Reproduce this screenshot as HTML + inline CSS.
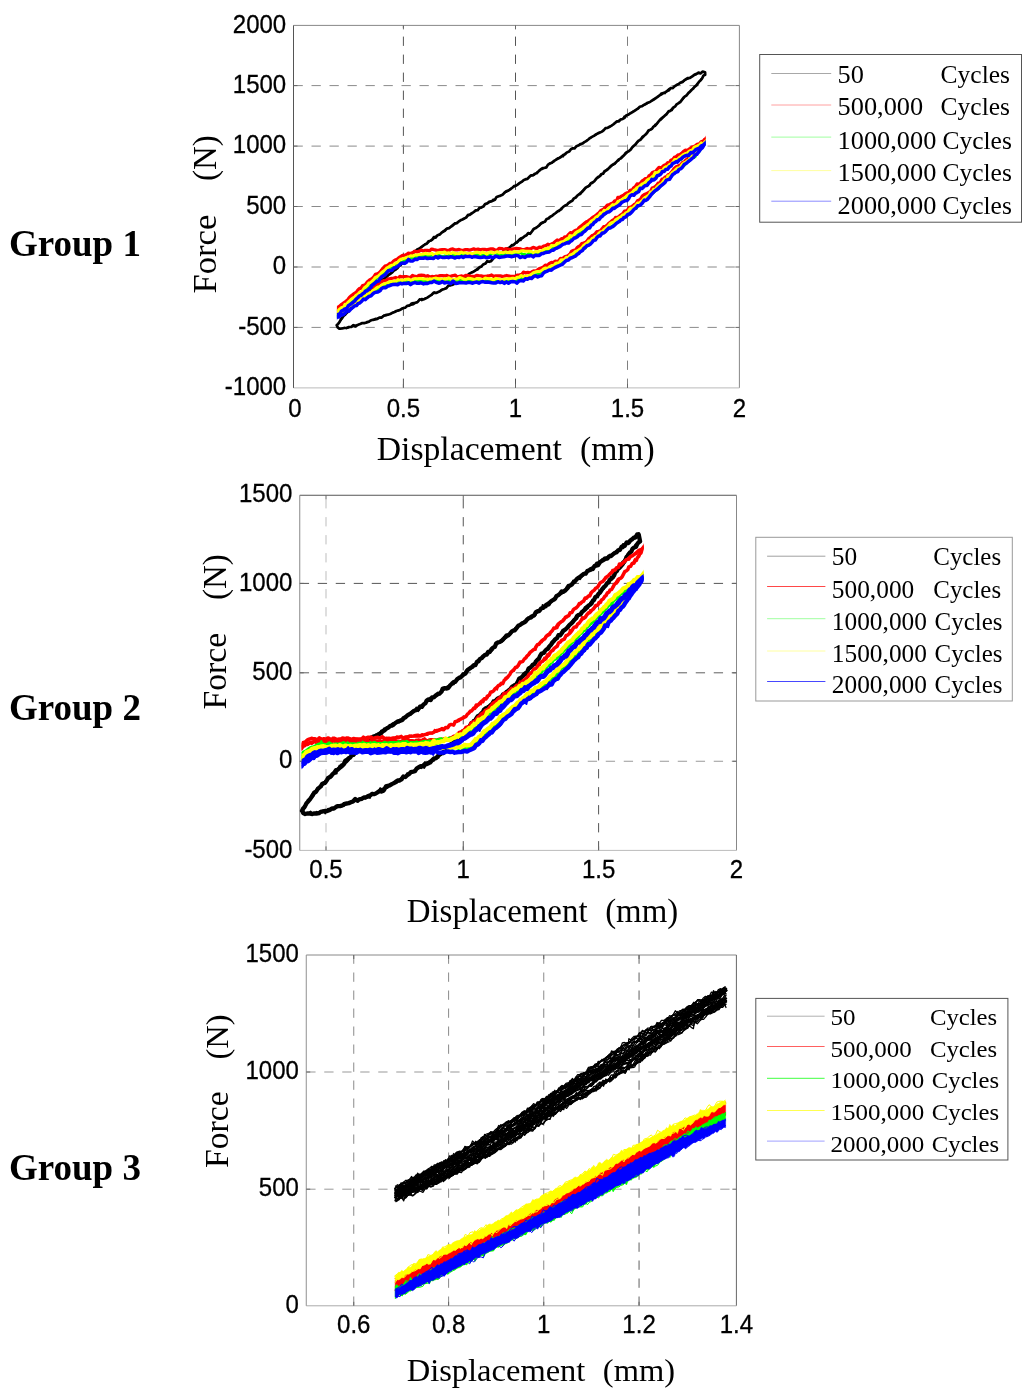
<!DOCTYPE html>
<html lang="en"><head><meta charset="utf-8"><title>Force-displacement hysteresis curves</title>
<style>
html,body{margin:0;padding:0;background:#fff}
svg{display:block}
text{fill:#000;stroke:none}
.t{stroke:#000;stroke-width:.3px}
.g{stroke-dasharray:9.3 8.7}
.c{fill:none;stroke-linejoin:round;stroke-linecap:round}
.t{font-family:"Liberation Sans",Arial,Helvetica,sans-serif;font-size:24px}
.l{font-family:"Liberation Serif","Times New Roman",Times,serif;font-size:33px}
.x{word-spacing:0.6px;white-space:pre}
.s{font-family:"Liberation Serif","Times New Roman",Times,serif}
.grp{font-family:"Liberation Serif","Times New Roman",Times,serif;font-size:37px;font-weight:bold}
</style></head>
<body>
<svg width="1024" height="1400" viewBox="0 0 1024 1400">
<rect width="1024" height="1400" fill="#fff"/>
<g fill="none">
<text class="grp" x="9" y="255.8">Group 1</text>
<path class="g" d="M403.4 387.9V25.4" stroke="#555"/>
<path class="g" d="M515.5 387.9V25.4" stroke="#555"/>
<path class="g" d="M627.5 387.9V25.4" stroke="#808080"/>
<path class="g" d="M293.5 85.6H739.4" stroke="#8a8a8a"/>
<path class="g" d="M293.5 146.1H739.4" stroke="#8a8a8a"/>
<path class="g" d="M293.5 206.5H739.4" stroke="#8a8a8a"/>
<path class="g" d="M293.5 267H739.4" stroke="#8a8a8a"/>
<path class="g" d="M293.5 327.4H739.4" stroke="#8a8a8a"/>
<path d="M293.5 25.4H739.4" stroke="#888"/>
<path d="M739.4 25.4V387.9" stroke="#888"/>
<path d="M293.5 387.9H739.4" stroke="#bbb"/>
<path d="M293.5 25.4V387.9" stroke="#555"/>
<path d="M403.4 25.4v4M403.4 387.9v-4M515.5 25.4v4M515.5 387.9v-4M627.5 25.4v4M627.5 387.9v-4M293.5 85.6h4M739.4 85.6h-4M293.5 146.1h4M739.4 146.1h-4M293.5 206.5h4M739.4 206.5h-4M293.5 267h4M739.4 267h-4M293.5 327.4h4M739.4 327.4h-4" stroke="#666"/>
<text class="t" transform="translate(295 416.5) scale(1 1.06)" text-anchor="middle">0</text>
<text class="t" transform="translate(403.4 416.5) scale(1 1.06)" text-anchor="middle">0.5</text>
<text class="t" transform="translate(515.5 416.5) scale(1 1.06)" text-anchor="middle">1</text>
<text class="t" transform="translate(627.5 416.5) scale(1 1.06)" text-anchor="middle">1.5</text>
<text class="t" transform="translate(739.4 416.5) scale(1 1.06)" text-anchor="middle">2</text>
<text class="t" transform="translate(286.2 32.5) scale(1 1.06)" text-anchor="end">2000</text>
<text class="t" transform="translate(286.2 92.7) scale(1 1.06)" text-anchor="end">1500</text>
<text class="t" transform="translate(286.2 153.2) scale(1 1.06)" text-anchor="end">1000</text>
<text class="t" transform="translate(286.2 213.6) scale(1 1.06)" text-anchor="end">500</text>
<text class="t" transform="translate(286.2 274.1) scale(1 1.06)" text-anchor="end">0</text>
<text class="t" transform="translate(286.2 334.5) scale(1 1.06)" text-anchor="end">-500</text>
<text class="t" transform="translate(286.2 395.0) scale(1 1.06)" text-anchor="end">-1000</text>
<text class="l x" style="font-size:33.7px" x="376.7" y="460" xml:space="preserve">Displacement  (mm)</text>
<text class="l" style="font-size:34.6px" transform="translate(216 293.5) rotate(-90)">Force</text>
<text class="l" style="font-size:33px" transform="translate(216 181) rotate(-90)">(N)</text>
<path class="c" d="M337 325l1.1-1.2 1.5-1.9 1.3-2.6 1.3-1.7 1.5-1.8 1.5-1.2 1.7-1.9 1.4-1.3 1.6-2.8 1.8 0 1.6-2.3 1.6-1.3 1.6-1.9 1.5-1.7 1.6-1.2 1.7-1.3 1.8-2.1 1.5-1.5 1.5-1.1 1.8-2.2 1.5-1.8 1.9-0.7 1.6-1.9 1.7-2.1 1.9-0.9 1.6-1.4 1.6-1.7 2-1.6 2-0.7 1.3-1 2.2-1.9 1.5-1.6 1.8-0.9 1.7-1.3 1.6-1.9 2-1.1 1.6-1.3 1.5-2.1 1.7-1.9 1.5-1 1.7-1.6 1.9-1.2 1.2-2.6 1.9-1.3 1.7-1.6 1.8-1.8 1.8-0.7 1.5-1.2 1.7-1.9 2-0.4 1.7-1.6 1.9-1.4 2-1.4 2-1 1.6-2.3 1.8-0.4 2-1.3 1.5-2.4 2.1-0.3 1.7-1.6 2.4-0.8 1.6-1.8 1.8-1.1 1.8-1 1.6-1.9 2.3-0.5 2-1.6 1.6-1 2.1-1.7 1.9-0.5 1.5-1.4 2.3-1.6 1.9-0.8 1.8-1 1.9-0.9 2-2.7 1.6-0.1 2.1-1.4 2.1-1.4 1.6-1.6 2.2-0.2 1.7-2.3 1.7-0.4 2.2-0.9 1.8-2.5 2.1-0.6 1.7-1.6 2.2-0.5 1.7-0.7 2.1-0.9 1.7-2.9 2-0.7 2.1-0.6 1.8-0.8 1.8-1.7 1.8-1.8 2.2-0.7 1.9-1.3 1.8-1.3 1.9-1.5 1.8-0.7 1.9-1.2 1.9-1.4 2.1-1.3 1.9-1.7 1.7-0.8 2.1-0.5 1.9-1.8 1.9-1.8 2 0 1.7-1.6 1.9-0.5 2-2.1 1.8-1.5 2.1-1.6 1.6 0 2.2-0.6 1.6-2.8 2-1.1 1.7-0.7 2.2-1.9 2-1 1.8-1.2 1.9-1 1.6-0.9 2-1.7 1.9-0.8 1.8-1.9 2.2-0.8 1.8-2.4 1.8-0.9 2-0.2 1.7-1.8 1.9-0.7 2-1.2 2.1-0.8 1.9-1.4 1.9-1.1 2.1-1.6 1.6-1.4 2-1.2 2.1-1 1.7-1.4 2.1-0.9 2.1-1 2-1 1.9-1.5 1.7-1.9 1.9-0.3 2.1-1.1 1.7-0.9 2-1.4 2-1.8 1.7-1.3 1.8 0 2-1.8 2-0.7 1.9-1.1 1.8-2.5 2-0.6 1.6-1.2 2.1-1.1 2-1.2 1.8-1.3 1.9-1.2 2-1.9 2-0.5 2-1.4 1.8-0.8 2.1-1.4 2.2-0.7 1.6-1.1 2.2-1.4 1.8-1.2 1.7-1.2 2-1.5 1.9-1 2.1-1.4 1.7-0.7 2.2-1.4 1.9-0.9 1.5-2 2.3-0.2 2.1-1.9 1.6-1.1 2.2-1 1.5-1.3 2.3-0.8 1.6-1.5 2.3-1.4 1.6-1 1.9-0.1 2.4-1.6 2.3-1.7 1.6-0.5 2.3-1.5 2 0.9 2.2-1.9 2.4 0.6 0.1 2.5-1.8 0.9-1.2 2.6-1.5 2.1-1.7 1.5-1.1 1.6-1.5 2-1.9 1.4-1.2 1.7-1.8 1.5-1.7 1.9-1.3 1-1.8 2.4-1.6 1-1.5 1.3-1.7 2.3-1.7 2.2-1.9 1.2-1.7 1-1.3 2.1-1.9 1.1-1.5 1.7-1.8 1.7-1.6 0.5-1.8 2.7-1.3 1-2 1.8-1.5 1.2-1.7 1.5-1.5 1.8-2 2.4-1.5 2-1.7 0.8-1.5 2.1-1.7 0.9-1.8 0.9-1.5 2.5-1.7 1.8-1.5 1.2-1.7 1.9-1.7 1.8-1.6 0.9-1.5 1.4-1.4 2.1-2 1.6-1.6 1.6-1.5 2.1-2.1 1.9-1.7 0.6-1.6 2-1.6 1.6-1.4 1.4-2 1.7-1.6 0.8-1.9 2-2.1 2.1-1.7 0.9-1.3 0.9-1.9 2-1.9 1.8-1.4 1.1-2.1 1.1-1.4 2.4-1.6 0.3-2 2.3-1.8 1.3-1.4 1-2 2.6-1.4 1.1-2 0.9-1.4 2.3-1.8 1.1-1.8 0.8-1.8 2.1-1.6 1.9-2 1.7-1.5 1.3-1.8 1.4-1.5 1.7-2.1 1.2-1.3 2.1-2.1 1-1.9 1.4-1.4 1.6-1.8 0.7-2.1 1.5-1.9 2.4-1.7 0.9-1.9 1.1-1.8 1.6-1.5 1-2 1.8-1.9 0.9-1.8 1.8-1.9 0.5-1.7 2.7-1.8 0.6-2 0.9-1.8 2-1.5 1.3-2.1 1.6-1.9 0.8-1.5 2.1-2.1 2.8-2-0.8-1.6 2.1-2 1.1-1.8 1.6-1.7 0.5-1.9 1.6-2 2.1-1.8 1.1-1.9 2.1-1.6 0.3-2.1 1.7-1.9 2.5-1.5-0.3-2.2 1.2-1.6 1.7-1.9 1.3-2.1 1.7-2.1 1-1.6 0.8-1.9 1.7-1.9 2.4-2 0.6-1.8-0.6-1.9 2.4-2.3 0.9-1.6 1.9-2.1 0.9-2 2.2-1.9 0.8-1.6 1.2-2.1 0.9-2.3 1.2-1.6 1.4-1.9 1.8-1.9 1-1.9 0.8-2.1 2-1.6 0.8-2.2 1-1.9 0.8-2.1 1.2-2 1-1.8 0.1-2.1 2.7-2.2 0.8-2.1 0.7-2 1.5-1.9 0.7-2.2 1-2.1-0.3-2.1 2-2.1 1.4-2 1.4-2.3 1.2-1.6 0.8-2.4-0.2-2 0.6-1.8 2.2-2.2 0.7-2.1 1.4-2.2 0.5-2.2 1.1-1.8 0.2-2 1.8-2.4 0.5-1.8 1.2-2.4 1-2.1 0.6-1.9 1-2.2 0.8-2.1 1.2-2.3 0.7-2.2 0.4-2.2 0.8-2.1 1.8-2.1 0-2.2 1.3-1.9 0.5-2.3 0.3-2.4 0.7-1.5 1.1-2.6 0.8-2.3 0.8-1.8-0.1-2.2 1-2.5 0.9-2.3 1.4-2.1-1.2-2 1.8-2.4 0-2.3 1-2.2 0-2.1 0.5-2.9 0.2-1.6-1.2-1-2.3" stroke="#000" stroke-width="2.7"/>
<path class="c" d="M336.9 325l1.5-1.1 1.3-2.1 1.7-1.8 1-1.1 1.4-3.7 1.2-1.3 1.7-2.1 1.5-0.8 1.7-0.8 1.4-2.3 2.1-1.3 1.2-3.2 1.8-0.1 1.4-2.4 1.9 0.4 1.9-2.2 1.2-1.5 1.9-2.2 1.6-1.1 1.7-1.5 1.7-2.2 1.5-1.6 1.8-1.2 1.6-1.8 1.7-1.5 1.6-1.2 2.2-1.8 1.4-0.4 2-3 1.8 0.3 1.5-2.4 2.2-1.4 1.3-1.9 2.1-0.6 1.9-1.5 1.2-1.2 1.6-2.1 1.7-1.1 2.3-0.3 1.1-2.6 1.4-2.2 2.1-0.5 1.4-2.3 1.7-1.1 1.5-1.5 1.4-2.1 2.1-2.6 1.6-0.3 1.7-0.7 1.9-2 1.9-0.8 2.2-0.9 1.8-2.4 1.8 0 1.7-1 1.7-1.7 2.2-1.2 1.9-1.3 1.9-0.5 1.7-2.7 1.8-1.4 2-0.9 1.6-2.3 1.9-1.7 2.2-0.8 1.5-0.3 2.1-1.2 2-2.7 1.8-1.5 2-0.1 1.5-1.1 2.1-1.1 1.9-0.8 2.1-0.8 1.9-1.9 1.8-0.9 2.3-2.4 1.6-1.2 1.8-0.2 1.8-0.9 2.1-1.2 1.8-1.3 2.4-1 1.6-1.2 1.8-3 1.8-0.5 1.8-0.3 2.1-1.1 2.3-2.7 1.8 0.7 1.7-2.3 2-1.1 1.5-0.8 2.4-0.9 1.7-2.7 2.3 0.5 1.6-1.9 1.8-1.8 2.1-0.8 1.7-2.6 2.3-0.1 1.7-0.6 1.9-1.9 1.9-0.9 1.8-1.1 2-1.1 1.9-0.5 2.2-2 1.6-1.3 1.9-0.7 1.8-0.1 1.9-2.9 1.9-0.7 2.2-2.6 1.7 0.8 2.1-1.7 1.6-0.8 1.9-2.2 1.5-1.9 2.5 0.1 2.2-1.3 1.4-2.4 2.2-1.6 1.8 0.1 1.5-1.7 2.2 0.7 1.6-3.5 2-1.1 2.2-1 1.7-2.3 1.6-0.7 2.5 0.6 1.3-2.4 2.1-1.6 1.9-1.6 2 0.1 1.8-1.1 1.7-1.4 2.7-1.6 1.4-0.7 1.9-1.1 1.7-1.9 2.4-0.2 2.2-3.1 2-0.5 2.2-0.5 1.7-1.1 1.7-1.9 1.8-0.2 2.2-0.7 1.6-1.6 1.9-1.4 1.7-0.8 2.1-1.6 2.3-2.3 1.4-0.5 2-0.2 1.3-2.9 2.7-0.4 1.7-1.5 2.2-1.5 1.7-1.3 1.7-0.4 1.8-1 2.3-1.1 1.9-2.4 1.7-0.4 2.1-0.7 1.8-0.7 2.3-1.3 1.7-1.1 1.7-1 2.2-1.3 1.8-2.4 2.4-0.5 1.5-1.8 1.7-2.3 2.2-0.7 1.9 1.5 2-3.5 1.9-1.9 1.7 0 2.1 0.3 2-2.3 1.7-0.8 2-1.7 2.1-1 1.6-0.2 2-1.5 2.1-1.8 2.1-0.4 2.1-0.9 1.6-2 2.3-0.8 2.1-1 2.3-1.5 1.7 0.7 2.1-1.4 2.2-0.5 0.4 1.7-1.3 2.1-1.9 3.7-1.2-0.1-1.4 2.9-1.5 1.1-1.8 2.4-1.3 1.7-1.7 0.7-1.7 2-1.4 1.9-1.6 1.7-1.9 1.5-1.3 1.4-1.3 2.3-2.4 2-1.2 1.1-1.6 0.7-1.8 2.4-1.6 1.3-1.7 1.9-1.3 2.6-2.2 0.1-1.5 1.7-2 1-1.2 2-1.7 1.4-2.1 3.1-1.5 0.6-1.3 1-1.9 3.3-1.8-0.7-2 3.1-1 1.7-1.3 1.3-2.2 1-1.4 1.7-1.7 1.4-1.7 2.4-1.6-0.5-1.6 2.8-1.8 2.1-1 1.1-1.6 0.8-2.1 2.7-1.3 1.2-2.3 2.6-1.5 2-1.4 0.6-2.2 0.2-1.7 2.7-1.4 1-2.2 2.6-1 2.2-2 0.5-1.8 2.7-1.7 1.1-2 0.9-1.8 0.4-1.4 2.3-1.7 0.4-1.9 3.2-1.7 0.9-1.8 2.4-1.3 0.8-2.3-0.1-1.6 3.4-1.7 1.7-1.9 2.1-1.6-0.4-1.7 1.6-1.2 2.2-1.6 0.8-2 1.3-2.1 1.7-1.6 4-1.6-0.7-1.8 1.2-1.7 1.9-1.6 1.8-2.3 2.3-1.5 1.2-1.6 1.3-1.7 0.9-1.9 1.5-1.8 0.9-1.9 0.8-1.9 3.8-1.7-0.3-1.9 2.4-1.9 0.4-1.4 1.5-1.9 1.4-2.1 0.5-1.6 2.3-1.7 1.7-2.1 1.7-1.8 1.1-1.8 1.8-2.2 0.8-1.8 1.2-1.4 0-1.9 2.4-1.6 2.9-2.2 0.3-1.5 1.9-1.9 0.7-1.6 1-2.4 3.3-1.8 0.1-1.7 2.2-1.8 0.6-2.2 0.8-1.7 0-2.1 2.9-1.1 0.2-2.4 0.8-1.8 3.8-2 0.9-1.8 1.2-1.7 0.9-2.2 1.2-1.8 1.6-1.4 1.1-2.2 1.2-2.1 1.7-2.1-1-1.8 3.6-2.1 0.1-1.7 2.3-2.1 1.4-2-0.1-1.9 2.3-2 1.3-1.7 0.2-1.4 1.3-2.5 1.8-2.1-0.3-1.4 2.5-2.1 1.8-1.5 0.8-2.2 0.4-1.9 2-2.3 2.4-2.2 1-1.7 0-1.9 0.6-2.4 1.6-2.2 1-1.8 0.5-2.1 1.2-2 1.7-2 1.2-1.6-1.4-2.6 3.4-2.1 0.4-2.2 1.7-1.7 0.2-2.5 1.3-1.5 1.9-2.3-2.2-2.4 4.2-1.7 0-2.2-0.5-1.8 0.4-2.6 3-1.7 0-2.2 2.4-1.9 0.3-2.5 0.7-2.1 1.7-1.5 0.3-2.4 1.2-2.6 1-1.7 0.5-2.4 1.1-2.1 0.9-2.2-0.7-1.7 1.6-2.5 0.9-2 0.6-2.2-0.1-2.5 1.5-2 1.3-1.8 0.7-2.7 1.6-1.8-0.8-2.2 0.9-2.1 0.5-2.2 0.9-2.1 0.4-2.4-0.3-2.2 2.1-2.4 0.9-2.2 0.7-2-1.2-2.6 0.8-2.2 1.1-1.7-2.1-1.3-2" stroke="#000" stroke-width="1.3"/>
<clipPath id="k1"><rect x="336.9" y="100" width="368.8" height="250"/></clipPath><g clip-path="url(#k1)">
<path class="c" d="M333.7 310.5l3.2-2.3 1.7-1.4 1.3-0.8 1.8-1.7 1.7-1.1 1.5-1 1.6-1.3 1.6-1.6 1.5-2 1.7-1.5 1.7-1.4 1.6-1.1 1.8-1.2 1.4-2 1.5-1.5 1.8-0.5 1.5-2.6 1.8-0.4 1.4-1 1.7-2.3 1.6-1.4 1.6-1.2 1.3-0.5 1.8-1.9 1.6-2.5 1.8-0.5 1.3-0.6 1.7-1.4 1.4-1.6 1.3-1.9 2.3-2.3 1.5-0.1 1.8-1.4 1.3-1.1 2-0.3 1.8-2 1.5-1.1 2.1-0.8 1.7-1.6 2.1-1.3 1.5-0.9 2.1 0.1 2-1 1.8-1.3 2.3 0.4 2.3-1.1 1.8-1.3 2.2 0.7 2.3-0.8 1.9-1 2 0.9 1.8-0.6 2.5-0.1 2 0.6 2.1-1.8 2.3 0.6 2.1 0.4 1.7 0.4 2.5-0.6 2-0.2 2.3-0.1 2 0.6 2.3 0.4 1.8-1.3 2.2-0.4 2.1 1 2.1-0.1 2.1-0.3 2.4 0.8 1.7 0.1 2.3-0.8 1.9 0 2.1 0.6 2.3-0.7 1.9-0.6 2.4 0.8 2-0.6 2.1 0.7 2.3-0.5 2.3 0.1 1.8 0.4 1.9-0.4 2.3-0.4 2.2-0.2 2.4 1.6 1.9-0.5 1.9-1.6 2.5 0.3 2.1 0.9 1.9-0.8 2.2 0.4 2.1 0.4 2.5-0.5 1.6-0.2 2.1-0.3 2.2 0.2 2.3 0.3 1.9 0.7 2.3-0.4 2.2-0.8 2.3 0.6 1.7-0.6 2.1-1.1 2.1 0.7 1.8 0.5 2.2-1.4 2.3 0.3 2-1.4 2.4-0.5 1.8-1.4 1.9 1.2 2.1-1.7 1.6-0.5 1.9-1.7 1.9-1.5 2 0.7 2.3-2.1 1.5 0.4 1.7-2.1 2 0 2-2.5 1.7-1.7 1.9 0.4 1.4-1.6 1.8-1.1 1.9-0.5 1.8-2.3 2-1.5 1.3-1.1 2-1.6 1.6-1.3 1.8-0.9 1.4-1.2 1.5-1 2.1-1.8 1.5-0.7 1.2-0.9 2.1-1.9 1.3-1 1.8-2.2 1.6-0.6 1.5-1.2 2.1-1.9 1.4-1.8 2.1-0.4 1.6-1.1 1.7-0.3 1.8-2.3 2 0.1 1.3-3.6 1.8 0.1 1.8-1.3 2.1-1.1 1.7-1.3 1.6-0.9 1.7-0.3 1.4-2.3 2.3-0.4 1.3-2 1.8-1.2 1.6-2.7 1.9 0.1 1.5-0.9 1.7-2.3 1.7-0.9 1.6-1.4 1.7 0.5 1.8-3.1 1.7-1.1 1.8-2.4 1.8-0.6 1.2-0.1 1.6-2.2 2-2.1 2 0.3 1.4-1 1.4-1.2 2.3-1.1 1.5-1.8 1.4 0.8 1.8-3.2 1.9-0.7 1.6-2.2 1.8-0.7 1.9-1.7 1.6-0.1 2-1.5 1.5-1.5 2.1-1.7 1.4 0.4 1.7-0.9 1.6-1 2.1-1.6 2-0.6 1.9-0.9 1.1-1.3 2.4-0.5 1.7-1.9 2.2-0.8 1.6-2 3.2 0.6" stroke="#ff0000" stroke-width="3.3"/>
<path class="c" d="M707.7 135.9l-2.6 4-1.1 2.4-1.5 1.1-1.7 2.3-1.3 1.7-1.2 0.2-1.8 3-1.2 0.6-1.6 3.1-1.5 0.6-1.3 0.7-2.1 1.8-1.2 1.3-1.8 1.4-1.7 2-2 0.8-1.3 2-1.7 0.7-2.1 0.9-1.3 0.6-1.5 1.4-1.6 2.4-1.5 1.7-1.6 1.9-1.2 0.1-1.7 1.9-1.7 0.8-1.4 1.7-1.4 0.2-1.9 3.2-1.9 0.6-1.3 1.7-1.4 1.7-2.1 1.3-1.4 0.4-1.4 3.1-1.6 0.9-1.7 1.2-1.7 0.7-1.7 0.8-1.7 1.3-1.3 2.3-1.6 1.5-1.9 0.9-1.7 2.9-1.3 0.5-1.7 1.7-1.9 1.3-1.8 0.2-1.4 2.5-1.5 1-1.7 0.3-1.7 2.5-2.2 1.4-1.4 1.2-1.8 1.3-1.8-0.2-1.1 1.9-2.2 1.1-1.7 1.6-1.8 1.3-1.6 1.9-1.6 1.1-1.9 0.3-1.7 2.4-1.7 1.8-1.8 0.5-1.5 0.3-1.5 1.8-1.7 1.6-1.7 0.5-2 2.2-1.3 0.7-1.7 2.5-1.4 1.3-2.1 0.8-1.8 0.6-1.8 2.3-1.4 0.7-1.6 1.3-1.7 2.4-2 0.1-1.6 0.8-1.5 2.5-1.9 1.7-1.9 1-1.9 0.5-2.1 1.9-1.8-0.5-1.8 2.5-1.5 0.9-2-0.5-2.1 1.4-1.8-0.1-2 1-1.8 1.9-2.3-0.2-1.8 1.7-1.8 1-2.3 0.6-1.8 1.4-1.9 1.3-2-0.3-2 1.1-2 0.9-2-0.5-2 0.4-2.3-0.6-1.7 2.2-2.6 0.8-2 0-2.1 1.3-2.3 0-2.2-0.2-2.1-0.3-1.7-0.5-2.4 0.6-2.3 0.2-1.5-0.4-2.4-0.1-2.2 0-2.3 0.6-2-1.4-2.2 0.8-2 0.2-2.2 0.4-2.2 0-2-0.6-2.4-0.2-2-0.3-2.2 1.4-1.9-0.4-2.1-0.2-2.1-0.5-2.7-0.3-1.4 1.4-2.5-0.7-2.1 0.3-2.2 0.8-2.1-2-1.9 0.4-2.3 0.7-2.1 0.2-2.1-1-2 0.6-2.6-0.3-2.1 0-2.3 0.6-2.1-0.1-1.8 0.6-2.1-0.3-2.2 0.5-2.1-1.3-2.1 0.7-2-1.1-2-0.1-2.6 0.2-1.7 1.3-2.2-0.2-2.5-1.1-1.9 1.9-2.3-0.1-2.3-0.6-1.8 0-2.5 0.3-1.8-0.5-2.3 2.4-2-1.3-1.9 0.5-2.2 0.4-2.2 0.4-1.9 0.6-1.8 1.4-1.9-0.1-2.3 1.1-1.5 1.1-2.1 2-1.9 0.1-1.5 1.1-2 1.9-1.8 0.2-1.9 1.7-2.1 1.9-1.3 0.9-1.8 1-1.8 2.2-1.4 0-2 1.2-1.5 0.5-1.9 2.3-2.1 1.5-1.8 0.4-1.6 2.7-1.8 0.7-1.6 1.1-2-0.1-1.9 2.1-1.2 1.2-2.2-0.3-1.7 2.3-2.8 1.9" stroke="#ff0000" stroke-width="3.3"/>
<path class="c" d="M334.1 316.1l2.5-1.6 1.9-1.2 1.8-2.1 1.6-1.3 1.6-1.9 1.4-1.6 1.9-1.4 1.3-1.4 1.7-0.2 1.3-2 1.9-1.3 1.5-1.8 1.7-1.7 1.2-1.4 1.8-1.2 1.8-0.5 1.4-1.7 1.9-1.7 1.9-1.2 1.2-2.1 1.7 0.2 1.4-2.9 1.6-0.6 1.4-0.2 2-4.2 1.2-0.7 1.7-1 1.6-0.9 1.5-2.5 1.7-0.5 1.7-1.2 1.9-1.2 1.5-2.8 1.9 0.6 1.6-0.6 1.8-1.8 1.8-1.9 1.7-1 2.1-2.3 1.7 0.9 1.9-0.3 2.2-1.3 1.5-3 2 0.9 2.2-0.5 2.1-0.7 2 0.5 2.3-2.1 2 0.3 2.1 0.5 1.8 0 2.6-0.6 1.8 0.5 2-0.4 2.5-1 1.9 1.4 2-1.1 2-0.7 2.3 1.2 2 0.8 2.1-0.6 2.3 0 2.1-0.5 2-1.6 2.4 1.8 2.2-0.3 2.1-1.7 1.8 1.1 2.1-0.2 1.9 1.2 2.4-0.6 2 0 2.3 0 2-1 2.3-0.4 2 1.1 2.2-0.2 2.2 0.1 1.5-0.1 2.4-0.3 2.3 0.6 2.1-0.2 2.2-0.6 1.9-0.8 2.4-0.4 1.9 0.6 2.1 0.7 2.1 0.6 2.3-0.8 2.2 0.6 1.9 0.2 2.2 0.7 1.7-1.3 2.7 0.7 1.5-0.8 2.4-1 1.8-0.6 2.5 1.5 2.1 0.3 2.6 0.9 1.5-2 1.9 0.6 2.6-0.4 2-1.5 2.3 1.4 2-0.9 1.6-1.1 2.3 1.1 2-2.1 2.1 0 1.9-1.1 2-1.1 2-0.5 1.6-0.2 2.1-1.8 2.3-1.5 1.8 1.2 1.7-1.8 2-1.8 1.9-0.5 1.9-2 1.5-0.1 1.7-0.6 2.1-2.7 1.6 0.5 1.6-1.2 2-1.8 1.6-0.9 1.8-1.5 1.7-1.3 1.8-2.1 1.6 0.9 1.7-2.7 1.3-0.9 1.7-1.5 1.6-1 1.7-1.3 2-2.3 1.3-0.5 1.6-1.8 2.1-1.7 1.4 0 1.5-1.3 1.9-2.5 1.7-0.8 2-1.6 1.6-1.3 1.5-1.1 2.1-0.2 1.4-2.3 2.3-1.2 1.5-0.1 1.3-1.8 2.6 0 1.2-2.6 1.4-0.9 2.5-1.4 1.2-2.2 1.8 0.3 1.7-1 1.7-1.1 1.8-2 1.3-0.8 2.4-1.8 1.4-1.2 1.5-1.8 1.8-0.9 1.6-1.8 1.8-0.3 1.7-2.1 1.7-1.5 1.7-0.7 1.5-1.2 1.8-2.3 1.6-0.9 1.8-1 1.4-0.7 1.7-1.2 2.1-1.1 1.3-1.9 2-1.6 1.8-1.7 1.2-0.3 2.1-1.5 2.1-0.7 1.3-0.9 2.2-0.5 1.2-2.9 1.6-0.3 2-2.5 1.8 0.5 2.2-2.5 1.6-0.5 1.7-1.6 1.8 0.5 2.2-1.7 1.3-0.9 1.9-1.7 2-0.7 2-1.9 3.1-1.4" stroke="#00ff00" stroke-width="2.8"/>
<path class="c" d="M708 140.1l-2.9 3.5-1.3 1.4-1.9 0.6-1.1 3-1.1 2.2-1.3 1.7-1.7 0.6-1.2 3.2-1.6 1.3-1.7 0.2-1.7 1.5-1.6 2.1-1.5 0.7-1.6 1.6-1.7 2-1.6 1.3-1.6 0.4-1.7 1.5-1.5 1.3-1.7 1.8-2 1.4-1.4 1.2-1.3 2.1-1.5 1.1-1.7 1.4-1.7 0.2-1.5 1.8-1.5 1.9-1.7 2.1-1.9 0.7-1.2 2.8-1.5 0.6-1.8 1.5-1.2 1.3-2.3 1.7-1.6 1.7-0.7 0.5-2.4 2.7-1.9 0-1.2 2.2-1.4 1-1.9 1.4-1.6 1.9-1.4 1.1-1.4 2.2-1.9 0.1-1.7 2-1.8 1.4-1.4 2.2-1.3 1-2.4 0.8-1.7 1.9-1.5 0.8-1.6 0.3-1.7 1.9-1.9 1.8-1.8 0.2-1.4 2.4-1.9 0.6-1.5 0.7-2 1.9-1.5 0-2 1.8-1.2 1.1-2.1 2.3-1.7 0.4-1.5 1-1.8 2.5-1.7 0.8-1.5 1.2-1.8 1.4-1.2 2.4-2.2 0.8-1.4 0.7-1.9 3.4-1.9-0.1-1.8 2.2-1.2 0.8-2 1.5-1.4-0.1-1.9 1.5-1.5 1.9-1.8 0.8-1.4 1.2-2.2 1.7-2-0.9-2 2.2-1.3 2.1-2.1-0.2-1.6 1.3-2.4 1.2-1.7 0.9-2 0.9-1.7 0.1-2.1 1.6-1.6 0.3-2.3 2.2-1.9-0.5-2.1 1.4-1.7 0.6-1.9 1.6-2.1 0.2-2.2 1.1-2.1-0.2-2 0.8-1.9 0.2-2.1 1.1-2.1 0.4-1.8-0.1-2.2 0.3-2.2 1.3-2.2 0.1-2.1 0.1-2.1 0.1-2.1 0-2.1 0.7-2.1-0.4-2.3 0-1.7 0-2.3 0.1-2.2 0.1-2 0.2-2.5-1.1-2.1 0.9-2.2-0.6-2 0.5-1.9 1-2.2-1.9-1.9 0.4-2.7 0.4-1.8-1-2.4 2.8-2.2-1.8-2.1 1.3-1.7-1-2.3 0.8-2-0.3-2.3-0.6-2 0.4-2.2-0.7-2.1 0.2-2.2 1.1-2-1.4-2.3 0-2.1 2.1-2.2-1.7-2.2 0.4-2.3 0.8-2-1.3-1.7 0-2.4 1.5-2.4-1.1-2 0.2-1.9-0.4-1.9 0.6-2.8-1.3-2.1 1.1-2.3 0.6-1.8 0-2.2-0.8-1.8 0.7-2.2 1-2.3-1.1-1.6 0.5-2.7-0.5-1.9-0.6-2.1 1.8-2.4-0.7-1.9 0.5-2.1 0.9-2.1 0.6-1.9 0.6-2.1 1.5-2 0.2-1.7 0.9-2.1 0.3-1.7 2.3-2-0.2-1.7 0.5-1.9 2-2 2-1.5 1-1.9 1.7-1.4 0.7-2.2 1.2-1.4 1.2-2.3 0.7-1.5 1.3-1.9 1.3-1.5 1.5-1.9 0.6-1.4 1.5-1.9 1.6-1.6 0.9-2.2 1.1-2 1.2-1.4 0.5-1.6 1.1-2 1.5-1.5 2.2-3.3 1.9" stroke="#00ff00" stroke-width="2.8"/>
<path class="c" d="M333.9 315.2l2.8-3.1 2.2-2.4 1.2-0.9 1.6-1.4 1.6 0.2 1.7-3.3 1.8 0 1.3-2.2 1.1-0.8 2-2 1.6-1.1 1.9-1.3 1.4-1.6 1.8-1.1 1.5-1.6 1.5-0.8 1.8-1 1.4-2.6 1.5-1.4 1.5-1 1.7-2.7 1.3-0.2 2.1-1.8 1.6-1.6 1.3-1.9 1.4-0.6 1.8-1 2-2 1.4-1.6 1.6-1.2 1.7-1.1 1.6-1.9 1.7-0.9 1.8-1.5 1.8-0.6 1.5-0.1 1.8-2 2 0 1.9-2.7 1.9-1.3 1.8-0.4 1.9-0.6 1.8-0.6 2.4-0.7 1.8-1 2.2 0.3 1.9-1.1 1.9 0.1 2.2-0.5 2.1-0.4 2.3-0.2 2-0.7 2.3 0.7 2.1 0 2.4-0.7 1.4 1.7 2.7-1.4 1.7-0.9 2.2-0.2 2.2 0.4 2.3-0.9 1.9 1.6 2-0.9 2.5 0.8 1.7-1.1 2.5 0.9 1.9 0.5 2.3-0.3 1.9-1.5 2 1.1 2-0.3 2.2 0.9 2.4-0.5 2.3 0.8 1.8-1 2.2-0.8 1.8 0 2.3 1.3 2.4-1.4 2.1 0.7 1.7 1.1 2.2-1.3 2.1-0.6 2.3 1 1.9-0.3 2.3-1 2.3 1.1 1.9-0.4 2.1 0.3 2.2-0.9 1.8 1.1 2.4-1.1 2.1 1 2.4-1.5 1.6 0.8 2.5 0 2.1-1 2.3-0.4 2.1 0.6 1.9-0.1 2 0 2.5 0.3 2.1 1.3 1.7-1.4 2.4 0.7 1.8-1.2 2.2-0.2 1.7-1 2.3-1 1.9-0.4 2 0.3 1.8-3.1 2 0.3 2.2-0.6 1.7-2 1.6 0.1 2.1-1.2 2.3-0.3 1.6-1.4 1.8-1.5 2.1-0.9 1.2-2.5 2 1.4 2.1-2.2 1.8-2.2 1.6-0.9 1.5-0.8 2.1-1.4 1.6-0.8 1.5-1.7 1.5-0.6 2.1-1.8 1.5-1.1 1.6-2.1 1.7-1 1.7-1 1.5-1.9 1.8-1 1.8-1.4 1-2.1 1.9 0.3 1.8-2.8 1.7 0.6 1.8-1.7 1.6-1.4 1.8-1.6 1.8-1.7 1.9 0.4 1.7-1 1.6-2.7 2 0.3 1.7-1.6 1.5-1.3 2.1-1.4 1.7-1.7 1.4-1.1 2.1-1 1.4-0.6 2.2-2.8 1.1-0.4 1.9-2.1 1.6-0.5 1.6-1.5 1.7-1.6 1.8-0.5 1.6-1.2 1.8-2.4 1.6-1 1.8-0.5 1.7-1.9 1.4-0.8 1.4-3.1 2.3 0.2 1.4-1.2 1.1-0.9 2.7-0.1 1.5-2.7 1.8-1.2 1.8-0.3 2.1-2.2 1.2-0.2 1.8-1.7 1.8-2.8 1.8 0 1.5-0.3 1.8-2 1.8-1.1 1.4-1.2 2.1-1.2 2-0.4 1.5-1.6 2-1.2 1.5 0.1 2.1-3.3 1.4-0.6 2-0.8 2.2-1.1 1.5-1.9 2 1.6 1.6-2.6 3.2-1.3" stroke="#ffff00" stroke-width="3.0"/>
<path class="c" d="M708.1 137.6l-3 4.9-1.5 1.9-1 1.4-1.8 2-1.1 0.8-1.4 0.7-1.5 2.4-1.5 1.8-1.5 1.5-1.8 0.9-1.7 0.5-1.2 3.9-1.4 0.1-1.9 1.6-1.6 0.7-1.7 1.3-1.6 2.2-1.6 1.6-1.6 0.2-2.1 1.7-1.2 1.3-1.9 1.2-1.1 1.5-2 1.9-1.5 0.4-1.3 3.8-1.8-0.7-1.4 2-1.9 2.7-0.9 0.1-2.1 1.7-1.8 1.8-1.2 2-1.9-0.1-1.5 2.8-1.6-0.2-1.5 3.2-1.7 1-1.3 1-1.7 0.9-2 2.5-1.3 1-1.8 1.6-1.6-0.2-1.7 2.2-1.8 1.5-1.3 1.6-1.9 0-1.5 1.3-1.5 2.6-2.1 0.8-1.5 1.7-1.7 0.4-1.8 2-1.7 0.7-1.8 1.1-1.9 1.2-1.4 2.2-1.4 0-2.2 1.2-1.5 1.8-1.8 2-1.8 1.5-1.6 1.3-1.5 1.5-1.8 0.4-1.7 1.4-1.5 2.6-1.9 0.3-1.7 1.6-1.5 0.6-1.7 2.2-1.6 0.3-1.3 1.8-2.2 1.4-1.7 1.3-1.4 1.9-1.6 1.4-2 1.4-1.6 0.8-1.9 0.8-1.4 1.6-1.9 1-1.7 0.9-2 2.7-1.6-0.6-1.9 2.2-1.8 0.3-1.9 0.3-2.3 3.3-1.8-0.5-1.3 0.5-2.3 3-1.7-0.7-2.1 1.2-2 1.7-1.8-0.7-2.1 0.9-1.9 1.9-1.9 0.7-2.2 0-1.7 0.4-2.3 0.8-2.2 1.8-1.9 1.1-1.9 0.6-1.7 0.1-2.5 0.4-2-1.1-2.2 1.7-1.9 0.1-2.1 1.5-2.1-0.6-2.2 0.4-2.4 0.2-1.9 0.2-2.3 0-1.9 1-2.3-0.4-2.1-0.6-2-0.7-2.2 1.5-2-0.6-2.1-0.4-2.5-0.4-1.8-0.3-1.8 1.2-2.4 0.1-2.4-0.7-1.8 0-2.1 1.1-2.4-0.8-2.3-0.4-2.1-0.3-2 1-2.2-0.1-2.2-1.1-2-0.7-2 1.7-2.3 0-2.3 0.3-1.9-0.2-2.4-1.5-2.2 1.7-1.9-0.9-2.1 1.2-2.1-0.7-2.4-0.4-1.8-0.5-2.5 0.4-1.9 0.6-2.4-0.3-1.8 0.8-2.1-0.7-2.3 0.2-1.9-0.6-2.1 0.1-2.1 0.1-2.2-0.2-2.1 1.3-2.5 0.3-1.6-1.1-2.4 0.2-2.3 1.1-2-0.3-2.3 0.4-1.8-0.9-2.2 2.2-2.1-0.6-2.3 0.5-1.9 0.2-1.7 0.8-2.1 0.7-2.2 0.8-2.1 1.2-1.7 1.4-1.6 0.2-2 1.3-1.7 1.7-1.9 1-2.1 2.7-1.5-1.3-2.1 2.1-1.5 0.7-1.7 1.3-1.7 1.3-1.7 1.2-1.7 1.8-1.8 0.9-1.8 1.6-2.1 2.4-1.5 0-1.8 0.5-1.8 2.1-1.5-1.4-1.9 3.7-2 1.5-1.6 0.1-2.2 1.3-1.4 0.8-3.4 1.5" stroke="#ffff00" stroke-width="3.0"/>
<path class="c" d="M334 317.9l3.3-2.5 1.4-1.2 1.5-0.5 1.1-2.4 2.3-1.4 1.2-1 1.9-0.3 1.6-2.8 1.7-1.2 1.3-0.9 1.8-1.4 1.5-1.2 1.5-2 1.9-1.6 1.4-1.6 1.6-0.4 1.7-1.7 1.7-1 0.9-1.6 2.1-0.5 1.6-1.9 2.1-1.6 0.4-1.5 2.3-1.7 1.6-1.4 1.5-1.4 1.9-0.3 1.3-2.4 1.6-1.7 1.2-0.8 2.1-1.1 1.7-2.4 1.9-1.9 1.5 0 2-0.4 1.8-2.2 1.3-0.3 2.2-1.3 1.4-0.9 1.8-1.8 2.3-0.7 1.9 0.4 1.9-1.4 1.8-2.6 2 1.7 2.3-0.1 2-1.8 2.3 0.2 2.1-1.3 1.7 0.2 2.3-0.1 2-0.5 2.2 0.8 2.1-0.3 2 0 2.1 0.2 2.1-1.9 2.3 1.5 1.7-1.2 2.5 0.6 2.4 0.2 2-0.6 1.9 0.7 1.9-0.9 2.8 0.5 1.9 0.7 2.2-1.1 1.9 0.6 2.1-1 1.9 1 2.1-1.3 2.3 0.4 2.2-0.4 2.1 1.1 1.9-0.8 2.1 0.3 2.4 0.4 2.1 0.4 2-0.3 2-0.5 2.4 1 2.1-0.4 1.7-0.7 2.3 1.2 2.5-1.8 1.8 0.5 1.9 0.8 2.4-0.4 2.2-0.2 2.1-0.5 2-0.4 2.1 0.3 2.1 0.5 2.3-0.7 2-0.6 2.4 0.6 1.4 1.5 2.4-0.8 2.3 0.7 2.2-1.3 2.3-0.2 1.9-0.3 2 1.3 1.8-1.7 2.4 0.2 2 0 2.3-1.8 1.8-0.2 2-0.9 1.9-0.3 2-0.3 2.2-1.6 1.8-0.1 1.8-1.6 2-0.6 2-1 1.9-1.3 2-1.5 1.5-0.3 2.2-1.1 1.9 0.3 1.5-1.6 1.8-1.1 2.1-2.3 1.1 0 2.2-1.4 1.7-1.7 2.2-0.5 1.6-1.9 1.7-1.2 1.6-1.6 1.7-1.8 1.8-0.1 1.5-2.8 1.6-0.5 1.4-2.3 1.5-0.6 1.6-2 1.9-0.3 1.6-2.2 1.8-1.2 1.2-1.6 2.2-1.2 1.4-1.2 1.6 0 2.2-1.9 1.5-1.8 1.6 0.2 2.1-1.8 1.7-0.9 1.6-1 2-2.4 1.9-0.9 1.4-0.8 2-0.2 1.5-1.6 1.5-2.9 2-1.2 1.8 0.5 1.6-2 1.6-0.7 1.9-1.2 1.3-3.2 1.8 0.4 1.8-1.9 1.7-1.3 1.7 0 1.7-2.6 2.1-1.6 0.9-1.8 2 0.6 2.1-1.9 1.3-2.4 1.7-0.5 1.9-1.2 1.5-2.6 1.8 0.1 1.5-2 1.8-0.2 1.9-2.4 1.7-0.9 1.6-2.6 1.6-0.5 1.9-1.3 1.2 0.6 2.1-2.5 1.8-0.9 1.8-1.8 2.1-1.1 1.5-0.6 1.8 0.3 2.3-3.1 1.5 0.3 1.6-1.2 1.8-1.9 1.8-0.8 1.9-0.8 1.9-2.3 2.1-0.7 1.4-1.3 3.2-1.4" stroke="#0000ff" stroke-width="3.5"/>
<path class="c" d="M708.1 140l-3.2 3.6-1.4 2.2-1.2 2.1-1.5 1.1-1.4 1.9-1.3 1.7-1.2 1.7-1.8 0.6-1.6 2.4-1.5 1.2-1.1 1.1-2 1.4-1.7 1.6-1.3 0.9-1.8 1.1-1.5 2.3-1.8 1.8-1.8 0.8-1.2 2-2.1 0.8-1.2 1.1-1.8 1.1-1.3 1.9-1.8 2.8-1.5 0.4-1.7 0.5-1.5 2.6-1.5 1.2-1.8 1.4-1.5 1.3-1.3 1.3-1.9 1.7-1.2 0.6-2 1.8-1.9 1.9-1.6 2.1-1.1 1.3-1.9 2.2-1.7 1.1-1.1-0.5-2 2.9-1.7 1.7-1.4 0.9-1.7 0.2-1.6 2.2-1.7 1.1-1.8 2.1-1.7 1.8-1.3 1-1.7 0.4-1.8 2.4-2.2 0.8-1.3 1.9-1.6 0.4-1.5 1.6-1.9 1.1-1.5 1.1-2.4 2.3-1.5 0.9-1.5 1-2 0.2-1.5 1.6-1.6 1.8-1.7 1.6-1.6-0.1-2.1 2.9-1.6 0.2-1.5 1.2-1.6 2.7-1.8 0.4-1.6 1.9-1.6 1.8-1.5 1.1-1.7 0.3-1.6 1.6-1.8 1.4-1.3 1.9-2.2 1.3-1.6 1.8-1.7 1-1.5 1.6-1.5 0.6-2.1 1.1-1.8 0.5-1.6 1.7-2.2 0.5-1.8 1.6-2.3 2.5-1.3 0.3-2.1 0.9-1.6 0.9-2.1 0.8-2.1 1.2-1.7 1.6-2-0.4-1.9 1.2-2 0.7-1.9 1.2-1.9 2.7-2 0.4-1.9 0.9-2.1-1.2-1.9 0.6-2.1 2.1-2.1-0.5-2.1 1.3-2-0.5-2.1 2.1-1.8-0.3-2.2 0.2-2.5 2.3-1.7-1.2-2.3-0.4-2 0.3-2.3 1.4-2-1.3-2.1 1.5-2.4-1.7-1.8 0.9-2.3-0.9-2.2 1.3-2 0.1-2.1-0.4-2.4-0.5-1.6-0.2-2.3 0.3-2.4-0.7-2 0.3-1.8 1.3-2.5-1.1-2.1 0.3-1.8 0.8-2.3-0.6-2.5-0.2-1.8 0.7-2.1-0.4-2.3 0-2-0.2-2.4 0.8-1.6 0.2-2.6-2.5-2.2 2.6-2-0.7-2.4-0.6-2 0.7-2.2-1.4-1.8 1.1-1.9 0.5-2.4-0.8-2-1.3-2.5 1.5-1.9-0.1-2.2 1-1.7-0.3-2.3 0.7-2.5-1.1-2.1 0.4-2.4 0-1.6-0.7-2 0.6-2.4 1.5-2.1-1.8-2.3 0.8-2-0.3-2.2 0.6-1.9-0.7-2.5 1.6-2-0.6-2.2 0.3-1.8 0.3-2.6 1.2-1.2-0.1-2 1.8-2.4-0.1-2.1 1.2-1.2 1.9-2.2 1.2-2 0.3-1.8 0.7-1.8 1.5-1.5 1.5-2.1 0.8-1.7 1.4-1.7 1.6-1.8-0.6-2 2.4-1.5 1.3-2 0.8-1.4 1.9-2 0.4-1.7 1.4-1.6 1.2-2.3 2.6-1.6-0.7-1.6 1.8-1.8 1.9-1.7 0.9-1.7 0-1.7 2-1.9 0-3 3.5" stroke="#0000ff" stroke-width="3.5"/>
</g>
<rect x="759.7" y="54.5" width="261.8" height="167.7" fill="#fff" stroke="#555"/>
<path d="M771.3 73.5H831.2" stroke="#a8a8a8"/>
<text class="s" font-size="24.5" transform="translate(837.6 83.3) scale(1.075 1)">50</text>
<text class="s" font-size="24.5" transform="translate(940.6 83.3) scale(1.04 1)">Cycles</text>
<path d="M771.3 105H831.2" stroke="#ffa0a0"/>
<text class="s" font-size="24.5" transform="translate(837.6 115.2) scale(1.075 1)">500,000</text>
<text class="s" font-size="24.5" transform="translate(940.6 115.2) scale(1.04 1)">Cycles</text>
<path d="M771.3 137.1H831.2" stroke="#a0ffa0"/>
<text class="s" font-size="24.5" transform="translate(837.6 148.9) scale(1.075 1)">1000,000</text>
<text class="s" font-size="24.5" transform="translate(942.5 148.9) scale(1.04 1)">Cycles</text>
<path d="M771.3 170.6H831.2" stroke="#ffffa0"/>
<text class="s" font-size="24.5" transform="translate(837.6 181.1) scale(1.075 1)">1500,000</text>
<text class="s" font-size="24.5" transform="translate(942.5 181.1) scale(1.04 1)">Cycles</text>
<path d="M771.3 201.2H831.2" stroke="#8c8cff"/>
<text class="s" font-size="24.5" transform="translate(837.6 213.8) scale(1.075 1)">2000,000</text>
<text class="s" font-size="24.5" transform="translate(942.5 213.8) scale(1.04 1)">Cycles</text>
<text class="grp" x="9" y="719.5">Group 2</text>
<path class="g" d="M326 850.4V495.25" stroke="#bdbdbd"/>
<path class="g" d="M463.25 850.4V495.25" stroke="#555"/>
<path class="g" d="M598.6 850.4V495.25" stroke="#555"/>
<path class="g" d="M299.75 583.4H736.5" stroke="#555"/>
<path class="g" d="M299.75 672.8H736.5" stroke="#606060"/>
<path class="g" d="M299.75 761.25H736.5" stroke="#999"/>
<path d="M299.75 495.25H736.5" stroke="#555"/>
<path d="M736.5 495.25V850.4" stroke="#888"/>
<path d="M299.75 850.4H736.5" stroke="#bbb"/>
<path d="M299.75 495.25V850.4" stroke="#888"/>
<path d="M326 495.25v4M326 850.4v-4M463.25 495.25v4M463.25 850.4v-4M598.6 495.25v4M598.6 850.4v-4M299.75 583.4h4M736.5 583.4h-4M299.75 672.8h4M736.5 672.8h-4M299.75 761.25h4M736.5 761.25h-4" stroke="#666"/>
<text class="t" transform="translate(326 877.7) scale(1 1.06)" text-anchor="middle">0.5</text>
<text class="t" transform="translate(463.25 877.7) scale(1 1.06)" text-anchor="middle">1</text>
<text class="t" transform="translate(598.6 877.7) scale(1 1.06)" text-anchor="middle">1.5</text>
<text class="t" transform="translate(736.5 877.7) scale(1 1.06)" text-anchor="middle">2</text>
<text class="t" transform="translate(292.4 502.4) scale(1 1.06)" text-anchor="end">1500</text>
<text class="t" transform="translate(292.4 590.5) scale(1 1.06)" text-anchor="end">1000</text>
<text class="t" transform="translate(292.4 679.9) scale(1 1.06)" text-anchor="end">500</text>
<text class="t" transform="translate(292.4 768.4) scale(1 1.06)" text-anchor="end">0</text>
<text class="t" transform="translate(292.4 857.5) scale(1 1.06)" text-anchor="end">-500</text>
<text class="l x" style="font-size:32.9px" x="406.7" y="921.5" xml:space="preserve">Displacement  (mm)</text>
<text class="l" style="font-size:33.7px" transform="translate(225.6 709.5) rotate(-90)">Force</text>
<text class="l" style="font-size:33px" transform="translate(225.6 600) rotate(-90)">(N)</text>
<path class="c" d="M302 810.8l1.4-2.7 0.7-0.4 1.1-1.9 1.3-2.5 1.3-1.4 0.8-1 1.7-2.1 1.4-2 1.1-1.6 1.4-2.6 1.7-0.6 1.9-3.2 1.1-0.8 1.8-1.6 1.5-2.4 1.1-0.6 1.8-0.5 1.8-2.8 1.2-2.1 1.9-0.9 1.1-1 1.5-1.9 1.8-1.7 1.7-2.4 1.4-0.3 1.9-1.6 1.1-1 1.8-1.4 1.9-2 1-2.9 2.1-1.4 1.3-1.3 1.6-0.7 1.7-2.2 1.4-0.3 2-2.2 1.5-1.4 1.8-1.3 1.4-1.8 1.4-2.5 1.9 0.8 1.3-2 1.8-1.4 2.2-2.7 1.5-2.1 1.7-1.1 1.9-1 1.5 0 2-1.2 1.6-0.9 2-0.7 1.9-2.1 2.2-1.3 1.5-1.5 2.2-1.2 1.7-1.6 1.6-0.2 1.8-1.2 2.1-1.7 2.1-1.4 1.8-0.4 2.1-0.7 1.6-1.9 2.1-1 1.6-1.7 1.6-1 2.2-1.3 1.5-1.2 1.8-1.4 1.9-0.6 1.9-0.7 1.9-2.7 1.9 0.2 1.7-2.4 2-1.3 1-2.4 2.1-1.5 2.3 0.6 1.2-2.4 1.6-0.2 1.9-1.7 1.8-1.2 1.8-0.6 2.3-2.1 1.2-3.2 1.9-0.3 2.2 0.3 1.6-0.6 1.8-2.6 1.7-1.6 2-1.8 1.4-0.1 2-2.8 1.6-1.1 1.6-0.5 1.6-1.5 1.9-1.7 1.5-0.7 1.5-2.8 1.7-1.5 1.4-1 2.1-1.2 1.6-1.8 1.6-0.1 1.4-3 1.7-0.8 1.3-2.2 1.8-0.9 1.7-1.9 1.7-1.5 1.7-0.2 1.5-2.7 1.6-0.2 2-2.9 1.4-1.3 1.6-0.5 1.4-3.6 1.8-1 1.8-0.4 1.8-1.1 1.3-1.4 2-2 1.7-2.1 1.6 0 1.8-1.7 1.9-2.3 1.3-0.7 1.5-0.3 2-2.5 1.6-2.1 1.9-0.9 1.8-1.4 1.8-0.9 1.6-1 2-2.4 1.6-1.2 1.8-0.3 1.7-1.5 1.7-0.9 1.6-3.1 1.9-1 1.6-0.2 1.8-2.5 1.8-0.5 2-1.6 1.5-1.7 1.9 0 1.4-2.2 1.9-1.7 2.1-1.1 1.5-1.2 1.3-2.5 2-0.9 1.7-1.7 1.4-2 1.6 0.4 1.8-1.1 1.6-1.7 2-3.2 1.6-0.2 1.7-1.2 1.7-2.2 1.1-0.6 2.1-2.5 1.8-1.3 1.6-1.2 1.8-1.3 1.7-1.5 1.9-0.1 1.7-2.6 2.1-0.9 1.6-1.4 1.7 0.4 1.8-3.1 1.6-0.5 2-0.4 1.9-3.1 1.8-1.1 1.5-0.9 1.8-1.8 2.2 0.3 1.8-2.2 1.8-0.3 1.7-1.5 2.1-1.6 1.8-0.7 1.6-2 1.9-0.5 1.5-2.8 1.8-1 1.4-0.2 2-3.4 2.2 0.2 1.4-2 1.9-1.4 1.5-1.5 1.7-0.2 1.7-3 1.6 0 1.4 7-1.8 1.1-1.3 1.9-0.9 2.2-2 0.9-1.6 1.1-1.1 2.8-1.5 1.1-1.5 2.1-1.4 2.1-1.2 2.2-1.3 2.5-1.2 1-1.2 1.7-1.3 2.3-1.5 1.5-1.1 0.6-1.3 2.4-1.7 1.4-1.1 3-1.4 2.1-1.3 1.2-1.6 1-1.3 2.8-1.3 0.7-1.6 2.5-1.1 0.9-1.6 1.6-1.3 1.8-1.6 2.6-1.5 1.3-1.4 2.3-1.7 0.7-1.2 2.8-1.3 0.9-1.3 2.8-1.7 1.5-1.5 0.8-1.6 1.8-1.4 1.6-2 1.8-1.4 1.1-1.6 2.5-2.2 0.6-1 0.8-1.6 2.9-1.5 1.4-1.7 2.2-1.6 1.5-1.5 1.3-1.3 1.7-1.6 1.6-1.3 1.2-2 1.2-1.1 1.9-1.4 2.1-2.1 0.3-1.4 2.7-1.8 1.3-1.8 2.2-1.3 1.2-1.2 2.1-1.5 1.5-1.7 2.6-1.3 0.6-1.6 1.7-1.2 1.9-2.1 0.5-1.4 2.1-1.4 3.2-1.5 1.2-1.4 1.4-1 2.3-2 0.9-1.2 1.7-1.9 1.6-1.3 0.8-1.3 3.3-1.4 1-2 1.7-0.9 1.5-1.8 1.5-1.8 0.7-1.3 3-1.7 2.9-1.8 0.9-1.2 0.8-1.5 1.1-1.6 2.1-2.2 1.7-1.6 1.1-1.6 2-1.6 0.3-1.7 2.6-2.1 0.8-1.9 0.9-1.5 1.6-1.9 1.8-1.5 1.7-1.6 1-1.8 1.8-1.9 2.7-1.7-0.9-1.6 1.3-1.2 2.8-1.5 1-2 2.2-1.5 0.6-1.7 2.6-1.4 2.3-1.7 1.5-1.5 0.3-1.1 2.1-1.6 2.4-1.8 2.2-1.3-0.1-1.9 1.6-1.4 2.8-1.8 0.8-1.6 1.2-1.2 2.8-2 0-1.4 2.2-1.8 2.6-1.6 0.6-1.3 2.4-1.7 0.4-1.9 2.7-1 1.3-1.8 2.1-2.2 0.3-1.4 1.3-1.9 1.6-1.9 2-2 0.2-1.6 1.6-2 2.5-1.6 0.5-2.1 1.1-2.2 0.4-1.9 1.9-1.8-0.2-1.8 1-2.3 1.4-1.7 2.6-1.7 0.4-2.4 0.5-1.3 1.6-2.3 1.6-1.8 1.7-2-0.5-1.8 2.9-1.9 0.9-1.9 0.2-1.5 1.3-2.9 1.6-1.6 0.7-2.1 1.3-1.8 0.4-2 0.6-1.9 3.7-2-0.3-2.1 1.1-1.7 1.1-2.4 1.5-1.9 0.7-1.9-0.2-1.8 1.4-2.6 0.9-2.1 1.2-1.7 0-2.2 1.3-2.4 0.6-1.7 1.4-2.3-1.7-2.2 2.3-2.2 0.9-2 0.9-2.2 0.3-2 0.3-2.1 1.6-2.4 0.7-2.2 0-1.5 0.5-2.5 1.9-1.7-0.1-2.4 1.6-2.7 1.1-1.6-0.2-2.4 0.5-2.5 0.5-1.7 1.3-2.5 0.5-2-0.4-2 0.7-2.3-0.3-2.4-0.3-2.5 0.6-2-1-1.1-2.3" stroke="#000" stroke-width="4.3"/>
<path class="c" d="M302.3 811.9l1.2-0.2 0.4-3.3 2-4.2 0.5-1.3 0.9-0.3 1.3-2.8 1.4-0.4 1.7-5.1 0.5 2.8 1.9-1.9 2.2-5.3 1.5-0.4 0.8-1.9 2-1.4 1.5-0.1 1.4-3.2 1.5-2 2 0.2 1.1-0.8 1.7-3.6 1.8-0.7 1-3.5 1.6 1.2 2.6-0.1 0.5-3.4 2.3-2.2 1.6-3.8 1.3 0.4 1.4-3.4 1.7 1.6 1.4-0.3 1.8-2 1.5-2.9 1.5-1.2 1.7-2.9 1.9-0.5 1.4-1.5 1.5-1.8 2.3-4.5 1 1.8 1.8-1.3 1.2-2.8 1.6-0.1 2.2-0.9 1.9-4.8 0.4 2.2 3-2.9 1.8-2 1.6 0.3 2.1-2.3 1.3-0.8 2.4-1.8 1.4-0.7 2.1-1.8 1.9-0.4 2.1-1.7 1.3-1.5 2.4 1.6 1.9-2.3 2.1-0.8 1.3 0.4 2.2-2.4 1.5-1.9 2.3-2.5 1.4 1 1.8-1.6 2-0.5 2.5-2.6 1.8-1.5 1.3-3.2 1.9 1.8 1.8-3.7 1.2-0.1 2.9-0.2 0.8-1.8 1.7-1.5 2.1-0.7 1.5-3.8 2.2 0.7 1.9 0.1 1.4-1.4 2-4.3 1.5 1.5 1.5-1.9 1.9-2.8 2.9-1.7 1.1 0.1 1.3 0.5 2-2.3 1.9-3 2.2-0.1 1.6-0.2 2.1-2.7 1.9-1.8 1.2-0.4 1.7-4.3 1.8 1.4 1.1-3.5 1.7 0 1.2-1 2.4-2.1 1.1-2.2 1.9-1.1 2.4-0.1 0.3-4 1.9-1 1.5-0.1 1.6-0.9 2.3-2.4 0.8-2 2.3-0.1 1.6-2.7 2 1.4 0.7-2.3 1.8-0.8 2.4-4.7 0.7-0.9 2.3-1.2 2-2.6 0.8-0.6 1.8 0.3 2.4-3.7 0.9-0.6 2.4 0.6 1.8-2.7 1.3-1.2 1.7-2 1.7-2.1 1.5-1.1 2.2-0.7 1.7-2.3 1.5-0.6 1.8-1.9 1.2-1 1.9 0.6 1.4-2.4 2.2-3.5 2.3-0.1 1.5 1 1.5-1.4 1.8-4.7 1.8 0.5 2.2-1.8 1-4.2 2.6 1.9 1.5 0.6 1.1-4.5 2.4-0.8 1.8 0.1 1.4-3 2.4-1.4 0.9-0.5 1.8-3.4 1.9 0.8 1.7-3.5 1.4 0.1 2-0.6 1.2-0.5 2-4.3 1.4-0.3 1.7-1.4 1.4-3.8 2 0.6 1.2-1 1.8-1 2.1 0.3 2.1-3.5 1.2-1.5 2.2-1.3 2.4-1.3 1.2-0.7 1.8-0.1 1.5-4.2 1.2-0.1 2.3-4 2-0.5 1.4 0.8 2.2-3.8 1.5 1.5 2.4-0.1 1.6-3.6 1.9-1.1 1.9-0.4 1.6-1.8 2.4-0.7 0.9-2 1.9 0.5 2-2 1.8-1.7 1.3-3.9 2.5 0.4 1.3-0.5 1.9-0.7 1.4-2.9 1.7 0 2-1.1 1.5-3 1.6 0.1 2-2.4 1.4 6.2-1.8 2.9-1.3 3.2-1.9 0.6-1.1 1.3-1.8 2.6-1.1 1.6-1.8 1.2-0.9-0.5-1.1 1.1-1.5 2.8-1.9 5.5-0.2 0.8-2-0.7-1.8 4.5 0-0.7-2.1 3.6-0.9 2.6-1.5 0.6-0.8 2.8-1.5 1.9-2.5-1.1-0.6 3.6-1.9 2.3-1.1 0.7-1.4 0.8-1.4 4.9-1.7 0.4-0.9 0.8-1.3 1.4-1.5 2.6-1 3.1-2.2-0.2-1.7 2.8-1.2 1.5-2.4 1-0.8 1.9-1.9 1.6-1.6 0.5-1.6 1.1-1.6 3.9-1.1 2.4-2.2 0.7-1.3 0-1.2 2.6-1.6 1-1.1 0.7-1.9 2.1-0.9 2.1-2 2.8-2.1-0.2-1.3 4.1-0.9 0.5-2.5 2.9-1.4 1.4-1.9 0.7-0.9 1.6-1.2 1.8-1.5 1.7-2 2-1.9 2.9-1 0.3-1.7 2.7-1.2 1-1.7 0.2-1.2 2.6-2.1 1.8-1.3 1.9-1.5 0.3-1.6 3.3-1.2-0.2-2.2 2.2-1.4 2.6-1.7 1.2-0.7 0.5-1.2 1.2-1.6 2.6-1.1 1.4-2 4.8-1.9-1.9-1.1 1.3-1.6 5.6-1.5-2.6-1.2 2.8-2.2 2.8-1.6 1.1-1.3 1.9-1.2 2.9-2.3 2.4-1-0.9-1.7 1.6-2.3 0.6-1.9 1.2-1.6 1.4-2.2 2.1-0.8 0.6-2.2 2.3-1.5 0.5-2.2 0.8-1.5 2.3-1.7 1.6-1.1 1.2-2.5 1.6-0.9 2.6-2-0.4-1.6 4-2.1-0.1-1.1 2.1-1.6 3.1-1.3 1.3-1.9-1.4-1.5 4-1.1 2.7-1.8-0.9-1.7 2.2-1.4 3.6-1.5-1.3-1.8 4.9-1.5-1.8-1 2.3-2.1 1.8-2.3 1.8-0.6 2.9-1.4 1.2-1.7 1.3-1.6 1.6-2.6-0.4-1.3 2.5-1.4 3.4-1.6-1-1.8 4.2-2.2-0.3-1.5 0.4-1.8 3.3-1.4 1.3-1.5-0.3-3.1 1.3-1.3 0.9-2.2 1.4-1.4-0.8-2.2 2.9-1.9 3.3-2-0.9-2.2 2.1-1.9 1.7-1.8 0.4-1.5 0.5-1.6 1.1-2.2 1.2-2.3 2.2-1.3 0.4-2.3 2.4-2 2.3-2-0.3-2.2-1-2.2 3.1-1.7 0.5-1.8 0.9-1.8 0.7-2.4 1.6-1.7 4.9-2.5 1-0.9-0.5-2.6-1.9-2.2 2.2-1.5 1.9-2.2-0.6-2.4 1.9-1.2 1.4-2.9 1.3-1.7-0.5-2.4 0.6-1.7 0.1-2.2 0.6-2.6 1.2-2.1 0.4-1.5 1.7-2.5 0.2-1.9 0.2-2.3 2.6-1.8-1.2-2.3 1.8-2.5 0.7-1.4-0.5-2.6 1.4-2.1 1.1-2.1-0.3-1.8-0.2-2.8 4.9-1.9-3.1-2.3 0.9-2.2 0.6-2.5 0.8-2.8 1.3-1.5 0.3-1.7-1.4-2.6 1.1-2.6 0.1-2-1.4-0.6-0.4" stroke="#000" stroke-width="1.7"/>
<path class="c" d="M303 812.5l-0.2-4.6 2 0.1 0.7-3.9 1.2 0.6 0.8-4.7 1.1-0.9 2.1-1.6 1.5-3.4 0.5 1.6 2.1-4.3 1.1-1.4 1.8-0.8 1.2-0.2 1.4-3.3 1.3 1.5 1.4-3.8 2.1-1.8 1.5-0.8 1.2-2.2 1.4-2.6 1.8-1 2-0.8 1.7 0 1.6-2.9 1.3-1.3 1.8-4.5 1 0.6 2.5-1.2 1.1 0.4 1.3-1.7 1.6-3.1 1.5-1.1 1.8-2.2 2-2.2 1.1-0.8 2.1-1.9 1.4-0.8 1-1.1 1.8-2.5 1.6 0 1.8-4 2.4-0.2 1.9-1.2 1-3.6 1.7 1.3 1.4-1.2 2.4-0.1 1.1-3.2 2-0.5 2-1.1 2.2-3.7 1.7 1 1-3.1 2.8 0.8 1.7-0.7 2.1-1.6 2.2-3.7 0.9 2.7 2.4-2.5 2.1-0.4 1.1-3 2.8-0.9 1.6 1.6 1.8-3.7 1.5-1.5 2.2-1.1 2 0.3 1.3-4 1.9 0.1 1.7-1.8 2.2 2.4 1.8-2.8 2-2.4 1.6-1.1 1.5-1.8 1.9-1.6 1.5-1 2.3 0.8 1.2-3.6 1.8-1.3 2-0.6 1.2 0 2.6-2.4 2.1-3 1.6 0 1.8-1.3 1.7-2.7 1.7-0.7 1.7 0 1.5-2.2 2.2 1 1.9-2.8 2.1-2.2 0.9-1 2-2.3 1.7-1.2 1.3 0.1 1.6-2.4 1.7-3.5 1.6-0.8 2.3 0.6 0.5-3.4 1.8-0.6 1.5 0 2.2-2.9 1.7-1.6 1.1-1.6 2.3 0.2 1-3.4 2.5-2.1 1.2 0 1.9 0.3 0.9-2.9 2.4-0.1 1.4-1.8 1.4-4.1 1.3-0.1 2.5-1.6 1.6-1.3 1.3-0.1 2.1-1.2 1.7-2.2 1.7-0.9 1-3.4 2.3 0.1 1.5-3.4 1.4-0.7 2-2.3 1.5 1.3 2.2-3.2 1.3 0 1.9-3.7 1.9 0.4 2.1-0.7 1.4-2.1 1.1-1.3 2.7-1.3 1.3-1.6 2.1-1.7 1.4-1.8 1.6 0.7 1.4-2.4 2.2-1.3 2-1 1.3-3.1 1.8-1.5 1.7-1.3 1.9 2.2 1.8-3.7 2-0.2 1.3-4.2 1.9 0.2 1.3-0.9 2.3-2.2 1.4 0.4 1.2-3 1.7-1.2 1.9-0.1 2.1-1 1.3-2.8 2.2-2.3 1.3-1.3 1.3 0.3 1.7-3.9 2.6-1.3 0.9-1.3 1.7 0.9 1.7-2 1.7-2.8 2.4-1.2 1.8-0.5 1.2-1.8 2.7-1.9 1.5-1.1 1.4-0.5 1.4-1.8 2.2-0.6 1.8-1.6 2.2-1.7 1.4 0.1 2.3-1.2 2.4-3.9 0.7 1.3 1.9-2.1 2.4-1.8 2 0.7 0.6-1.8 2.2-1 1.4-2.6 2.4 1.2 1.6-2.8 1.4-2.6 2 1.4 2.1-4.4 0.2 1.2 2.3-3.4 2-1.7 1.9-1.5 1.9-1.7 1.2 7.3-1 3.1-2.1 1.1-1.8 0-1.5 3.7-1.8-0.1-0.8 3.9-1.1 0.7-1.9 2.1-0.7 3.4-2-1.8-0.6 6.6-1.5 2.8-0.7-0.3-1.7 1.2-1.4 0.4-1.5 3.8-1.6 0.4-1.2 1.7-1.4 1.2-1.6 4.2-0.4 1.2-1.5-0.8-1.5 3.2-1.4 0.5-2.1 4.2-1.8-0.3-0.3 2.7-1.4 2.4-1.4 0.9-1.4 0.6-1.5 2.6-1.9 0.7-1 4.8-1.6 1-1.2-1.3-1.8 2.2-1.8 5.4-1.6-0.2-1.9 0.5-1.4 3-1.2 1-2.5 2.1-1.2 0.3-1 3.9-2 0-1.9 0.1-0.8 2.9-1.5 1.3-1.6 2.4-1.6 1.5-2.1 1.4-0.2 0.6-2.7 2.8-1.5 0.8-1 4-1.6-1.4-1.7 2.6-1.5 1.3-1.4 1.1-1.6 3.2-2 1.5-1.2 1.6-1.4 3.1-1.5-0.7-1.7 2.8-1.8 1.2-1 1.9-1.4 0-1.6 1.7-2.2 4-0.8-0.6-1.1 4.3-1.8 2.1-1.8-0.6-1.2 2.7-1.6 1.5-1.6 3.2-1.2 2.3-1.6 0.2-1.9 1.7-0.6 2.1-1.8-0.8-2.5 2.6-1 2.7-1.6 0-2.4 4-1.2-1.4-0.8 2.4-2.1 1.8-1.6 2-1.8-0.4-1.8 2-2 2.2-2 1.1-1.9 1.9-1.5-0.2-1.2 1.1-1.7-0.5-1.5 3.1-2.2 2.4-1.8 0.4-0.9 2.8-1.8 2.9-1.7 0.1-1.7 3.1-1.8 1.4-1.1 0.8-2.5 2.4-1.1 1.8-1.2-0.9-1.8 4.9-1-2.1-1.9 3.9-2 0.7-1.6 1.6-2 2.5-0.4 0.9-2 1.9-1.3 1.7-2.2 0.7-1.5 2.9-1.1 0.2-1.9 3.4-1.5-0.4-1.1 3.2-2 0.7-1.6 3.8-1.7-1.2-1.9 3.8-1.3-0.3-2 0-1 4.7-2.4 0.9-2.6 2.1-1.4-1.1-2.1 2.7-1.1 1.9-2.5-0.3-2.3 4.1-1.6-2.3-1.5 2.5-2.1-0.9-2.1 1.3-1.9 1.5-2.4 1.5-1.7 1.6-1.8 1.5-2.1-1.8-1.6 3.7-2.3 0.4-1.2-0.2-2.5 2.4-2 2.6-2 0.9-1.7-1.1-1.8 2.1-2 1.2-2.3 3.1-1.6-0.7-2.4 0.5-1.7 1.8-1.8-1.7-2.1 3.9-2.2 1.9-2.1 0.3-1.7-1.5-2.2 5.5-2.6-1.2-1.9 0-1.8 0.8-2 1.8-2.2-0.4-1.7 0.7-2.9 1.6-1.3-1.2-2.8 2.7-1.8-1.2-2.4 2.3-1.9 1.4-2.7 0.2-1.1 1.1-2.8-0.5-1.9 0.4-2.9 2.7-1.4-0.5-2.3-0.1-1.6 0.9-2.3 0.3-2.5 2.2-2.5 0.3-1.3 1.5-2.7-2.3-1.8 1.7-2.2 0.1-2.1-2-3.2 2.3-2.4 0.5-1.8-2-1-2.3" stroke="#000" stroke-width="1.7"/>
<clipPath id="k2"><rect x="301.6" y="500" width="342" height="340"/></clipPath><g clip-path="url(#k2)">
<path class="c" d="M298.7 750l2.6-4.3 1.4-1.9 1.3-1.2 1.5-0.9 1.7-1.6 1.9-1 2.4-0.8 1.5 0.4 2.2 0.1 2.3 1 1.9-2 2.2 1.6 2.3-0.6 2.1 0.5 1.9-1.4 2.1 1 2.2 0.4 2.6-0.4 1.5 0.6 2.2-0.4 2.3-0.1 1.7-1 2.2 0.5 2.1-0.2 2.2 0.3 1.9 1.9 2.6-2.1 1.8 0.6 2.1-0.1 2 0.1 2.4-0.1 1.6-1.8 2 1.3 2.3-1.1 2 0 2.2 1.6 2.1-0.8 2.1-0.7 1.9-0.1 2.2 0.8 2.2-1.3 1.9 2 2.3-0.5 2.1 0.1 2.4 0 1.9-0.3 1.9 0.2 2.1-1.1 2.2 0.2 2.1-0.8 2.3 1.6 1.5-1.2 2.6 0.1 1.9-1 2 0.1 1.9-0.2 2.2-0.5 2.1-0.3 2.3 0.9 2-1.3 1.8 0.1 2.4-0.7 1.7-0.8 2.3-0.5 1.5 0.2 2.3-1 1.9-1.3 2.1-0.5 2-0.6 2-1.1 1.8 0.6 1.7-1.7 2.1 0.2 1.6-2.5 1.9-0.8 2.5 0.7 1.4-3.3 2-0.6 1.7-1.3 1.9-0.7 1.2-0.8 2.1-0.8 1.9-1.2 1.5-2.2 1.4-1 1.8-2.3 1.2-0.2 2-2.7 1.1 0.4 1.4-3.5 1.8 0.2 1.4-1.7 1.9-2.1 1.5 0.5 1.4-3 1.7 0.3 1.3-2.9 2.1-1.2 1.2-2.8 1.7-0.5 1.4-0.9 1.2-2 1.9-1.4 1.5-1.7 1.7-0.8 1.2-1.7 1.6 0.5 1.5-3.6 1.5-1 1.3-1.3 1.5-1.9 1.2-1.3 1.2-2.5 1.8-1.4 1.6-1.7 1.2-1.8 1.3 0 1.5-2.1 1.6-3.1 1.4 0 1.4-0.6 1.6-2.5 1.5-1.1 0.9-1.5 1.7-1.6 1.5-2.2 1.8-1.3 1.5-1.4 1.4-0.6 1.1-2.2 1.7-2.4 1.3 0 1.5-2.2 1.3-1.4 2-1.5 1.2-0.5 1.3-2.3 1.9-1.5 1.5-0.8 1-2 2.1-2.1 1.2-2.3 1.3 0.2 1.8-0.6 1.2-3.5 1.9-1.4 1.3-1 1.5-0.7 1.3-1.6 1.5-2.4 1.9-0.8 1.4-0.6 1.2-2.8 1.8-0.2 1.3-2.7 1.4-1.2 1.5-0.8 1.9-1.8 1.3-2.7 1.1 0.3 1.5-1.7 1.7-0.9 1.5-3 1.5 0.1 1.8-2.2 1.5-0.1 1.3-3.4 1.4-1.2 1.8-1.2 1.4-2 1.3-0.4 1.3-1.7 1.7-3.1 1-0.6 1.8-0.9 1.4-1.7 1.5-2.2 1.2-0.8 1.7-1.5 1.7-1.7 1.5-1.1 1.7-2 1.3-0.3 1.7-2.2 1.7-0.3 1.2-3.7 1.7 0.1 1.8-1.1 1.4-1.2 1.9-2 1.4-0.3 1.8-1.8 1.4-1.4 1.7-0.5 1.7-1.3 1.9-1.6 1.7-1.6 1.4-1.1 2.1-0.7 1.5-1.5 3.1-2.9" stroke="#ff0000" stroke-width="3.5"/>
<path class="c" d="M298.5 751.8l2.9-6.4 0.9-3.5 1.8-0.3 1.6 1.3 1.6-2.8 1.7-1.1 2.4 0.4 1.8 0.1 2 0.7 2.4-1 2.3 1.3 1.5-2 2.1 0.5 2.8-0.5 1.7 0.6 2.7 2 1.7-3.9 2 0.1 1.8 0.9 1.9 1.8 2.8-0.9 1.9-1.2 1.8 0.9 2.1-1.6 2.1 0.2 1.9 0.5 2.4 1.3 1.9-0.9 2.6 0.3 1.9 1.3 1.7-1.9 2.1 1.9 2.7-2.6 2 3.4 2-3.9 1.5-0.8 2.5 2.4 2-0.5 2.3 1 2.2 0 2.2-2.6 2.1 1.5 1.3 2.7 2.9-3.2 1.5 2.1 2.8-1.8 2.1-0.5 1.2-0.9 2.6 0.4 2-1.2 2.1 3.3 2.3-1.9 1.9-0.8 1.3 1.5 2.7-2.2 2.1 1.5 2.3 0.1 2.5 0 1.9-0.9 1.8 0.7 2.1-2.1 2.1 0.4 1.1 0.3 2.5-1.7 2.6 0.2 2-4.3 2 2.7 1.8-0.7 2.2-1.5 1.7 0.4 2 0.3 1.4-2.4 2-0.6 2-2.2 1.7-1.2 2.7-0.4 1.4-2.3 1.6 0 2.2-0.1 1.7-2.2 1-1.3 2.1-1.8 1.8 0.8 1.7-2.4 1.6-1.3 1-1 1.7-0.7 1.7-3.6 2.1-0.8 1.5 0.2 1.5-3.1 1.8-0.4 0.6 0.8 1.3-5.4 2.2 0.1 1.4-0.9 1.9-0.5 1.7-3.1 1.2-2.7 1.3-1.3 1.5-0.4 2.1-3 1.6 2.5 1.4-4.6 0.9 0.9 2.4-2.1 0.8-2.1 1.9-1.2 0.6-3.4 2.2-0.5 1.5-0.6 0.9-2.1 1.6-1.2 1.3-1.6 1.6-0.5 0.6-3.6 1.7-0.5 2-0.6 1.5-2.9 1.4-1.8 1.4-0.1 1.1-1.4 1.5-3.2 1.5-1.7 1.9-0.1 0.9-0.9 1.6-3.3 1.6-1.6 1 0 1.8 0.8 1.5-4.6 1.5-1.8 1.3-1.9 2 0.6 1.1-2.9 2-3.1 0.7-1.1 1.8-1.4 1.6-0.6 1.6-1 1.2-0.6 1.6-3.3 1.2 0.2 1.4-3.6 2.7 0.6 1-1.9 1.3-1.1 1.3-3.4 1.9-0.8 1.1-0.7 1.6 0.2 1.9-2.6 1.1-0.9 1.1-2.1 1.4-0.7 1.2-2.6 1.5 0.1 2.3-2.7 1.2-2 1.8 0.1 1.3-1.5 1.6-2.9 0.9 0 2-3.5 1.8 0.2 1.7-3.8 1.4 1.1 1.5-3.4 1.5-0.1 1.1-1.3 1.3-2 1.6-3.3 1.4-0.4 1.8-1.2 1.5-1 1-2.3 1.1-1.7 1.7 0.4 2-2.9 1-0.5 2.2-4.8 1-0.1 2-0.6 0.9-1.7 2.4-1.3 0.5 0.3 2.4-0.5 1.7-2.6 1.5-2.3 1.6-1.9 1.6-0.7 1.7 1.8 2.3-3.9 0.8-1.4 2.3-0.7 1.7 0.5 1-3 1.9 0.8 2.6-3.1 1.6-1.9 2.7-1.9" stroke="#ff0000" stroke-width="1.575"/>
<path class="c" d="M645.9 543.1l-2.8 5.3-1.4 2.5-0.8 2.3-1.2 0.9-0.9 2.3-1.5 1.4-0.8 2.5-1.4 0.6-1.3 2.4-1.7 0.2-1.5 2.8-1.9 0.6-0.8 2.6-1.7 1.6-1.3 0.3-1.3 2.5-1.4 2.7-1 1.3-1.5 0.6-1.5 1-1.4 2.3-0.9 1.4-1.5 1.2-1.4 2.7-1.5 2.5-1.4 0.3-1.2 2.3-1.5 0.6-1.5 2.8-1.2 0.9-1.4 2.4-2 1.4-0.8 2.1-1.5 0.2-1.3 2.6-1.9 0.2-1.5 2.4-1.5 1.7-1.2 1-1.6 2-1.7 0.5-1.4 1.7-1.4 2.3-2 1.5-1.5 0.8-1.1 1.5-1.6 2.2-1.7 1.2-1.4 2.8-1.5 0-1.2 0.9-1.3 2.3-1.9 2.5-1.3 1.2-2 1.6-0.9 0-1.8 3.7-1.5 0.6-1.2 0.6-1.4 1.8-1.6 0.6-1.4 3.5-1.1 0.7-1.7 1.1-1.6 2.4-1.5 0.7-1.3 1.7-1.2 2.6-1.9 1.5-1.1 2-1.8 0.9-1.6 1.5-1.3 0.5-1.4 1.2-1.5 1.9-1.5 2.5-1.3 1.3-1.6 0.4-1.5 2.7-1.2 1.1-1.9 1.3-1.5 2.4-1.1 1.2-1.9 1.8-1.5 0.8-1.5 2.5-1.5-0.3-1.9 3.5-1.6-0.9-1.6 1.9-2.1 1.6-1.5-0.5-2 2.3-1.6 1.6-1.9 1-1.9 0.1-1.7 3.1-1.4 0.7-1.5 1.1-1.7 1.1-1.7 2.2-1.5 0.6-1.7 1.2-1.8 2.3-1.4 1.5-1.4 2.2-1.5 0.6-1.7 0.8-1.6 2.1-1.3 0.6-1.4 1.2-1.8 2.4-1.9 2-1.3 1.8-1.3 0.7-1.8 0.6-1.7 1-1.3 3.3-1.9 0.4-1.9 0.7-1.4 2.9-1.6 0-1.7 1.6-2 0.5-1.6 1.8-2 1.6-1.7 0.4-2.2 1.5-1.9 0.3-2 0.9-1.7 0.8-2.3-0.9-2.3 0.8-1.9-0.5-2.4 0.8-1.9 0.5-2.2-0.8-2.3 0-1.6 0.5-2.3 1.1-2.4-2.4-2.1 1.4-2.3 0.2-1.8-0.5-2 1.3-2.5-0.2-2-0.3-1.8-0.1-2.4-1.2-2 0.4-2.2 0.4-2.3 1-1.8 0.7-2.3-0.8-2.2-0.7-1.8 0.4-2-0.1-2.6 1.2-1.9-0.9-2.5-0.3-1.9 0.8-2.4-0.1-1.8 0-2.1-0.6-2 0.3-2.4 0-2.2 0.4-2.2 0-2 0.5-2-1.8-2.2 0.7-2.1 0.4-1.9 0.4-2.4-0.4-1.9-0.1-2 0.5-2.3-0.8-2.4 0.4-2.1-0.4-2.4 0.9-1.8 0.3-2.3-0.6-2.1-0.3-1.9-0.4-2.3 1-1.9-0.4-2.5 0.6-1.7-0.9-2.4 0.5-2.2 1.2-1.8-2-2.7 0-1.6 0.6-2.4 1.8-1.8-0.5-2.1 1.6-1.7 0.1-1.7 1.5-1.3-0.2-1.4 2.7-3 3" stroke="#ff0000" stroke-width="3.5"/>
<path class="c" d="M646.1 542.5l-3.1 6.2-1 0.8-0.9 3.3-1.5 2.1-1.4-0.7-0.8 4.5-0.7 1.8-1.9-1.8-2 3.9-0.8 2.2-1.3 1.4-1.8 1.1-0.7 1.1-1.9 2.1-1.3 1.8-1.7 1.8-1.2 2.5-1.5 2.7-1 0.3-1.1 2.4-1.5 1.7-1.4 0.1-1.7 2.1-1.6 0.7-0.6 3.1-1.7 1.1-1.5 1.1-1.4 2.8-0.4 1.1-2.3 1.1-1.4 1.2-1.3 1.7-1.2 0.5-1.6 2.5-1.1 0.9-1.4 3-2.1 1.1-1.1 0.4-1.7 2.1-1.6-0.5-1.4 4.7-1 0-2.6 1.8-1.1 1.4-1.9-1.1-1.6 5.1-1.4 2.1-1.7-0.3-0.4 1.8-2 2.1-1.4 0.5-1.5 3.4-2.1-2-0.9 3.1-0.8 3-1.9 0.2-1.4 2.3-1.6 0.9-1.8 1.3-1.4 2.2-1.1 1-1.6 1.1-2 2.4-0.7 1.9-1.2-0.7-1.7 2-2.3 2.5-1.5 2.4-0.8-1.3-1.6 3.7-1.5-0.1-1.6 4-1.3 0.9-0.8 3.1-2 0.9-1.4 1.2-2 0.7-0.9 0.9-1.8 1.9-1.3 2-1.7 1.5-1.4 3-1.4 1.1-1.3-0.2-1.2 4.1-2.2 0.1-1.9-1.5-1.5 4-1.9 1-1.6 1.9-2.2 3.3-1-3.4-1.6 3.1-2.3 1.6-1.8 3.2-1.9-1.3-1.3 1.6-2 0.4-1.4 0.5-1.7 3.9-1.2 1.4-1.9-0.2-1.8 3-1.4 0.6-1.6 0.3-1.7 3-1.5 2.7-1.1 0.6-1.4 1-1.3 2.8-1.8 1-1.7-0.2-1.7-0.4-1.4 2.2-1.7 3.2-1.7 1.7-1.8 0.7-1.2 1.6-1.7 1.6-2 1.1-1.3-0.7-1.4 3.2-1.8-0.5-2.2 3.6-1.6-1.1-1.4 3.5-2.3-0.3-2.2 0.6-1.8 2-2.1-0.3-2.6 1.3-2 1.4-2-1.5-1.5-0.8-2.7 1.5-2.3 0.1-1.2-0.3-2.2-1.2-2.3 0.6-2 0.8-2.6-0.7-1.9-0.2-3.1 1.7-1.2-0.3-2.3-1.6-1.5 1.6-2.8 0.1-2.4 1.1-2.2-1.6-1.3-1-2.4 1.8-2 0.7-2.4-1.5-1.7 1.6-2.3-1.8-1.8-0.1-2.3 1-2.5 0.7-2.2-2.4-1.9 1.5-2.3 0.4-1.6-0.5-2.5 1.5-2.4-2.3-1.9 1.2-1.9-1.2-2.3 2.9-2.7-2.8-1.6 2.2-2.6-2-1.5 0.6-2.3 1.5-2.3-2.3-1.8 1-2.3 1.2-1.5-0.2-2.9-2.2-2.7 1.7-1.2 0.2-2.6-0.6-1.6-0.3-2.4 2-2.1-0.9-2.5-1.2-2.1-0.5-2.4 0.9-1.7 1.6-2.3-0.4-2.5 0.2-1.6-1.1-2.3 0.7-1.8 1.4-2.2-2.1-2.5-0.2-2 0-1.5 2-1.4-1.8-2.3 3.4-0.9 2.4-1.6 1.9-2.9 2.4" stroke="#ff0000" stroke-width="1.575"/>
<path class="c" d="M298.7 756.5l2.9-2.6 1.5-0.7 1.8-1.2 1.4-1.1 2-1.5 1.7-1.2 1.8-0.8 2-0.3 1.8-1.1 1.8-1 1.9-0.7 2.1 0.6 2.3-0.4 1.4 0.3 2.4-0.3 1.7-1.3 2.1 1.1 2.2 0.2 2.2-0.1 1.7 0 2.1-0.3 2.3-0.6 1.7-0.6 2.7 1.6 1.6 0.1 2-0.4 2.3-0.1 1.6 0 2.1 0.2 2 0.6 2-1.5 2.2 0.5 1.9-0.7 2.4 0.7 1.9-0.2 1.9 1 2.1-1 2-1 1.7 0.8 2.3 0.2 2.2-0.2 1.6 0.5 2.6-1.5 1.6 1.1 2.2-0.2 1.9-0.7 2.2 0.2 2.1 0 2 0.3 2-1.3 1.9 1.2 2-1.1 2.2 0.8 2-1.1 2 1.7 1.9-0.5 2.2-0.1 1.9 0.3 1.8-0.3 2.2 0.2 2.4-0.4 1.7-0.6 2.3-0.5 1.9 1.3 2-1.5 2.1 0.7 1.9 0 2.4-1.1 1.5-0.3 2-0.9 2.2-0.5 2.1 1.4 1.8-1.6 1.9 0.2 2.3-0.7 1.9 0 2.2-0.3 2-0.5 1.8-1.1 2-0.7 1.7 0.7 2.1-1.9 1.5 0.3 1.8-1.6 1.5-0.2 2.2-3 1.3-0.4 1.7-1.1 1.7-0.8 1.8-1.9 1.5-1.7 1.5-0.3 1.7-1.4 1.5-1.4 1.2-1.2 1.7-2.9 1.6 0 1.1-2.2 1.9-1.1 1.4-1.6 1.2 0.1 1.7-1.9 1.7-1.1 1.8-2 1.3-1.1 1.5-0.8 1.8-2.3 1.4 0.6 1.5-2.5 1.6-1.5 1.7-0.7 1.5-1.8 1.5-2.1 1.6-0.7 1.8-1.6 1.3-0.1 2-1.8 1.5-2.5 2-0.7 1.5 0 1.5-1.5 2.1-1 1.5-2.5 1.5-0.6 1.3 0.1 1.8-2.3 1.2-1.7 1.8-0.1 1.2-2.9 1.7-0.7 1.1-1.5 1.3-2 1.6-1.1 1.6-0.4 1.4-2 1.5-1.6 1.6-0.5 1.5-2.8 1.5-0.7 1.4-2.4 1.6-0.6 1.5-0.5 1.2-1.3 1.8-1.6 1.1-2.1 1.9-1.5 1.2-1 1.3-2.6 1.5-0.6 1.3-1.3 1.7-1.7 1.4-1.7 1.7-1.2 1-1.8 1.9-0.9 1.2-1.2 1.3-1.4 1.4-2.3 1.9-1.4 1.1-1.2 1.5-1.8 1.6-1 1.2-2.4 1.4-0.7 1.5-1.1 1.4-1.4 1.5-1.4 1.2-0.9 1.4-2 1.6-1.7 1.4-0.8 1.3-1.5 1.5-1.6 1.6-1.4 1.3-1.4 1.4-1.4 1.5-1.6 1.5-2.1 1.2-0.6 1.9-0.6 1.1-2.1 1.4-2 1.1-0.7 2.5-1.3 0.9-0.7 1.8-3.4 1.3-0.5 1.5-1.4 1.8-1.1 1.8-1.8 1.6 1.1 1.3-2 1.7-1.9 1.9-1.9 1.3-0.9 1.8-2.3 1.4-1.5 1.8 0 1.4-1.7 2-1.4 2.4-2" stroke="#00ff00" stroke-width="3.6"/>
<path class="c" d="M298 757.1l3.6-4.3 1.5-1.5 1.9-0.3 1.3-0.2 2.4-2.8 1.2 1.4 1.7-2 1.8-0.5 2.1-1.5 2.6-0.3 1.6-0.7 1.6-3.6 2.5 4.4 1.7-0.8 1.5-0.8 1.8 2.4 2.3-1.4 2.4 0.6 2.1-1.8 1.8 1.5 1.8-0.7 2.3-0.6 1.8 1 3-0.6 1.2-2.1 2 2 2.9 0.1 1.3 1.1 2.2-0.1 2-2.6 2.5 1.9 2.1-2.9 1.8 1.7 1.4 1.4 1.8-0.8 3.3-1.9 1 2.8 2-1.2 2.8-0.1 1.7 0.7 1.9 0.5 1.9-1.2 2.4 0.7 2.1-1.4 1.5 0.7 2.5 0.1 1.4 0.1 1.7-0.1 2.7-1.1 2.6 1.9 1.5-0.7 2-1.7 1.5 0 2.9 1.6 1.6-0.7 1.8 1.3 2.2 0 1.6-1.5 2.6-1.4 1.8 1.7 2.3-0.1 1.4 0 2.8-1.7 1.4 0.4 2.2 1.3 2.3-0.3 2 0.4 2.3-3.8 1.5 0.6 2.4 0.5 2-2.1 2 1.3 2.1 0.2 1.9-1 2.2-0.4 1.9 0.4 1.8 0.4 1.7-0.8 2.3-1.8 2.4 0.8 1.5-2 2.3-0.2 1.7-1.2 2 0.1 0.7-1.2 2.4-3.3 1-0.4 2.2-1.1 1.5-1.7 1.4 0.8 1.9-1.3 1.3-2.2 1.7 0.7 1.5-3.1 1-1.9 2.4 0.8 0.5-2.9 1.7-0.6 1.5-2.7 1.7-2.2 1-0.4 2.8-1.3 1.1-2.4 1.2 1 1.6-5.5 1.8 1.9 1.6-1 1.6-1.8 1.3-0.8 1.8-0.1 1.3-2.9 1.3-2.1 2.8-0.6 1 1.1 1.4-1.7 1.9-4.6 1.7 1.2 1.3-2.2 2.3 1.8 1.2-2.1 1.9-4.6 1.4 2.2 2.4-3.8 0.4-0.5 2.1-2.3 1.3 0 1.8-1.4 1.6-2.6 1.5-0.7 1-2 1.6 1.7 1.7-2.3 1.2-3.4 1.7-1.3 2.2-0.6 0-2.7 2 0.9 1.6-3.5 1.1 0.1 2-2.1 0.9 0.1 1.6-1.6 1.7-2.3 1.5-2.1 1.9-1.8 1.3 0.9 1.1-2.4 1.9-1.1 0.8-2.2 1.6-2.6 1.5 0.1 1.3-1.6 1.1-1.6 2.2-2.7 0.8-1.1 1.8-1.8 1.4 0.1 1.2-2 1.6-1.9 1.5-0.2 1.7-2.5 0.9 1.4 1.8-3.8 1.3-0.1 1.2-3.8 1.8-0.9 0.9 0.1 1.8-3.7 1.5-0.9 1.5-0.1 1-2.7 1.5-0.1 2.2-1.5 0.4-2.3 2.1-2.5 1.2 0.8 1.4-1.7 2.5-2.9 0.6-0.7 1.2-1.5 2.4-2.3 0.6-2.1 2.1-2.1 1 2.6 1.6-2.7 1.2-2 2.4-0.7 0.9-1 1.7 1.1 2-4.6 1.4-0.2 1.1-2.3 1.5-1.6 1.2-0.4 1.8 0.1 2.4-2.8 1.4-1.4 1.5-0.9 1.9-1.9 1.9-2.8 2.5-0.4" stroke="#00ff00" stroke-width="1.62"/>
<path class="c" d="M645.2 575.5l-2.8 3.2-1.3 2.3-1.3 0.6-1.3 1.9-1.3 2.3-1.2 1.2-1.6 2-1.4 1.3-0.8 1.5-1.1 1.3-1.3 1.6-2 2.5-0.5 0.8-1.4 1.8-1 1.3-1.4 2.6-1.5 1.7-1.2 0.9-1.3 1.6-1.3 0.8-2 2-0.7 2.1-1.5 1.8-1.6 1.5-1.1 0-1.1 3.5-2.3 0.8-1.1 2.6-1.4 0.9-1.3 1-1.3 2-1.8 1.3-1.5 1.3-1.2 1-1.7 3.4-0.9-0.9-1.9 3.1-1.6 0.6-1.3 1.5-1.1 1.8-1.7 2.1-1.4 2.1-1.4 0.3-1.7 2.8-1.1-0.1-1.4 1.8-1.6 1.8-1.5 2.8-1.4 0.1-1.3 2-1.6 1.4-1.2 0.8-1.6 1.6-1.6 1.4-1.5 0.5-1.3 3.1-1.5 1.4-1.6 1.2-1.2 0.9-1.5 0.7-1.7 2-1.5 1.6-1.3 2.1-1.3 1.7-1.8 0.2-1 2.7-1.9 0.8-1.6 1-1.3 2-2 0.9-1.2 2.1-2 0.8-1.5 1.2-1.5 1.9-1.8 1.4-1.6 0.5-1.8 0.9-1.5 0.9-1.7 1.8-2 0.8-1.8 1.7-1.3 1.5-1.6 0.9-1.5 0.9-1.9 2.3-1.5-0.2-1.7 2.2-1.2 2.6-1.9 0-1.7 2.1-1.3 0.6-1.2 3.4-1.9-1-1.7 2.2-1.3 0.7-1.7 1.1-1.5 1.8-1.6 1.9-1.8 1.5-1.3 0.7-1.2 2.8-2.1 0.3-1.5 3.6-1.2 0.4-1.4 0.7-1.9 1.4-1.3 0.5-1.7 1.9-1.5 1.3-1.3 2.4-1.7 1.4-1.7 0.3-1.5 1.9-1.7 1.8-1.7 0.9-1.8 1.7-1.7 1-1.8 0.8-1.5 0.9-2.4 0.5-2.2-0.9-2.2-1.5-1.8 1.3-2.1-1.4-2.2 0.6-2.2 0.2-1.8-0.4-2 1-2.2-1.5-2.4 0-2 0.3-1.9-0.3-2.1-0.4-1.9-1-2.4 0.3-2.2 0.7-1.5 0.2-2.4-1.9-2.3 1.1-1.6-0.7-2.3 1-2-1.1-2 0.4-2.2 0.2-2-0.3-2.3-0.1-1.7 0-2.1 1.3-2.2-1-2.2 0.2-1.6 0.1-2.6-1.2-1.9 1.2-1.8-0.5-2.7 0.9-2.3 0.2-1.3-0.7-2.4-0.2-1.9 0.6-2.3-0.9-2.2 1.6-2.1-1.4-2 0.4-1.8 0.9-2.4-1.3-2.2 0.2-2 0.8-1.9-1.5-2.3 0.2-2.1 0.1-1.8-0.7-2 1.3-2.3-0.1-2-0.4-1.9-0.9-2.2 0.7-2.2 0.2-2.1 0.1-1.7-0.4-2.4-0.3-2.1 0.6-2 1.4-2 0.4-2.1-0.4-2.2-1.4-1.7-0.5-2.2 0.5-2.1 1.2-2 1.3-1.9 1.2-2.3-1.2-2.2 0.5-1.3 1.6-1.8 0.8-1.9 1.8-1.6 1.1-2 0.2-2 1.3-1.3 0.5-1.6 3.1-3.1 2" stroke="#00ff00" stroke-width="3.6"/>
<path class="c" d="M645.5 575.8l-2.8 3.8-1.7 0.8-1.1 2.5-1.6 0.4-1.4 1.1-1.1 3.7-1.5-0.5-1.4 3-1.3 2.1-0.7 0.1-1.1 3.9-1.1-0.6-1.3 1.5-1.3 1.9-1.5 2.6-0.8 1.3-2-0.1-1.5 3.6-1.2 1.8-1.1-0.1-1.2 2.1-2 3.2-1.2 0.7-1.2 1.4-1.4 3.6-1.6-1-1.7 1.8-1.1 0.6-1.1 3.3-1.2 2.8-1.5-0.3-1.3 1.4-1.5 1-1.8 2.3-1.7 1.1-0.7 2.6-1.7 0.1-1.2 1.3-2 1.2-1.4 2.6-1.6 0.6-1.2 2.4-1.4 1.3-0.9 2-1.4 2.2-1.7-0.5-1.8 2.9-1 0.9-2 0.8-0.7 1.2-2.8 1.5-0.5 2.1-1.5 2.9-1.7 1-1.1 3.3-1.3-2.8-1.7 5.8-1.7-0.6-1.7 0.9-1.3 1.7-1.7 0.6 0 0.9-2.8 1.8-1.5 3.9-1.6-0.2-0.9 2-2-1-1.5 3.6-2.3 0.7-1.1 0.6-1.3 4-1.7-0.4-1.7 1-1.4 2.5-1.7 0.2-1 2.5-3-0.5-1.3 2.4-1.3 0.5-2.1 1.2-1.4 1.6-2.1 1.5-1 1.4-1.7 0.7-1.7 0-1.5 3.3-2.2 2.4-1.4-0.6-0.9 1.7-2.1-0.8-1.5 4.2-1.2 1.9-1.6 0.3-1.6 3.2-1.3-0.6-2.4 2.1-1.3-1-1.5 4.4-1.4 1.2-1.5-0.4-1.7 1.9-1.6 1.8-1.4 2.5-1.5 0.5-0.9 1.4-2.3 0.5-1 1.7-2.7 1.3-0.9 3.5-1.2-0.9-1.9-0.8-0.9 4.4-1.8 0.6-2.1 3.7-1.8 1.4-1.6-2.4-1.7 2.2-1.8 2.2-1.5 1.7-2.1-3.5-2.1-0.8-2.3 0.9-1.9 0-1.5-0.5-1.9 1.8-3.1-1.1-2 2.4-2.1-1.9-1.9 0.6-2 0.9-2.3-3.5-2.5-0.5-1.6 1.7-1.8-1-2.4 0.6-2.2-0.8-2.1 0.3-1.6 0.5-1.8-0.5-2.4-1-2 0.3-2.3 2-1.8-2.5-2.6 2.9-1.5-2.4-2.8-0.5-2 0.1-2.3 2.2-1.4-2-2.3 0.2-2 1.1-2.1-0.4-2.3-0.9-2 2.2-1.5-2.1-2.4 1.3-2.1 1.7-2.3-4.1-2-0.2-2.3 4.1-2-0.8-1.7-1.3-2.2-1.2-2.9 1.7-1.2-0.9-2 0.4-3-0.1-1.9 0.8-1.6 1.2-2.5-2.5-1.9-0.8-1.5 3.1-2.2-3.7-2.2 1.7-2.5 0.7-1.9-0.2-2.1 0.1-2-0.3-2 1.7-1.9-1.7-2.4-0.5-1.6 0.8-2.4 1.8-2.7-2-1.6 0.9-1.8-1.7-1.9 2.3-2 0-2.9-0.9-1.3 2-2-0.5-1.9 1.5-1.7-2.1-2.3 4.4-1.9 1-2 0.4-0.6 1.7-2.2 0.3-2.3 1.7-1.7 1-2.4 4.2" stroke="#00ff00" stroke-width="1.62"/>
<path class="c" d="M298.8 758.2l2.5-2.9 1.8 0.9 1.8-2.1 1.5-2 2-0.5 1.7-0.5 1.8-2.2 2.1-0.8 1.5 0.4 1.9-1.5 2.1 0.4 1.8-1.1 2.4-0.1 1.6 0.5 1.9 0.5 2.3-0.4 2.5-0.1 1.7-1.2 2 0.3 2 1.1 2.1-1.8 1.7 0.9 2.3 0.3 1.8-0.8 2.2 0.7 2.4-0.4 1.9 0.8 2.1-0.6 1.9-0.5 2.1 0 1.9-0.5 2 0.6 2.2-0.8 2.2 1.3 1.8-0.9 1.8 1 2-0.6 2.2-0.5 2.3 0.5 1.7 0.5 2.6-0.1 1.6-1 2.1 0.4 2.3-0.2 2.2 0.6 1.5-0.7 2.2 0.7 2-0.5 2.4-0.5 1.5-0.2 1.9 0.5 2.1-1.1 2.7 0.2 1.9 2 1.8-1.1 2.2-0.6 1.7 0.4 1.9-0.2 2.5-0.1 1.7-0.4 2.2-0.4 2 0.1 2.2 0.5 2.2-1.1 1.7 0.7 2.1 0.1 2.1-3.3 2.4 1.7 1.7-0.1 2.5-0.5 1.5-0.6 2-0.1 1.9-2.8 1.8 1.4 2.3 0.3 1.8-0.9 1.8-1.2 1.7-0.5 2.5-0.3 1.3-1.8 1.6-1.1 2.2 0.1 1.9-1.5 1.6-1.9 1.4-1.3 1.6-1.9 2 0.5 1.5-2.8 1.1-0.2 2.1-1.3 1.4-1.3 1.3-3 1.7 0.4 1.5-1.5 1.5-1.3 1.5 0.9 1.6-3.5 1-2.9 2.2-1 1.3-0.4 1.7-2.5 1.3-0.6 1.6-1.4 1.6-1.6 1.7-1.1 1.3-1.5 1.9-0.5 1.9-1.5 1.3-2.3 1.4-0.7 1.6-0.4 1.4-2.4 1.5-1.5 1.8-1.4 1.4-0.4 1.8-2 1.7 0 1.8-2.5 2-0.6 1.1-1.6 2.1-0.2 2.1-2 1.1 0.2 1.9-1.8 1.1-0.3 1.6-2.6 1.3-0.5 1.3-3.7 1.9 0.7 1.2-1.6 1.5-2.4 1.7-1.7 1.8 0.4 1.2-2.7 1.2-0.5 1.6-2.3 1.6-1.5 1.7-0.7 1-1.8 1.4-0.5 1.3-2.5 1.9-1 1.5-1 1.4-1.3 2.2-1.5 1.2-2 1.1-1.3 1.4-1.2 1.2-1.6 1.6-1.8 1.5-1.1 1.5-1.2 1.5-0.8 1.3-2.1 1.5-1.6 1.5-1.5 1.5-1.3 1.8-1.4 0.9-0.9 1.6-2.9 1.5-0.5 1-1.9 1.9-0.9 1.2-2.3 1.3-1.7 1.9-1.3 1.1-1.1 1.3-0.2 1.6-2 1.4-2 1.5-1.2 1.4-0.7 1.3-2.4 1.7-1.1 1.6-1.8 1.4-0.9 0.9-1.6 1.9-1.9 1.1-2 1.8-1 1.4-0.8 1.3-1.1 1.5-3 1.9-0.8 1.2-0.9 1.6-1.4 1.3-1 1.9-2.5 1.7-0.7 1.3-0.4 1.9-1.5 1.8-0.8 1.3-2.1 1.6-1.2 1.4-1.8 1.8 0.2 1.5-3 1.6 0.1 1.8-0.5 1.7-1.9 3.3-4.3" stroke="#ffff00" stroke-width="4.2"/>
<path class="c" d="M298.4 757.8l3.3-1.2 2.2-0.4 1.2-3.2 1.4-0.6 1.7-2.3 1.6 1.6 2-0.6 1.3-1.6 2.6-1.3 1.9 0.9 1.5-2.1 3-1.1 1.7 0.6 1.2-0.8 2.6 1 1.5-0.5 2.2-1.5 2.2 2.1 2.6-2.3 2 1.6 1.3 0.4 2.1 1.4 2.1-1.8 2.4 0.8 2-0.6 2.1 0.1 1.9 0 1.9-0.1 2.3 0.3 2.3-1.3 1.9-0.3 2-0.3 2 0.9 1.7-0.6 1.8 0.2 2.4-0.4 2.2-0.5 1.9 1.1 2.2-0.4 2.1-1.1 1.8 1.3 1.6-0.4 2.9 1.2 2-0.1 2.4-0.7 1.5-0.9 1.6 0.6 2.6 0.8 1.9 0.8 1.7-1.2 2-1.4 2 2.4 2.5-1.1 1.8-1 2 2.1 1.6-2.9 2.3 2.9 2.3-1.9 1.7 0.8 3.3 0 1-1.9 2.2 0.1 2.3-1.8 1.9 1.1 1.6 1.6 1.8-1.8 2.7 2.5 2.1-2.1 1.9-2.1 2 1 1.4-1.4 2.2 0.1 2.2-0.4 2.3-0.5 1.2-0.3 2.4-1.1 2.2 0.1 1.2-2.4 2.3-2.6 1.9 2.8 1.4-1 2.2-1.2 1.1-3.4 2.3-1.3 1.1 2.4 3.1-2.9 0.9-0.4 1-1.5 1.6-4.4 2.7 2.8 0.5-2.6 1.6-0.6 1.4-3.1 1.3-0.5 2-0.3 1.4-2.2 2.2-1.7 1.3-1.2 0.7-1 2-1.4 2.1-0.9 1-1.3 1.5-1.6 1.1-1.6 1.9-3 2.3-0.3 1-0.7 1.9-2.4 1.1 0.7 1.8-2.1 1.7-1.5 1.1-2.5 1.6 0.1 1.6-4.3 2-0.4 1.7 0.1 1-1.1 2.2-1.5 2.1-1.6 1.8-0.2 1-0.7 2.2-1.5 1.6-0.4 1.5-2.5 1.5-0.3 1.9-0.6 1-3 1.6-1.6 1.5-1.4 1.4-2 1.8 1.2 1-3 1.5-2.9 2 1.2 0.8-0.9 2.1-3.2 1.3 0 0.6-2.5 2.3-1.7 1.1-2.7 2.2 1.8 0.7-2.5 1.7-2 1.7-0.9 0.8-1.1 1.1-2.7 2.2 0.5 1.8-1.7 1-3.6 1.2-2.4 1.8 0 1.4-1.1 2.1-0.3 1-1.4 1.5-3.1 1.1-0.4 1.8-3.5 1.4 2.5 1.1-3 1.6-1 1.4-3.2 1.3-1.2 1.9-1.8 1.1-0.4 1.7-3 1-0.4 1.8-0.8 1.1-1.6 1.2-2.7 2.2 0.7 1.2-2.5 0.7-1.9 2.6-1.8 0.7 0 1.4-3.5 1.5 0.3 1.3-1.8 1.9-1.1 0.9-1.7 1.6-2.2 2-0.4 1.3-2 1.6-2.2 1.1-0.5 1.3-0.6 1.7-2.5 1.6-1.8 2.2-1.7 1.2 0 2.1-1.7 0.9-2.9 1.7-0.3 2.1 1.2 1.1-0.8 1.3-2.9 2-1.9 1.7 0.9 1.8-3.2 1.6-0.4 1.6 0.5 2.9-4.1" stroke="#ffff00" stroke-width="1.8900000000000001"/>
<path class="c" d="M645.6 572.1l-3.3 3.7-1.1 2.1-1.5 0.1-1.4 2.9-1.5 0.5-1.3 3-1.1 0.4-1.2 1.9-1.5 2.2-1.2 0.9-0.7 2.9-1.6 1.5-0.9 0.5-1 1.3-1.3 2.1-1.6 2.4-1 1.9-1.7 1.3-0.8 2.3-2.1 0.1-1.3 1.6-1.3 2.8-1.5 1.1-0.9 0-1.8 2.3-1.5 2.5-1.2 1.4-1.6 1.7-1.3 0.8-1.4 1.8-2 1.1-0.9 1.5-1.5 3.2-1 0.3-1.8 2.3-1.6 0.9-1.6-0.1-1.2 2.1-1.6 3.3-1.3 0.7-1.5 0.6-1.4 0.5-1.4 2.9-1.5 1.4-1.3 2.8-1.6 0.7-1.3 2.3-1.5 0.8-1.4 1-1.3 2.5-1.5-0.3-1.6 2.4-0.9 1.7-2 1.5-1.2 0.8-1.9 3.3-1.4 1.4-0.9 1-2 1-1.3-0.5-1.5 3.1-1.4 2.3-1.5 0.5-1.7 1.1-1.6 2.8-1.2 0.3-1.8 1.4-1.5 2-1.4 1.1-1.4 2.2-1.7 0.2-1.5 1.3-1.6 1.2-2.2 2.5-1.3 0.9-1.9-0.3-1.6 2.8-2 0.2-1.4 0.9-1.9 2.6-1.7-0.1-1.5 2-1.3 1.6-1.9 1.8-1.6 0-1.6 4.1-1.5-1-1.1 1.5-1.8 2-1.8 0.6-1.3 1.2-1.7 1.7-1.7 1-1.3 2.2-2 1.4-1.6 0.5-1.2 1.2-2 0.8-1 2.4-1.8 1.6-1.7 1.3-1.1 1.3-1.7 0.3-2 3-1.1 1.3-1.3 0.4-1.7 1.7-1.9 0.8-1.4 1.3-1.3 1.9-1.4 1.8-1.8 1.2-1.7 2.1-1.4 0.9-1.1 0.5-2.2 2.7-1.8 1.5-1.8 0.4-1.6 0.2-1.9-0.3-2.8 1.1-1.6 1.1-2.2-0.5-2.2 0.6-2.1 0.2-2.3-1.2-1.8 1.6-2.1-0.4-2.4-1.2-1.6 1.3-2.3 0.1-1.9-0.2-1.8-0.7-2.2 0.1-2.1 0.1-2.1 1-2.3 0-2.1-0.3-2-0.5-1.9-0.5-2.2 1.4-2.4-1.1-1.7 0.4-2.1 0.4-2-0.1-2.2-1.2-2 0.8-2.1 0.1-2.6-0.5-1.9-0.1-1.6 0-2.3 1.1-2.1-0.4-2.3-0.3-1.8 1.3-2-1-2.2 0.1-2-0.5-2.3-0.2-2 0-2.2 0-1.8 0.9-2.5 0.5-1.7 0.2-1.9-1.1-2.3-1.1-2.3 1.6-1.8-0.1-2-0.5-1.9 0.5-2.4 0.5-2-0.4-2.2-0.2-2.2 0.8-2-1.6-2.2 1.4-2-0.5-2.1 0.3-2 0.9-1.8-1.3-2.3-0.3-2.4 0.4-1.5 0.2-2.4 0.1-2-0.5-2 0.3-2.2 0.1-2.5 1.6-1.4-1-2.1 0.6-1.7 1.1-2.6-0.3-1.5 2.1-1.9 1.6-1.9 0.4-1.8 0.5-1.6 0.5-1.7 2-1.7 0.4-1.6 2.1-2.8 3.6" stroke="#ffff00" stroke-width="4.2"/>
<path class="c" d="M645.2 571.7l-2.5 3.7-1.9 3.6-1-0.1-1 2-2 2.1-0.7 0.5-1.8-0.4-1.5 5.2-1.1-0.7-0.8 2.1-1.6 2.3-0.6 0.9-1.8 2-1 2.5-1.4 2-0.6 1.6-1.9 0.8-1.5 4.2-0.9-0.8-1.7-0.3-1.4 2.8-0.9 2.9-2 0.7-1 2.2-1.5 1.2-1.2 1.1-1.3 1.6-1.3 2.3-2.1-0.1-1 2.6-2.2 1-1.2 3.2-0.9 0.3-1.6 0.5-1.9 2-1.8 3.4-0.5 2.6-1.4 0.3-1.8-0.4-1.2 0.7-1.3 3-1.6 1.2-1.4 0.6-1.1-0.6-2.1 3-1.5 3-0.9 1.7-2.3 1-1.2 3.3-1.2 0.2-2-0.1-0.9 4.4-1.5 0.6-1.5 1.8-1.1-1.2-1.7 3.7-1-0.5-1.5 2.9-1.6 2.3-0.9 1.3-2.8 1.1-1.4 1.9-1.3-1.3-1.4 3.7-1.5 1.4-1.3 1.3-1.4 2-2 0.7-1.4 2.3-1.6-0.2-1.1 1.5-1.1 1.6-2.2-0.9-1.9 5-1.5 0.8-2 0.4-1.7 1.9-1.7-1.2-1.8 3.8-1.3-1.6-1.9 2.1-1.3 2.2-1.8 2.8-1.8-1.6-1.2 2.3-1.8 1-1.8 1.4-1.5 2.4-1.5 1.6-1.2 1.3-2.3 0.6-1.6 1.7-0.6 2.3-2 1.1-1.3 1.4-1.9-0.4-2.1 3-0.9 1.7-1.7 1.1-1.4 0.3-2.1 2.1-1.3 1.2-2.2 3.1-0.1-1.2-2.1 1.7-1.4 0.7-1.6 2.3-1.7 3.1-0.7-1.8-2.6 5.2-1.6-0.5-1.1-0.1-1.7 3.2-2.1-1.2-1.2 2.2-1.2 4.1-2.5 0.4-1.2 1.6-2.1-1.4-2-0.9-2.2 1.2-1.9 1.6-2.4 0.3-2.7-0.7-2-0.9-1.4 2.5-2.5 1.3-2.1-2.4-1.4 0.1-1.9-0.1-2.6-0.2-1.6 1.3-2.3-1-1.8-1-2.5 2.9-2-0.9-1.3 1.3-2.6-1.1-2.4 0.3-1.7-1.6-2.5 0.4-1.8-0.9-2.6-0.1-0.9 1.3-3.3-1-1.6 0.6-2.4 0.8-1.6-0.1-1.9 1.3-2.4-2.9-2.6 1.4-1.7 0.9-2.8-1.5-1-0.2-2.2 1.6-2 1-2.9-0.9-2.1 0.1-1.4-3-1.8 3.7-2.8-2.5-2.5 0-2.1-0.4-1.8 1.8-1.3 1.7-2.5-2.6-2.6 0.9-0.9 0.2-3.3-0.9-1.8 1-1.9-0.3-1.6-1.1-2.7 1.4-1.9-0.6-1.7-1.3-2.6 1.9-1.9-1.7-1.8 0.4-1.9 0.2-2.5 1.3-1.8-1.6-1.9 2.6-2.7-1.2-1.9-0.7-1.5 0.4-3 0.5-1.7-0.2-1.7 0.9-2.4 0.4-1.6-0.6-2.5 0-1.8 2.7-1.3-1.6-2.5 2.6-1.7-0.5-1.2 4.7-2.6-1.8-1.1 1.4-2.3 1.9-1.4 1.8-2.6 3.5" stroke="#ffff00" stroke-width="1.8900000000000001"/>
<path class="c" d="M298.6 765.5l3.1-3.5 1.7-1.1 1.3-0.8 1.3-0.5 1.9-3.2 1.9-0.9 1.6-0.1 2-1.9 1.5-0.9 2.2 0.5 1.9-1.1 1.9-1 2.5 0.3 1.3-0.6 2.7-0.5 1.8-1.1 2.3 1.8 1.8-0.9 2 0.3 2.6-0.7 1.5 1.1 2 0.2 2.3 0.3 1.9-0.7 2 0.4 2-0.8 2.3-0.7 2 1.7 2-0.9 2.2 0.4 2.1-0.5 1.3 0.7 2.6 0.5 2.1-0.9 2 0.5 1.8-0.9 2.3 1 1.9-0.8 2.1 0.4 2.1-1.2 2.4 1 1.9 0.3 1.9-0.4 2.1-1.7 2 1.4 2.1 0.9 2.4-1.3 1.7 0.2 2-0.2 2.4 0.7 1.8-0.9 2.2 0.1 1.7 0.9 2.2-2.1 1.9 0.7 2.6 0 1.4 0.8 2.2-0.6 2.1-0.1 2.3-0.9 2 0.7 1.9 0.2 2.3-0.8 1.8 0.8 2 0.9 2.4-0.3 1.9-1.3 2-0.4 2.1-0.6 2.1 0 1.8-0.9 2 0.4 2.2-0.5 2-0.7 1.8-0.6 1.9-0.3 2-0.9 1.6-1.3 2 0.3 1.9-0.8 2-1.8 1.5-1.4 2.1-0.7 1.3-1.1 2-1.4 1.7-1.9 1.4 0.4 1.8-1 1.3-2 2-1.7 1.5-1.2 1.5-0.6 1.7-2.4 1.5-1.5 1.7-1.3 1.2-0.7 1.8-1.6 1-1.3 1.8-0.5 2-2 1.1-1.7 1.3-1.4 1.8 0.1 1.7-2.1 1.9-0.8 1.2-2.6 1.1-0.2 1.6-1.8 1.9-2.4 1.4-1.2 1.4-2.1 2-0.3 1.3-1 1.5-2 1.5-0.9 1.9-0.2 1.5-1.7 1.9-1.2 1.3-2.5 2 0 1.6-2.7 1.9 1 1.6-2.2 1.5-1 1.7-1.5 1.8-0.9 1.8-1.3 1.7-0.7 1.2-1.6 1.5-2.5 2.1-0.4 1.4-0.1 1.8-1.8 1.2-1.8 2-2.2 1.6-0.5 1.2-1.8 1.6-0.7 1.5-2.1 1.5-0.3 1.7-1.3 1.4-1.4 1.4-1.7 1.6-2.7 1.3-0.2 1.8-2.3 1.2 0.4 1.3-1.9 1.4-3.4 1.4-0.5 1.7-2.1 1.6-1.4 1.2-0.3 1.6-2.8 1.2-1.5 1.7-0.8 1.5-1.4 1.3-1.2 1.7-1.1 1.2-2.1 1.2-0.8 1.7-1.9 1.1-1.7 1.7-1 1.9-2.1 1.4-0.8 1-1.7 1.5-2.1 1.5-1.4 1.3-0.3 1.5-3.3 1.4 0.7 1.8-1.3 1.2-1.6 1.7-3.1 1.2-0.6 1.5-1.6 1.5-0.4 1.6-2.8 1.3-1 1.3-0.8 1.9-1.7 1.5-1.5 1.3-2.2 1.3-1.4 1.5-1 1.3-1 1.6-2.3 1.3-0.5 1.4-1.5 1.5-3.2 1.4-0.2 1.1-2.2 1.6-1.6 1.5-0.3 1.7-0.8 1.5-2.8 1.3-1.1 1.4-1.4 1.8-1.9 3-2.2" stroke="#0000ff" stroke-width="5.0"/>
<path class="c" d="M298.6 763.9l2.2-1.1 2.7-2.1 1-1.3 2.1-0.2 1.2-1.3 1.9-0.6 2.2-2.5 1.1-0.9 2 0.4 2.1-0.5 2.2-3.6 2 0.5 1.3 0.2 2.3 0.2 2.1-1.6 2.5 1.7 1.7-0.8 2 1 2.2-1.2 2.2 0.8 1.9-1.7 1.8-0.9 2.4 2.2 1.5 0.2 2.9-3.6 1.9 3.5 2.1-2.3 1.6 2.1 2.1-0.5 1.9 0.5 2.5 1.1 1.6-0.8 2.4-1.4 2.2 0.3 1.6 1.8 2.3-1.9 2.1 1 2.2-2.1 2 3.8 1.8-2.8 2.1-0.7 2.1 0.4 2.3 0.5 2.2-1.4 1.9 0.5 2.1 1.6 1.5-1.7 2.9 1.7 1-0.9 2.8 0.2 1.8 0.1 1.7 0.4 2.4-0.8 1.9-0.4 2.2 0.4 2-1.4 1.7 1.2 2.9 1.6 2-1 1.6 0.4 2.4-1.7 2 0.2 2.1 0.5 1.7-0.6 2.2-0.4 1.9-0.5 2.1-0.1 1.9-0.4 2.5 0.2 2.2-1 1.8 0.7 1.7-0.7 2.7-0.3 1.4 0 2.1 0.3 1.7-2.1 1.4-0.3 2.6 0.3 1.6-4.4 2 1.5 1.2-0.2 2.4-2.5 2.3 0.2 1-1.1 1.8-2.8 2 1.1 1.3-3.8 1.9 1.4 2.2-3.1 0.5 0.1 2.4-5.4 1.1 5.5 1.7-5.5 1.6-0.6 1.5-2.5 1.2 0 1.6-3.8 1.2-1.8 1.6 0.7 1.2-1.1 2.6-0.2 1.5-1.6 0.8-0.7 1.7-5 1.9 0.5 1.5-4.3 1.4 2.8 1.5-1.5 1.5-3.5 1.3 0.1 1.5-0.4 2-1.9 2.1-2.1 0.8 0 2.2-3.5 1.6-0.8 1.1 1.4 2.3-3.7 1.3-1.9 1.5 2.1 2.1-3.1 1.9-1.2 1-0.8 2.1-1.3 1.8-2 1.3-1.3 1.8-2.8 1.5-0.2 1.9-0.6 0.9-2.2 2.1-1.6 1.4 0.3 1.6 0.2 1.9-4 1.4-1.6 1.4 0.4 1.9-1.4 1.3-1.1 1.7-0.3 2-3.9 0.9-1.4 0.6-1.3 2.5 0.6 1.4-1.3 1.4-2.5 1.4-2.1 1-1.8 1.9-2 1.6 0.1 1.1-0.5 1.7-3 1.3-0.6 2.1-1.2 1-3.4 1.1 0.1 2.1 0.5 1.4-4.1 1.5-1.6 1.4 0.8 1.5-3.6 0.6-0.9 2.3-1.1 1.2-1.8 0.6-1.8 2.4-0.3 1.2-3.5 1.2-0.7 1.6 0.5 1.2-3 2.5-1 1.1 1 1.1-4.5 1.4-2.1 1.4 0.2 2.1-0.9 0.6-3.5 2.6 1.3 0.7-4.8 1-0.4 2.1-1.2 1.1-1.1 1.7-3.8 1.7-0.4 0.8-0.8 1.8-0.7 1.8-1 1.4-1.1 1.3-1.9 1.2-0.4 1.9-3 1-1.9 1.4-1.3 1.1-3.6 1.2 1.3 1.5-0.5 1.6-4.5 2.2-0.6 1.3-1.5 1.1-1.5 1.5 0 3.2-2.2" stroke="#0000ff" stroke-width="2.25"/>
<path class="c" d="M645.9 576.5l-2.9 2.8-1.3 1.6-1.4 1.7-1.1 2.1-1.2 1.5-1.6 1.9-1.4 1.4-1.3 1.6-1.2 1.5-1.4 2.3-1.1 0.8-1.1 2.7-1 0.6-1.2 2-1.4 1.8-1.2 2.3-1.4 1.6-1.3 0.9-1.2 2-1.8 1.2-1 2.7-1.3 1.3-1.2 1.3-1.3 1.6-1.6 1.2-1.1 1.8-2 1.2-1.1 2.5-0.9 1.4-1.8-0.3-1.1 3-1.6 2.2-1.5 2-1.3 0.8-1.1 0.8-1.6 2.3-1.5 1.7-1.4 0.9-1.6 2.2-1.5 1.8-1 1.3-1.7-0.3-1.4 3.6-1.7 0.4-1.1 1.9-1.9 1.9-0.9 1.9-1.8 0.9-1.2 2.6-1 0.2-1.7 1.6-1.7 1.4-1.3 1.7-1.3 1.7-1.4 1.7-1.8 2.1-1.7 1.3-1 0.9-1.7 1.9-1.3 0.5-1.7 2.2-1.3 1.2-1.6 2.9-1.7 0.2-1.5 1.4-1.3 1.1-1.4 3-1.9-0.9-1.5 2.2-1.5 1.4-1.4 0.7-2.2 1.4-1.6 1.1-1.9 1-1.9 0.2-1.5 2.6-2 1-1.5 0.9-1.9 1.4-1.7 1.4-1.8 0.4-1.3 1.4-1.8 0.1-1.7 1.9-1.6 1-1.4 2.3-1.8 2.5-1.9 0.4-1.2 0.4-1.3 1.7-1.7 2.8-1.8 1.4-1.7 1-1.6 1.2-1.1 1.5-2.1 1-1.5 2-1.1 1.5-1.6 1.8-1.7 1.5-1.4 1.2-1.4 0.8-1.7 1.9-1.3 2.1-1.6-0.2-1.6 2.2-1.7 1-1.2 1.6-1.6 1.1-1.6 2.5-1.6-0.5-1.4 2.8-1.6 1.4-1.8 0.4-1.7 2.9-1.6 1-2.2 1-1.8 0.7-1.5 1.1-2.3-0.8-1.7 0.5-2.5 0.8-2.2 0-1.9 0.2-2.1 0.4-2.1-1.1-2 0.5-2.4-0.6-1.8 0.1-2.1 1-2-0.2-2.5 0.4-2.1-0.7-2-1.2-2.2 0.7-2 1-2.2-0.9-1.8 0.9-2 0.1-2-0.2-2.4-1.2-2.4 1.6-1.6-1.6-1.9 0.1-2.1-0.3-2.5 1.1-2.2-0.8-1.8 1-2.2-0.7-2.2-0.1-2.2 0.4-2 1.2-1.8-0.7-2.2 0.3-2.1-1.5-2.1 0.2-1.9-0.2-2.2 1.1-2.2-0.6-2.4 0.5-1.6 0.3-2.5 0.1-1.7-1.1-2.1 0.9-2.3 0.7-2-1.6-2 0.2-2.1 0.1-2.3 0.4-1.9-1.1-2.4 0.4-1.9 1.2-2-0.4-2 0.1-2.2-0.4-2.4-1.2-1.8 1.2-2.2-1-1.8 1.1-2.2-0.3-2.1 1.2-2.2-1.3-2 1.2-2.2-0.6-2.1-1.3-1.9 1.4-2.3 0.2-1.7 0.2-2.2 0.2-2.1 1.1-2 1.6-2-0.2-1.2 2.4-2.3-0.8-1.5 2.5-1.9 1.5-1.8-0.5-1.2 2.8-1.9 0.5-1.3 2.2-3.1 2.3" stroke="#0000ff" stroke-width="4.4"/>
<path class="c" d="M646.2 575.6l-3.3 3.5-0.8 2.5-2.1 1.3-1.1 0.5-2 2.4-0.2 4.1-0.9-0.3-1.7 2.7-1.8 0-1.3 3.9-1 1.8-1.3-0.9-0.4 1.7-1 1.9-1.5 2.8-1.8 0.3-1.1 2-1.2 1.1-1.3 2.3-1.7 3-1 2.6-1.8 1.2-0.9 0.7-1.9 0.3-0.7 3.3-2-0.3-1.3 3-0.9 4.3-1-1.6-2.1-0.7-0.9 3.5-1.5 2.2-1.3 1.5-1.8 1.2-1.2 3.6-1-0.3-1.9 1.5-1.6 0.5-1.3 3.4-1.8 0.8-1.3 3-1.5-2.3-1.7 4-1.2 3.5-1.3 0.5-1.8 1.3-0.8-1.1-1.2 2.9-1.7 0.2-1.3 2.9-1.5 1.5-1.7 1.4-1.3 0-1.2 1.4-2 3.4-1.3 1.4-1.6 1.3-1.9 1.1-1 1.8-1.2 2.3-1.6 0.3-1.3 2.2-2 1.6-1.4 1.6-1.5-0.1-1.7 1.7-1 3-1.7 2.3-1.3-2-1.7 5.2-2.2-0.8-1.3 0.3-1.9 0.8-2 1.4-0.8 2-2.8 1.8-1.9 1.1-1.4-0.8-1.7 4.1-2.2-2.7-1.7 1.9-0.7 5.6-1.2-1.1-3 0.6-1.2-0.3-1.6 3.3-1.3 0.9-1.5 2.9-2.2 1.7-1.5-0.7-1-0.3-1.6 4.5-1.7 1.2-2.1 0.3-1.2 2.7-1.2-0.6-1.6 2.7-1.7 3-1.2 1.1-1.6 0.9-1.5-0.3-1.8 2.7-1.2 2.2-2.1-0.3-1.4 3.4-0.8-1.6-1.9 4.2-2.1 0.5-1.4 2.4-1.6 2.2-1.5-2.7-1.1 3.4-1.4 2.2-2.1 1.3-1.6-0.9-2 3-1.8 1.4-1.8 0.7-2-0.2-2 2-2-1.6-2.1 0.4-2.1 0.1-1.9 1.7-2.1-0.6-1.9-0.1-2.6-0.8-2-0.4-1.9 0.9-2.2-0.1-2.4 0.8-2.2-0.1-2.2-0.4-1.8-1.7-2.4 4.5-1.5-3.6-2.1 1.5-2.4 0-2.1-0.2-1.7-0.5-2.9 0.5-1.3-2.9-2.3 2.1-2 0.8-2.1-0.4-1.7-1.3-2.1 1.8-2.8 0.2-2.3-0.4-1.6-1-2.4-0.2-1.7 0.1-2.1-0.3-2 2.5-2-1.8-2.7 0.1-1.4 0-2.3-0.7-2.8 0.3-1.5 0.3-2 0.4-2.3-0.4-2.4 0.3-2 0.7-1.5-0.4-3.1-0.2-1.5-0.2-2.4 0.5-1.9 0-1.7-0.9-1.8 0.5-2.5-0.2-2.3-0.5-1.8 2-2.1 0.5-2.6-1.5-2.1-0.7-2.1 0.6-1.7 0.5-2.2-1.7-1.8 1.1-2.4-0.5-2.2 0.3-1.8 1.9-2.2-3.3-2.2 0.4-2.2 1.1-2 1.5-2.1-0.9-2.3 0.3-1.3 1.1-2.2 4-1.8 0.2-1.5 1.4-2.2-0.2-1.1 1.1-1.5 1.4-1.8 0.6-1.6 2.5-1.2 1.1-3.5 3.4" stroke="#0000ff" stroke-width="1.9800000000000002"/>
</g>
<rect x="755.8" y="537.3" width="256.5" height="163.7" fill="#fff" stroke="#999"/>
<path d="M767.1 556.2H825.4" stroke="#a0a0a0"/>
<text class="s" font-size="24.35" transform="translate(831.8 565.3) scale(1.043 1)">50</text>
<text class="s" font-size="24.35" transform="translate(933.3 565.3) scale(1.023 1)">Cycles</text>
<path d="M767.1 586.5H825.4" stroke="#ff4848"/>
<text class="s" font-size="24.35" transform="translate(831.8 597.5) scale(1.043 1)">500,000</text>
<text class="s" font-size="24.35" transform="translate(933.3 597.5) scale(1.023 1)">Cycles</text>
<path d="M767.1 618.7H825.4" stroke="#a0ffa0"/>
<text class="s" font-size="24.35" transform="translate(831.8 629.6) scale(1.043 1)">1000,000</text>
<text class="s" font-size="24.35" transform="translate(934.6 629.6) scale(1.023 1)">Cycles</text>
<path d="M767.1 651H825.4" stroke="#ffffa0"/>
<text class="s" font-size="24.35" transform="translate(831.8 661.8) scale(1.043 1)">1500,000</text>
<text class="s" font-size="24.35" transform="translate(934.6 661.8) scale(1.023 1)">Cycles</text>
<path d="M767.1 681.5H825.4" stroke="#4848ff"/>
<text class="s" font-size="24.35" transform="translate(831.8 693.2) scale(1.043 1)">2000,000</text>
<text class="s" font-size="24.35" transform="translate(934.6 693.2) scale(1.023 1)">Cycles</text>
<text class="grp" x="9" y="1180.2">Group 3</text>
<path class="g" d="M353.75 1305.8V955" stroke="#8a8a8a"/>
<path class="g" d="M448.6 1305.8V955" stroke="#8a8a8a"/>
<path class="g" d="M543.75 1305.8V955" stroke="#8a8a8a"/>
<path class="g" d="M639.05 1305.8V955" stroke="#606060"/>
<path class="g" d="M306.25 1072H736.4" stroke="#999"/>
<path class="g" d="M306.25 1189.2H736.4" stroke="#999"/>
<path d="M306.25 955H736.4" stroke="#888"/>
<path d="M736.4 955V1305.8" stroke="#666"/>
<path d="M306.25 1305.8H736.4" stroke="#aaa"/>
<path d="M306.25 955V1305.8" stroke="#909090"/>
<path d="M353.75 955v4M353.75 1305.8v-4M448.6 955v4M448.6 1305.8v-4M543.75 955v4M543.75 1305.8v-4M639.05 955v4M639.05 1305.8v-4M306.25 1072h4M736.4 1072h-4M306.25 1189.2h4M736.4 1189.2h-4" stroke="#666"/>
<text class="t" transform="translate(353.75 1332.5) scale(1 1.06)" text-anchor="middle">0.6</text>
<text class="t" transform="translate(448.6 1332.5) scale(1 1.06)" text-anchor="middle">0.8</text>
<text class="t" transform="translate(543.75 1332.5) scale(1 1.06)" text-anchor="middle">1</text>
<text class="t" transform="translate(639.05 1332.5) scale(1 1.06)" text-anchor="middle">1.2</text>
<text class="t" transform="translate(736.4 1332.5) scale(1 1.06)" text-anchor="middle">1.4</text>
<text class="t" transform="translate(298.9 962.1) scale(1 1.06)" text-anchor="end">1500</text>
<text class="t" transform="translate(298.9 1079.1) scale(1 1.06)" text-anchor="end">1000</text>
<text class="t" transform="translate(298.9 1196.3) scale(1 1.06)" text-anchor="end">500</text>
<text class="t" transform="translate(298.9 1312.9) scale(1 1.06)" text-anchor="end">0</text>
<text class="l x" style="font-size:32.5px" x="406.7" y="1380.5" xml:space="preserve">Displacement  (mm)</text>
<text class="l" style="font-size:33.7px" transform="translate(228 1168) rotate(-90)">Force</text>
<text class="l" style="font-size:32.5px" transform="translate(228 1059.5) rotate(-90)">(N)</text>
<path class="c" d="M395.5 1186l1.9 0.6 1.9-0.5 1.8-1.3 2.5-2.7 1.2 1.3 2.7-1.5 2.3-1.1 1.4-1 2.7-0.6 2.1 0.2 1.7-4.3 2-0.3 2.2 0.8 2.1-4.6 1.7 0.8 2.8-2.2 1.8-0.3 1.9-0.6 2.1-3.8 2-0.1 1-1.5 3.4 0.2 0.6-1.7 2.6 1.5 1.5-3.6 2.6 1.5 2-3.5 1.9-0.4 0.9-1.4 3.2-1.2 1.8-2.4 1.2 0.5 3.2-1.1 1.4-1.4 1.7-0.7 2.4-2.8 1.7-0.2 2.3-1.3 1.7-2.1 1.8 1.5 1.9-2 2.7-0.3 1.7 1.8 1.7-3.3 2.1-1.1 1.8 0.1 3.1-0.8 1.3-0.3 1.9-3.8 2.5 1.6 1.2-3.3 1.8-2.4 2.1-0.9 2.2 1.2 1.8-1.7 1.9-0.7 2.1-3.8 1.7-0.7 1.7-2.3 2.6-2.3 1.5 0.8 1.9 0.3 2.2-2 1.8-3.7 1.4 0.7 2-3.6 1.6-0.5 1.9-1 2.4-3.1 1.6-2.1 1.7 0.1 1.8-2.2 2.8-1.6 1.4 0.1 2.1-2.2 1.8-0.6 1.7-2.8 2.4 0.7 1.8-3.1 2.3-0.6 1.7-3 1.3 2.3 2.3-2.5 1.9-0.9 1.9-3.7 1.5 0.9 1.8-1.9 2.4 0.5 2.1-4.4 1.4 0.9 3-0.4 1.4-3.9 1.5 0.2 2.8-2.6 0.7 0 2.1-1 1.8-0.1 2.7-2.6 1.2-2.3 2.5 0.2 1.7-2 1.6 0 2.1-3.3 1.4 1 2.6-2.7 1.3-1.2 1.9-0.4 2.4-3.1 1.5-0.9 2.8 0.2 1.7-1.6 0.9-0.8 2.6-1.5 1.8-0.9 2.7 0.4 1 0.2 1.9-4.8 2.1 2.2 1.9-1.9 1.7-0.6 2.3-2.3 1.7-2.1 1.8-0.6 2.7-2 1.5-2.1 1.5 0.6 1.8-0.8 2.3-1.9 1.6-0.8 1.9-3.3 2.7 1.6 1.5-2.8 1.8-1.2 2.2-0.6 1.7-2.9 2.1 2.2 2.6-3 1.3-1.5 1.7-2.7 1.8-2.5 2.6-0.1 1.7-2.8 2.1-0.4 1.4-1.1 2.4 0 2.2-2 2.1-1.4 1.9 0.3 1.9-2.8 2.5-1.6 1.6-1.1 1.3 1.2 2.3-2.7 2.4-1.8 2.1-2.7 1.5 0 2.1 0.4 2.5-0.7 2 0.1 2.1-3.8 2.1 0.3 1.8-0.1 1.7-5.2 2.8 4.2 1.9-5 2.3-1.1 1.6 1.3 1.9-1.6 2.1-0.2" stroke="#000" stroke-width="1.3"/>
<path class="c" d="M394.9 1188.9l2.3-2.3 2 2.2 3-0.7 1-2.2 2.5-0.1 2.6 0.6 1-1.8 2.1-1.4 2.2-1.1 1.7-2.8 3 1 1.4-4.2 2.6 0.4 1.8-1.3 1.9-2.8 2.3 0.7 1.6 0.7 2.4-3.6 1.2-2.3 2.2-0.1 2.7-0.3 0.8-2.1 2.9-1.6 1.6-3.1 2 0.8 1.9-1.5 2.6-0.3 1.1-1 2.8-2 1.8-3.9 1.7-0.9 2.1-0.8 2.2 0.5 1.5-2.5 1.7 1.3 2.6-2.4 1.5-1.1 2.1-0.7 2.2-1.7 2.2-3.2 2.3 3.3 1.4-2.4 1.9-1.1 2.2-3.8 1.8-2.5 1.2-0.8 2.3-0.7 1.8 1 2.6-1.2 2.1-0.5 1.6-0.5 1.5-3.1 2.6-1.4 1.3-2 2.4-1.2 1.4-2.2 1.9 0.7 1.9-1.5 2.4-2 1.7-1.7 2.3 0.2 1.4 0.1 2.6-2.3 1.6-0.6 2.6-1.9 1.9-0.5 1.6-1 2-0.8 2.1-1.3 2 0.2 1.7 0 2.5-3.5 1.4 1.7 1.4-3.2 2.7-1 1.8-3.2 2.2-1.5 1.9 2.5 1.7-3.3 1.9 0.9 1.9-2.2 1.7-1.1 1.7-0.1 2-2.9 2.1-5.1 1.2 0.3 2.5 1.7 1.7-0.3 2.2-3.9 1.6-2.3 2.2-2.3 1.8 0.7 2.4-4.3 1.3-1 1.9-0.1 1.9-1.6 1.2-2.1 2.1-0.1 2.7-4.3 1.6-1.3 1.7-0.4 2.3-0.7 1.4-1.8 1.9 1.4 1.9-4.3 1.3 0.1 2.8-2.7 1.5-0.3 1.9-2.2 1.8-1.3 1.7 1 1.3-3.6 2.7 1 2.6-4.2 1.4-1 1.4 0.5 1.7-5.5 2.2-0.4 2 0.6 1.7-0.8 2.2-1.2 1.2-2.3 2.6-2.6 1.6 1.4 1.7-1.7 2-3 2.2 0.2 2.1 0.8 1.7-3.2 2.1-2.6 2.6-0.3 0.6-1.1 1.9-0.3 2.8-0.2 1.7-2.8 2.4-0.4 1.5 1.2 2.6-1 2.5-0.1 2-4 1.3-0.2 2.3 1.4 2.4-3.1 2.4 0.6 1-1.3 2.1-1.7 2.7 1.6 1.5-2.7 1.7-1.6 2.7-0.7 1.1-0.6 2.3-3.2 2.6-0.3 1.4-1.7 2.5-2.1 1.3 2.4 2.7-0.7 1.9-1.6 2.4-4.7 1.3 1.2 2-0.9 2.1-2.8 2.4 0.2 1.3-3.6 2.3-1.3 2.7-1.1 1.6-1.2 2-1.7 1.6 0.9" stroke="#000" stroke-width="1.3"/>
<path class="c" d="M395.2 1191.3l2.3 0.7 2.4-2.5 1.2-3.4 2.4-0.5 1.2 0.5 2.3-2.1 2.7 0.3 1.2-4.8 2.9 3.5 2.4-1.4 1.3-5.1 2.1 0.1 2.2-1.5 1.9-1 2.1 0.3 1.8-2.9 2.6-1.7 1.8 0.6 1.9-0.6 1.2-3.3 2.5-0.5 2.3-3.3 2.2 1.6 1.5 0.2 2.4-3.3 2.1-1.9 1.5-3.5 2.4 0.9 1.7-3.2 1.6 2.2 2.4 0.1 2.4-1.7 1.7-2.6 1.8-0.8 2.3-2.5 1.9-0.1 1.8-1.2 1.2-1.5 1.7-4.4 2.3 2.3 3.1-1 1.6-2.6 1.2 0.2 2.8-0.8 1.1-4.7 2.5 2.4 2.2-2.9 1.6-2 2.3 0.3 1.9-2.3 1.1-0.9 2.5-1.8 2.1-0.9 1.6-1.8 1.6-0.5 3-1.8 1.5-1.6 1.6 1.7 1.8-2.5 2.2-0.8 2.4 0.4 1.3-2.5 2.3-2.1 1.9-2.5 1.7 1 2-1.6 2-0.6 1.5-2.6 1.8-1.6 2.6-3.3 2.2 1.9 1.6-3.7 1.5 0 2.2-0.1 1.8-1.6 1.6-1.2 2.1-0.4 2.1-3.7 2.4 1.2 1.3 0.4 2.8-1.1 1.5-4.2 2.4 1.9 1.8-1.7 1.7-2.7 1.9-1.5 2 0.4 2 0.7 2-2.1 2.4-2.8 1.5 0.2 2.3 0.1 1.7-2.5 1.5-1.5 2.2 0 2-4.2 2 1.9 1.5-3.3 2.4 0.3 1.3-0.6 2.1-1.8 2.2-1.9 1.8-0.8 1.5 0.2 1.8-3.8 2.1-0.7 1.9 0.1 2.8-0.7 0.8-2.3 1.7-2 3.2 0.1 0.5-2.7 2.2 1.5 2.2-2.3 1.7-0.7 2-4.9 2.3-0.9 2.1-1.2 1.1-2.6 1.9-0.6 1.6 0.2 1.8-3.8 1.9-0.6 2 0.6 1.7-2.9 2.1-1.2 1.6-2 1.7-2.3 2.2-1.1 1.9-0.7 1.8-2.4 2-0.7 2.3-2 1.3-0.9 2.7 0.5 1.4-2.5 2.2-3.6 2.4 0 1.9 1.2 1.1-1.1 2.7-4.7 2.4 0.9 1.2-1.7 2.2-4.1 2.6 2.3 1.1 0.9 3.1-4.3 0.9-0.6 2.3 0.4 2-2.8 2.1-1.1 2.4-0.2 1.9-3.1 1.9 1.2 2.1-3.3 1.4 0.6 2.3-0.2 2.6-0.1 1.3-3.9 2.9 0.1 1.5-1.1 1.7-3.5 2.6 1 2.1-0.7 1.5-0.7 2.1 0.6 1.9-3.2 2.1-1.3 1.4-1.1" stroke="#000" stroke-width="1.3"/>
<path class="c" d="M395 1188.6l2.3-3.8 1.9 1.2 1.9-3.2 2.1 1.6 2.2-4.1 1.9 0 2.3-1 1.9-2.8 1.9 2.4 2.4-3.8 2.1-0.8 1.1-0.2 2.8 0.4 1.8-2.9 1.8 2.3 2.7-3.2 1.8-1.2 2.2-0.1 1.6-1.5 2.8-2 1.6-0.3 1.6-0.1 2.9 0.7 1.1-2.4 2.8-0.7 1.4-4.1 1.9 1.4 2-0.7 1.9 1.1 2-1.1 2.5-2.7 1.8-0.5 1.5-1.7 2.6-1.8 1.4-0.1 2.7-1.5 1.6-0.3 2.1-0.6 2.4-2.1 0.9 0.4 3.4-3.6 2.3 0.2 1.3-0.9 1.8-3.5 1.5 1.7 2.6-1 1.5 0 1.9-3.3 1.8-0.4 2.7-1.1 1.8-3.9 1.1 1 2.4-3.2 1.6 0.7 2.7-0.7 1.3-1.8 2.2-4 2.2 2.7 1.6-2.7 1.6-0.5 2.2-3.3 1.6-1 2.8 1.5 1.8-4.1 0.9-1.6 2.2-1.4 3 0.2 1.4-4.4 1.5-0.1 2.4-2.1 1.6 2.5 2.1-3.1 1.5-2.6 2.6-1.4 1.4-2 1.3-1.7 2.3-1.2 1.8 0.8 2.1-3.9 1.9-1.4 1.8-0.8 1.6-0.2 2.2-2.6 1.7-3.1 2.6 0 1-1.3 2.2-2.8 1.8-0.6 1.8 0 2.4-2.2 1.8 1.2 1.9-2.8 2.4-2.2 1.1-0.9 2.3-2.2 1.8-1 1.9 0.4 1.4-2.3 1.9-3.4 2.6-0.6 1.2 0.9 2.7-3.3 2-0.3 1.2 0.3 2.2-2.8 1.8-1.4 2.4-1.4 2 0.3 1.4-3.3 1.9-2 2 0.2 1.1 0.4 2.2-2.8 2.1 0 1.4-1.7 2.6-4.1 1 0.1 2.1-1.6 2-1.2 2 0.1 1.4-1.1 2-2 2.2-0.7 1.8-3.4 2.1 0.4 1.4-3.4 1.9-0.4 1.3-2.2 2.5 1.7 2.3-2.9 1.6 0.5 2.4-3.3 2.5 0.9 1.6-0.2 2.5-1.7 2-0.7 1.8-0.9 2.2-1.1 2.1-1.3 1.3-1.4 3.1 1.3 0.8-2.1 2.7-0.8 1.8-0.7 2-2.7 2.3-1.1 1.8-0.9 2.1 2.7 2-3.4 1.7 0.2 2.4-3.9 1.6 0.7 2.5-0.5 1.4-1.8 2.5 1 1.8-2.8 2.7-0.7 1.1 0.4 2.8-0.5 1.4-2.6 1.6-2 3.1-0.8 1.8 0.6 2.3-3.8 1.3-1 2.4-1.1 2.3 1.2 1.5-1.8 3-2.7" stroke="#000" stroke-width="1.3"/>
<path class="c" d="M395 1188.3l2.3-1.1 2-2.5 2.2-0.4 1.7-1.1 2.5-1 1.4 1.4 2.1-3.9 2.3-1.1 1.9-1.2 2 0.6 2.1-2.7 2-0.7 2.3 0 2.2-1.2 2.2-3.1 1.6 2.2 1.8-2.9 1.9-0.3 2-1.8 1.8 0.5 2.7-3.5 2.4-1.5 1.4 0.1 2.1 0 1.2-2.7 2.7-0.1 1.8-0.3 2.2-4.6 1.7 2.1 2-1.5 1.9-3 2.1-0.6 2.9-1.7 1.5 0.3 1.2-2.8 2.4 0.3 1.9-0.4 2.8-4.8 0.6 1.4 2.8-1.8 2-1.7 2.4-0.1 1.8-1.9 1.4-2.8 1.4-0.1 2.2-0.6 2-2 2.1-1.9 1.8 3.2 1.7-2.4 2.6-1.4 1.8-2.6 1.8-3.8 1.9 0.9 1.9-0.3 1.8-2.4 3.1-1.4 1-0.1 1.8 0.8 2.6-3.3 1.3-1.5 2.2-2.2 1.5 1.4 2.1-2.6 1.4-1.7 2.7-1.5 2.5-1.6 1.3-0.2 2 0.8 2.2-3.5 1.9-0.7 1.2-2.7 2 0 2-3.3 2.5 2.1 1.1-3.4 2.2 0.1 2-1.6 2.1 0.4 2-2.1 1.7-1 2.5-3.7 1.2-0.6 2.9-1.2 1.3-1 2.1-1 1.3 0.8 2.4-2.2 1.4-1.1 1.9-2.2 2.7-1.1 1.6-1.7 1.6 1.7 1.6-2.2 2.9-0.5 1.6-1.7 2.2-2.4 2-0.2 2-3.5 0.7 2.1 1.6-1.9 3.3-0.9 1-1.3 3-0.6 1.7-2.1 1.7-0.9 1.9-2 1.4-0.6 2.4-0.6 1.9-0.5 2.1-2.7 2.4-2.4 1-1.7 2.3 0.6 2.3-1.7 1 0.3 1.9 0 1.9-4 1.8 1.2 1.7-1.3 2.7-3.7 2.2-0.6 1.6 0.1 1.5-2.9 2-1.4 2.2 0.9 1.6-2.8 2.1-1.2 1.8 0.4 2.5-1.8 1.8-1 1.8 0.2 1.6-1.3 2.1-4.6 2.4 1.9 2.4-2.2 1.1-0.8 3.1-0.6 0.9 0 2-2.3 2.2-2.2 1.7-0.5 2.2-3.5 2 1.2 1.8-1.5 2-2.8 2.3-1.5 2.2-1.1 2.3-0.6 1.3 0.4 1.4-2 2.3-1.8 1.6-0.7 2.5 0.6 1.8-3 2.3-1.8 1.8 2.3 2.1-4.7 1.8 0.4 2.7-0.8 0.8-2 3-1.6 2.1 0.5 1.8-2.5 1.9-0.6 2-1.9 1.7 0.7 1.8-4.1 2.7-1.5" stroke="#000" stroke-width="1.3"/>
<path class="c" d="M395.4 1187.2l2.3 0.5 2-0.2 2.2-3.4 1.3-1.2 2.5 0.4 1.2-2.2 2.7-0.1 1.9-0.2 2.8-2.2 1.5-0.5 1.8-5 2 2.8 1.8-2.5 2.2-1.9 1.9-0.2 2.3-2.2 1.8-0.9 2.2-1.9 2.4 0.7 1.3-1.7 2.1-0.2 1.9 0.9 3.2-1.7 1.8-2.5 1.7 1.1 1.8-0.2 1.7-2 2.7-0.9 1.7-1.1 2.1-1.9 1.9 1.4 0.9-1.6 2.4-1.6 2.4-0.9 2.4-1.1 1.5 0.9 2.4-3.1 1.8-2.6 1.7 1.1 2.6-0.1 1.3-1.4 1.9-2.2 3.1-2.5 1.9 3.1 1.5-4.6 2.3 0.2 1.3-1.5 2.1-1.7 2.2-0.9 2-2 2-0.9 1.3-0.8 2.8-0.8 1.2 1.7 2.3-5.2 2.9 1.2 1.3-2.6 1.4-1.8 2.3-2.6 1.5 0.3 2-2.5 1.8 0.1 2.1-1.3 2-3.3 2.2 1.3 2.4-2.9 1.3-1.2 1.8-1.2 1.4-2.2 2.7 0.1 1.5-0.8 2.4-3.2 1.4-0.6 2.4-0.4 1.1-2.9 1.9-2.5 2 0.1 1.8-2.7 2.1-1.9 1.8-3 1.1 0.3 2.2-2.6 2-0.2 2.4-4.3 1.6-0.3 2.2 1.8 1.9-1 1.8-2.8 1.1-1.4 3.3-4.3 1.4 1.9 1.6-2.6 2.2-3 1.6 0 2.1-1.3 1.6 0.7 2.9-1.8 1.1 1.3 2.1-2.4 1.6-2.9 2.4-0.7 2.1-3.4 1.5 1.2 1.5-2.7 2.3-0.7 1.7-1.1 2.2-1.7 1.7-1.8 1.9 0 1.7-1.3 1.8-5.2 1.9 0.9 2.3-0.9 1.4-1.8 2.1-0.5 1.5-0.5 1.9-2 1.6-1.4 2.2 0.3 1.8-1.8 1.4-1.1 2.4 1.1 1.7-2.1 2.4-3.4 1.9 1.9 2.6-3.4 1.6 0.2 1.7-3.3 2.1 2.4 2-4.1 2 1.7 2.3 1 1.7-2.7 2.3-1.5 2.3-2.2 1.5-0.1 2.1 0.4 2.6-4.7 1.6 0.5 1.7 1.7 2.4-3 1.7 0.9 1.8-1.6 2.5-2.8 1.4-0.2 2.1 0.7 2.1-3.1 2.4-0.7 1.9-0.4 1.5-2.5 2.2-0.8 1.9-0.2 2.4-2 1.8-0.9 1.6-0.4 2.5 0.2 1.2-3.4 2.4-1.9 1.4 3 3-3.5 1.6-4.7 2.3 0.5 2.7-2.7 1.1 1.6 2-3.5 1.8-0.5 2.2 1.3 1.8-4 2.4-0.5" stroke="#000" stroke-width="1.3"/>
<path class="c" d="M395.5 1192.8l2.1-1.7 1.3-0.9 2.2-1.9 2.4 0.1 2.1-4 1.6 1.8 2.6-2.8 2.2-1.1 1.7-2.3 2.1-1.9 1.6 0 2.8 0.1 2.3-1.8 2.3-0.7 1.1-2.5 2.6-0.9 1.2-1.7 2.3-2.4 1.9-0.2 1.5-1.8 2.2 0.1 2.2-2.5 2-1.1 1.9-0.6 2.1-0.7 2.3-2.3 2.1-1.1 0.8-0.8 2.6-0.2 2.1-3.4 1.2-1.3 2.9 3.4 2.3-4.7 1.1-0.8 1.6-3.7 2.6 0.7 2.6-0.9 2.4-1.7 1.2-1 1.8-0.9 1.7-0.6 2.5-0.5 1.4-3.7 2.3-1.3 2.2 0.9 1.7-1.4 1.6-2.1 2.4-1.6 2.3-0.2 2 0 1-0.2 2.7-0.5 2-1.2 1.7-2.9 1.7 2.3 2.1-2.2 2-1.8 3-0.9 1.3 0.3 1.8-2.5 2.2-0.8 2.4-0.4 1.4 0.5 2.3-4.2 1.9 1.8 1.6-4.5 2.7 0.3 1.5 0.2 2.2-0.2 2.1-3.7 1.3 1.5 1.8-0.9 2-3.1 2.9-1 1.1-1.2 1.8-3.2 2.5 3.6 1.1-3.5 2.8-3.5 1 0.7 2.2-1.5 1.8-2.2 2-1 2.1-0.6 1.8-3.1 1.2-2 1.9 1.6 2.2-3.1 2.2-2.4 1.5 0.7 1.8-5.9 1.4-0.3 2.7 0.4 1.8-2.1 1.4-1.5 2.1-2.6 2.5-1.7 1.1-1.5 1.8-1.4 2.4-0.4 1-1.2 2.3-2.1 1.9-0.6 1.7-5.2 1.9 0.3 1.9-2.3 2.1 1.9 1.7-3.6 2.2-0.4 1.9-1.8 1.6-2.5 1.7-1.5 1.2 0.3 3-1.1 1.6-2.7 1.8 1.2 2.2-3.3 1.2-0.4 1.9-1.9 2.3-0.7 0.5-4.1 3.3 2.1 1.7-2 1.4-1.3 2.1-0.7 2.6-1.9 1.3-3.4 2.6 0.1 1.8-1.5 1.9-0.1 2 0.4 2.1 0.2 1.9-4.1 2.3-0.5 2.2 0.6 1.1-0.2 3.2-1.1 2.4-1.8 0.7 0.3 3-0.8 1.6-2.1 2.3 1.5 1.7-4 1.7 0.8 2.6-0.9 1.8-0.4 2.1-0.3 1.5-2.6 2.3-0.5 2.4-0.2 1.1 0.2 2.7-3.7 1.3 0.5 2.8-1.6 2.5-2.4 0.7 0.5 2.4-2.8 2.3-0.1 1.4-1 2.7 1.1 1.7-4.7 1.8 0.6 2.5-1.7 1.7-1.7 2.8-1.6 1.5 0.8 1.7-3.7 2 0.3 1.5-2.4" stroke="#000" stroke-width="1.3"/>
<path class="c" d="M395 1192.8l2.5-3.7 2.7 1.1 1.3 1.1 2-4.9 1.4 1.3 2.5-2.4 2.3 1.4 2.8-3.5 0.9-1.3 3.3 1.5 1.2-1.7 2-3.1 2.3-3.1 1.4-0.8 2.6 1.2 2.4-1.2 0.8-3.5 2.4 1.9 1.8-2.1 2.5-2.5 2-0.9 2.6-0.9 1-2.2 2.8 0.2 1.4-2.3 2.3-1.3 1.7-0.1 2.3-1.8 1.4-3.6 2.6 0.4 1.9-2.6 1.1 0.1 2.4-1 2.2-3.5 1.4 1.4 2-0.3 2.1-3 2.3-3.1 2 0 1.5-0.7 2.4-1 1.1-1.1 3.4-2.7 1.1-0.9 2.6 0.2 1.3 1.4 2-4.3 2.2-1.6 1.9-0.4 1.3 0 2.3-3.1 2-4.3 1.9 1.1 1.9-1.4 1.9-1.6 2-1.7 2.2-0.7 1.7 2.8 1.9-3.3 1.8-1.8 2.6-3 1.4-0.1 2.6-0.1 1.3-1.7 1.7-1.1 2.2 1.1 2-1.3 1.9-2.1 2.1-3.5 1.9 1 2.4-2.5 1.3-0.5 1.9-0.4 1.9-0.4 2.8-0.2 1.4-5 2.1 2.6 2.3-2.5 1.6-0.4 1.4-2.1 2.5 1.9 2.2-2.9 2.3 0 1.7-3 1.5 1.1 1.9-2 1.9-2.3 1.8-0.3 2.6-1.5 1.3-1.3 1.9 1.4 1.7-2.3 1.8-1.9 2.4-2.5 2.2 1.9 1.4-2.4 2.1-1.5 1.7-1.7 2 1.6 2-1.6 2.5-3 2.4-1.4 1.5-1.1 1.6-1 1.6-1.1 2.5-2.9 1.2-0.5 1.8-0.5 2.7-0.1 1-2 2.7-1.9 1.5-2.5 2.2 0 1-1 2.6-1.3 1.8-1 1.9-3.4 1.2-1.8 2.1 0.4 1.5-3.3 2.9-0.3 1.3-2.1 1.8-3.4 2.2 0.3 1.4-1.8 2.1-1.7 1.7-1.6 2.2-2.5 0.9-0.6 3.1-1.4 1.5 0.3 1.6-2.9 2.7-0.9 2.2 0.3 1-5.6 2.2 2.1 2-2.4 2.1-2 1.2-2.4 2.5 1.4 1.8-2.2 2.3-2.1 1.6-2.1 2.1 1.2 2-0.7 2-4.1 2.2-0.3 2-0.6 1.5-0.5 2.3-2.6 2.1 1.8 2.3-3.5 2.3-1.5 1.4-1.6 2.3-1.5 2.4 1.1 1.8-1.8 1.6-2.1 2-1.3 1.8 1.2 3-0.9 1.6-1.6 1.7-1.6 2.1-2 2.6 0.8 1.9-0.7 2-2.3 2-1.6 1.5 1.2" stroke="#000" stroke-width="1.3"/>
<path class="c" d="M395.1 1195.5l2.3-4.2 2.3 1.4 1.2-4.6 2.6 1.3 2.8-0.5 1.5-4.3 1.6 1 2.3 0.1 1.5 1.1 2.6-4.2 2 0.4 2.1-2.7 2.1 0.8 2 0.7 2.4-2.1 1.8-4.6 1.8-0.7 2.2-1.5 1.4 0.1 2.6-2.2 2.8 3 1.8-3.3 1.8 1.3 1.5-3.9 2.3-1 2.8-1.5 1.2-0.7 2-1.1 2.4-1.4 2.1-2.4 1.7-1.9 2.3 0.2 1.1-0.4 2.8-1.7 1.3-3.4 2.3 1.1 1.1-3 2.7-3 1.7 0.7 2.2-3.1 1.4 1.8 1.7-2.6 2.4-2.7 2.3-1 1.6-0.8 1.8-2 1.9-1.8 2.6 1.9 1.4-4.2 1.5-1.6 2.9-3.1 1.4 1.6 2.1-1.5 1.2-1.1 2.4-3.3 2.2 1.5 2-4.4 1.8-1.4 2.2-0.3 1.5-1.4 1.7-0.3 1.5 0.9 3-4.1 1.6 0.2 2.6-2.1 1.7-2.9 1-2.5 2.5 0.4 1.9-2.5 2-0.8 1.2 0 2.1-2.1 2 0.4 2.4-4.7 1.6-0.3 1.5 3.3 1.9-3.3 2.2-1.9 1.5-0.8 2.1-3.6 2.2-0.9 2.4 1.3 1.6-4.7 1.9 2 1.5-4.4 2 3.1 1.6-2.1 2.7-1.9 1.8-0.4 1.8-1.2 2.9-2.5 1.1-1.6 2.4 0.3 1.6-0.2 2-2.8 1.4 0.3 2.4 1.1 2.2-3.5 0.8-1 3.3-2.8 1.1 2.7 2.2-3 1.8-1.3 2.5-2 1.8 1.7 1.5-2.3 1.9-0.7 2.3-1.8 1.6-2.1 1.8 0.6 2-0.9 2.5-2.5 1-1.2 2-0.3 2.5-1.5 1.5 1.2 1.7-0.3 2.6-4.2 1.5-1.5 1.8 0.9 1.8-1.9 2.9-1.5 1.3-1.4 2.6-0.1 1.6-1.8 1.4-1.2 2.7-0.7 1.4-5.1 2.2 2.1 1.2-1.3 1.9-1.6 2.3-1.8 1.8-2.5 2.6-1.8 1.7 0.9 1.4-2.8 2.4 2.3 1-2.3 2.7-2.2 2.1 0.2 1.4-2.2 1.9-2 2.5 0.8 1.7-2.7 2.7-1.5 1-0.8 2.5-1.4 2.4-1.1 1.8-2.6 1.7-1.1 1.6-0.3 2.1-1.8 2.3-1 1.7-3.4 2.1-0.2 1.7-1.7 2-0.4 2.8-0.7 1.7-2.5 0.9-0.7 2.9-1.3 2.2-0.8 1.3-1.8 2-1.6 2.2-1.5 2.1-1 2 0.6 1.8-1 3.1-2.6" stroke="#000" stroke-width="1.3"/>
<path class="c" d="M395.1 1194l2.5-0.6 1.3-2.2 2.8-2.4 1.3 1.4 3-1.4 1.7-1.7 1.8-0.8 2.3-1.2 2.7-0.4 1-1.1 2.1-2.3 2.8 0 2-1.9 1.6-1.7 2.4 0.3 1.8 0 2.2-1.8 1.8-1 2.2 0 2-2.1 1.7-1.7 2.2-1.4 2.2 0.6 1.9-3.3 1.5-1.2 2.5 0.1 2.7-1 1.5-3.5 1.9 0.7 1.7-2.1 1.5-1 2.4-1.8 1.7-1 2.4 0.2 1.3-2.2 2.5-2.7 1.7-1 2.3-2.1 1.7-2.3 2.3 0 1 0.3 2.5-1.6 2.2-3.1 2.3 2.2 1.4-2.8 1.8-3.2 2-0.6 2.2-1.3 1.8-1.8 1.5 0.6 2.1-1.1 1.8-3.3 2.2-0.8 2-1.5 2.3-2.1 1.6-2.3 1.5-1.6 2.2 0.4 1.7-1.5 2.1-1.5 1.9-1.3 2.1-1.2 1.7-2 2.2-2.9 2.2-1.6 1.9 2 2.1-2.4 1.2-2.9 1.8-0.7 2 0.1 2.2-0.2 1.6-1.6 2.1-2.1 1.5-1.3 2.2-2.9 2.5 0.2 1-2.1 2.2-0.5 2.1-3.1 2.2 1.1 1.5-2.3 2.5 0.3 2-3.8 2 1.2 1.6-1.7 1.7-2.1 1.6-0.1 2.3-2.4 2 1.1 1.1-4.4 2.7 3.5 2-5 2-1.8 2.5-1.6 1.2 1.5 2-2 2.1-1.9 1.6-1.1 2-1.6 1.3 1.1 2.2-1.2 2.1-1.1 1.5-3.2 2.8 1 1.8-2.2 2-0.4 1.7-2 1 0.4 3.1-0.3 1.6-2.5 2.6-0.6 1.5-1.5 1.2-2.2 1.7 0.3 2.5-2.3 2 0 2-0.5 2.5-0.2 1.9-3.6 1.6 0.9 1.8-0.2 1.7-2.7 2.3-1 1-0.7 2.9-1.1 1.6-1.9 2.6-0.2 0.7-4.8 2.9 0.5 1.8 0.2 1.8 0.2 2.5-3.6 1.1-1.2 1.8-0.6 2.2 0.5 2.5-2.9 2 0.7 1.2 0.2 2.5-2.8 2.8 0.1 0.7-1.7 2-0.3 2.1-3.6 2.3-1.5 1.4 0.8 2.5-0.3 1.9-3.7 2 0.2 1.1-3.1 2.6-0.5 1.8-2.8 2.4 0.2 0.6-1.8 3.5 1.3 1.9-2.7 1.1 0.1 2.6-0.5 1.4-5.2 1.9 2.7 2.8-3.1 2.1-1 1.6-2.2 2.5-2.7 1.3-0.5 2.6-0.4 1.7-2.6 2.4 0.5 1.9-0.5 1.6-3.1" stroke="#000" stroke-width="1.3"/>
<path class="c" d="M395.4 1188l2.6-1.1 1.1 0.2 2.8-2.5 1.3-2.4 2.4 0.5 1.6-0.4 2.5-0.2 1.4-0.3 3.1-4.7 1.7-0.1 1.5-0.5 2.2 0.2 1.7-2.2 2.8-1.5 1.6-0.5 2.5-2.1 1.1-0.3 2.9 0.2 1.7-1.5 2.7-2.4 1.5-1.5 2.2 2.6 2.2-0.9 1.9-2.6 1.4-1.1 2.5 0.2 2-0.9 1.9-0.4 1.3-0.5 2.6-2.6 1.8-3.7 2.5 2.2 1.5-2.1 2.1-2.6 2.1 1.8 2 0.1 1.9-3.5 1.5 0.2 2-0.5 2.7-1.7 1.9-0.7 1.7-2.1 2.7-0.9 1.1-0.9 2.7-0.4 1.1-1.4 2.1-2.3 2.4-0.7 2 0.1 2.4-1.2 1.3-1.6 1.8-0.2 2.7-2 2 1.4 1.1-3.1 1.5 2.2 2.2-3.7 3.1-3.1 0.9 1.3 2.8-2.6 1.8-1.2 1.8-0.8 2.6 1 1.3-3.1 3.1-2.4 1.3-1.9 1.7-0.3 1.3-0.6 2.1-1.6 2.3-0.6 1.5-1.9 1.8-0.7 2.1-4.1 2.1 3.4 2-4.9 1.7 0.1 2.1-1.4 1.6-1 2.6-0.8 1.4-2.1 1.8-0.2 1.6-4.4 1.8 2 1.9-3.3 2.1 0.4 1.1-2.5 2.3-0.9 2.2-1.5 1.9-0.3 1.6-4.7 2.4-0.1 2.4-0.5 1.1-2.5 2.5 1 1.2-4.7 2.2 1.6 2.4-4.1 1.8-3.1 1.6 1.9 1.8-4.7 2.7 0.6 0.3 0 3.1-1.6 1.1-2 1.5-2.8 3-1 1.1-3.2 2.3-0.6 1.4-1.8 2.4-1.5 1.6 0.5 2.3-3.2 1.1-1.8 1.8-1.7 1.4 0.7 2.9-3.1 1.6-1 1.6-1.6 1.7-1.9 2.2-0.4 1.7-1.7 1.9-2.9 1.7-1.2 2.8-1.7 1.1-0.4 1.8 1.1 1.5-4 2.9 0.2 1.8-3.7 1.9 0.3 2.1-0.4 2.1-2.1 1.3-1 1.8 0.4 1.9-4.5 3.1 1.1 1.4-0.2 2.6-1 1.6-3.2 1.5-1.6 3.4 0.2 1.1-1.8 2.1-1.1 1.7-1.2 2.3-2.2 1.5 2.5 1.7-0.8 2.4-0.8 2.3-2.3 2.1-2.1 1.6-1 2.1 0.4 2.5-1.7 1.3 0.9 2.1-2.9 2.7-0.4 1.6 0.7 2.2-3.4 2.1-1.8 1.6-0.5 2.3 1.6 2.3-1.5 1.8-3.2 2.1 1.1 1.8-1.9 1.6 1.1 2.3-2.5 2.3-1.1 1.8-1" stroke="#000" stroke-width="1.3"/>
<path class="c" d="M395.6 1190.9l2.2-1.9 1.4-0.1 1.9-2.2 1.8-0.3 2.7 1.4 2.6-3.6 1.5-0.9 2.5-3.1 1.1-1.3 2.3 0.6 2.1-3.2 1.8-1.2 2.2 0.3 2.2-2.2 1.9 0.1 2.3-2.9 1.9 0.9 2-4.8 1.5 0.5 2.3-1.6 2 0.7 2.5-3 1.6 1.9 1.9-3.3 1.9 1.3 2.6-2.1 1.6 0.4 1.8-0.8 1.9-2.9 2 0 2.8-0.2 1.2-1.5 2.8 0.4 2.3-0.8 1.3-2.6 2.4-2.6 2.3 1.2 1 0.8 2.3-2.8 3-1 1.2-0.8 2.1 0.2 2.2 0.1 1.4-4.7 2.1 2.1 2-2.4 2.9-2 1.3 1.8 1.3-2.4 2.9-1.4 1.5-0.5 2.1-2.1 1.9 0.7 1.7-2.6 2.6 1.8 1.1-2.8 2.6-2.4 2-1 1.9-2.3 1.8 0.4 2.2-1.3 1.9-4.3 1.7 0.9 2.2-0.9 1.2-1.3 2.5-3 1.9-1.8 1.1-0.9 2.2-0.7 2.2-2 1-1.8 2.3-2.2 2.1-2.3 2-2.4 2.2 0.5 1.6-2.6 1-0.8 1.9 1.1 1.9-6.2 2.3 1.6 1.9-4.1 1.6-0.8 1.9-1.8 2.3-0.7 2.1-0.8 2-1.6 1.2 0.3 2.4-3.9 1.1 0.4 2.3-2.8 2.2-1.8 1.7-0.2 1.7-2.9 2.1 2 2-0.9 2.1-3.1 2.1-2.2 1.4 1.3 2-1.6 2.4-0.3 1.6-2.6 1.9 0.3 2.1-0.5 2.1 0.8 1.4-4.2 2.5 1 1.3-2.4 2-0.2 2.4 0.9 2.1-4.5 1.7-0.9 2.2 0.6 2-1.2 2.1 1.7 2.5-4.3 1.1 2.4 1.9-3.4 1.8 0.1 2.5-2.8 1.3-2.2 2 0.4 1.2 0.2 2.9-2.9 1.6-1.7 2.1 0.9 2.5-5.7 1.5 1.8 1.7-0.6 1.5-3.1 2.7-0.7 1.2 0 2-2.4 1.9-3.2 1.7 0.2 1.6-3.1 2.5 1 2-1.3 1.9-2 2.1-1.1 2.1-2.5 1.7-3.6 1.7-0.5 2-0.6 1.9-0.3 2.3-2.7 2 0.1 1.8-4.3 1.4 0.8 2.8-5.5 1.5 2.1 1.8-3.1 2.5 0.5 2.1-2.4 1.8-1.7 1.7-0.1 1.9-0.4 2.4-1.9 1.8 0.6 1.8-4 2.4-0.5 2.1-2 1.9 0.1 1.8-0.2 2.3-0.3 1.8-2.7 2.2-2.8 2.5 0.3 1.4-0.1 2-0.8" stroke="#000" stroke-width="1.3"/>
<path class="c" d="M395 1189.1l2.1 1.8 2.5-2.5 1.9 0.2 1-2.2 3.3 2.9 2.1-4.4 1.9 0.5 1.7-1.3 2.5 2 1.1-2.9 3.5-2.3 1.3-0.1 2-1.4 2.4-0.9 2.6 0.1 1.1-2.4 2.4 1.6 1.7-3.9 2.1 1.3 2.5-0.2 2.4-1.3 1.4 0.6 1.9-2.9 2.1-0.1 2.1-2.9 1.8 1.7 2-6.1 1.7 2 2.2-2.4 2.1 0.7 2.9-3.4 0.9-0.2 2.8-0.7 1.3-2.8 1.9-0.2 2.3-0.8 2.2-2.4 1.3-1.7 1.9-0.8 2.3 0.8 1.9-4.5 1.8 0.5 2-4.9 1.9-0.2 1.7-0.2 2.4-0.6 2.4-2.8 1.7-0.8 1.4-3.5 2.2-0.9 1.8 0.5 1.7-2.2 1.9-1.7 2-3.1 2.6 2.2 1.6-1.7 1.4-3.3 2.1-0.6 2-3.4 1.6 0.8 2.2-2.1 1.5-1.9 2.4-3.3 2.1 0.1 1.5-2.1 2.2 1.5 1.9-3 1.9 1.3 2.1-2.5 1.2-2.6 2.4 1.2 2.1-1.2 1.1-2.3 2.9-3.6 1.6 1.9 2.4-0.9 1.6-1.4 2.1-2.7 2-1.6 1.7-1.3 2.2-1.2 1.6 0 1.4 1.3 2.4-0.7 2.1-2.8 2.3-1.3 1.5 0.7 2.1-1.5 2.1-0.4 2.1-2.1 1-1.3 2.6 1.1 1.6-3.5 2.6 1 2.1-2.8 1.8 0.2 1.4-1.5 2.1-0.7 2.6-1.6 1.6 1.4 1.6-2.8 2.4-1.5 1.8-0.9 1.5 1.1 2.4-3.5 1.5-1.7 2.3-1.6 1.8 0.5 2-2 1-1.2 2.8-0.4 1.7 0.5 2.6-3 1.4-0.8 1.9-3.2 1.3 0.2 1.8-1.5 2.3-1.8 2.3-1.3 1.2-3.6 2.6 1.3 1.7-3.3 1.3-2.3 2.6-0.4 1-1.4 2.3-2.1 1.4-0.8 2.2-1.4 2.1-2.8 1.3-1.8 2.4-1.2 1.3-1.5 2.1-1.7 2.3 0.5 1.8-0.5 2-5.7 1.2 0.6 3-2.7 1-1.7 1.7-0.1 2.5-1.2 1.9-3.1 2.6 0.4 1.5-1.4 1.7-2.9 1.8 0.7 2.7-1.9 1.7-2.1 1.9-1.3 1.5 0 2.9-1.8 1.6 1.5 2.3-3.3 1.9-1.8 1.7 0.9 1.7-3 2.7-0.5 2.1-1.3 1.4-0.3 2.2-1.4 2.7 1.8 1.5-3.7 2.3-0.4 1.4-0.3 2.2 0.5 2.1-3.7 2.2-1.2 1.6 1.3 2.4-2.8" stroke="#000" stroke-width="1.3"/>
<path class="c" d="M395.1 1192.8l2.6-2.4 1-1.8 2.4-3.6 2.2 2.6 2.2 0.5 2.1-1.1 2.4-3.4 1.9-2.4 2.2 0.6 1.8-4.5 1.2 0.6 3.4 0.1 1.6-1.4 1.6-1.2 1.9-3.3 2.5-1.7 1.8 1.4 2.4-0.4 2.2-2.6 1.6-2.1 2.4 0.6 2.1-0.1 1.5-2.6 2.1-2.2 1.8 2.1 1.8-2.2 2-2.6 1.6-0.9 2.4-2 1.9 1.5 2.4-3.6 2.1-1.7 1.6 0.2 1.7 1.5 2.3-7.4 1.8 1 2 1.5 2.6-1.7 1.9-1.3 1.6-1.2 2.2-1.6 1.6-0.2 1.7-1.1 2-1.9 2.1-2.1 1.9-0.5 2.5-2.1 1.9 1.4 1.7-1.6 2.2-0.1 1.8-0.4 2.2-2.8 2.4-0.1 0.8-2.1 2.8 0.1 1.6-3.3 1.8 0.6 2-1.6 2.9 0 1.1-1.4 2.7-2.5 1.5 2.1 1.6-2.7 2.4-2.1 2.4 0.8 1.9-2.7 1.3-1.5 2.3 1.6 1.9-1.7 1.8-2.9 2.1 0.1 2 0.3 1.6-2.2 2.5-0.7 1.2-1.7 2.3-0.2 2.4-0.2 1.3-2.3 1.9-2.1 2.2-1.3 1.6-0.3 1.5-1.8 2.2-0.3 1.9-1.2 1.8-1.2 1.6-1.4 3-0.4 1.5-1 1.6-6.2 2.1 0.5 1.9 0.9 1.9-0.6 2.4-1 2-3.4 1.2-0.6 1.9-1.8 2.1 1.4 1.7-2.6 3.7-3.5 0.6 0.8 2-1.7 2.2 0.4 1.3-3 1.7-1.4 2.9-1.1 1.1 0.3 2.5-3.7 1.4-0.8 3-1.7 1.3-0.8 1.6 0.1 1.4-2.1 2-0.2 1.4-2.7 2.4-2.2 1.5 0.5 2.7-3.5 1.7 0.6 1.7-2.9 2.9-3.3 0.8 1.4 2.2-2.8 1.7-0.9 1.5-1.6 1.7-2.3 2.8-2.4 0.9 0.9 2.4-3.3 1.6-1.4 2.3-2.8 2.3 0.9 0.9-1.3 2.4-5.1 2.2-1.1 1.2-0.1 1.8-0.5 2.3-0.9 1.9-2 2.3 0.8 1.2-1.7 2.6-3.8 1.2 0.7 2.7-1.9 1.8-1.6 1.2-2.1 3.1 0.3 1.5-2.3 2.7-3.2 1.7 2 1.3-2 1.9-1 2.4-2.9 1.7-0.7 3.3-1 1.5 0.5 1.6-1.2 2.2-2.2 1.7 2.8 2.3-5.3 1.3-2.5 2.5 2.2 2.3-3.7 1.3-0.8 2.6 0.7 1.7-3.6 2.8 0.2 1.8-0.4 1.2-0.6 1.9-0.5" stroke="#000" stroke-width="1.3"/>
<path class="c" d="M395.5 1193.5l1.5 0.4 2.4-2.1 1.9 1.2 2.7-0.5 1.7-2.1 2.8-1.6 1.6-0.4 2.3-1.4 1.6-1.5 2.6-0.8 1-0.5 2.1-0.3 2.7-1.6 1.8-2.6 2.4-2.4 1.7-0.3 2.2-0.8 1.4 0.4 2.8-2.6 1.9-3 2.1 1.9 1.7-1.4 2-2.6 1.8-3 1.8-0.4 2.5-0.7 2.2-1.4 1.5-2.6 1.6-1.3 1.5 1.2 2.3-5.2 2.5 2.4 2.2-4.4 2 1.3 1.4-2.3 2.3-1.3 2.4-1.8 1.7 0.5 2-2.7 1.8-1.8 1.5-2.8 2.4 0.9 2.4-1.3 1.5-2 1.3-1.9 2.1 0.2 2.5-0.8 2.2-1.7 2 1.1 1.2-2.1 2.7-3.3 1.5-0.3 2.3 2.5 1.7-2.8 2.6-0.6 1.1-2.3 2.4-0.3 2.1-1.1 1.7-1.9 2.2-1.2 2.4 0.5 1.6-0.6 2.4-1.7 1.4 0.1 1.8-1.6 1.8 2.7 2.8-4.8 1.6 3.3 2.4-3.9 1.6-0.6 2-1.6 2.2-0.5 1.9-0.6 1.5-2 2.4-1.3 1.5-0.8 2-1.2 3-0.4 1.3-0.4 1.3-4.4 1.7-0.2 1.5-1.9 2-2 2.3-1.6 1.8-1.8 1.7-1.1 2.1-1.4 1.8 1.2 2.2-1 1.3-3.8 2.2 0.2 1.2-5.8 2.5 2.2 2-4.3 1.3-0.5 2.1-2.7 2.2-0.5 1.4-0.8 2.5-3.2 2-0.3 1-0.8 2.7-1.7 1.6-2.1 1.4-1.8 2.7-2.2 1.3-1.5 2.1-2.1 1.5-2.5 1.7-0.6 1.5-1.5 2.2 1.1 2.8-3 0.9-0.5 1.9-3.4 1.8-0.8 2.4-0.8 1.4-1.4 2-0.2 1.9-3.4 2 1.2 2.1-1 1.5-2 1.7-1.6 2.7 0.3 2.2-1.1 1.9-2.5 1.7 1.7 1.5-3.3 3.1 0.2 1.4 1.3 1.8-2.4 2.5-2.4 2.7 2.4 0.8-4.6 2.5 1.9 2-1.8 1.9 1.6 2.6-1.8 1.3-1 1.5-2.1 2.5-0.2 2.1-2.9 2.5-0.8 1.7 0.7 2.1-0.6 2.2-3.8 1 0.4 2.6-0.8 2.2 0.3 1.5-2.7 1.8-1.3 1.9-0.4 2.3-1.3 1.2-2.5 2.8-0.3 1.2-0.8 2.6-1.5 1.7-2.5 2.4-2.6 1-0.7 2 0.4 2.8-2.7 1.7-0.2 1.7-2.3 2.2-0.9 2.6-4 1.3-0.8 2.1-2.4 2.1 0.1" stroke="#000" stroke-width="1.3"/>
<path class="c" d="M395.1 1193.2l2.5-4.5 2.1 0.4 1.6 0.8 2.3-2.2 2.2-2.1 1.6-0.1 2.6-1.4 1.6-1.6 1.8-1.4 2 0.3 2.7-2.1 1.6-3.6 2.6 1.8 0.9-1.7 2.6-1.1 2.2-0.5 2-2 1.7-0.3 1.8-0.7 3-2.7 2-0.7 2-0.3 1.2-1 2.4-1.7 1.7-1.1 2.1-1.3 2.3-2.5 1.9 0.5 1.5-1 2.8-1.7 1.3-0.9 2.4-1.1 2 0.2 1.7-4.3 2.5 0.7 1.3-2.2 1.6 1.6 2.7-3.1 1.3-2.1 3 0.3 1.8-2.9 1.5-0.5 1.8-1.9 2.3 1.1 2.2-2.2 1.6-1.5 2.2-1.6 2-2.4 2 0.4 2.1-1.5 1.5-3 1.6 2.5 2.2-3.5 2-1.3 2.3 1.2 1.6-2 1.5-2.1 2.9 0.5 1.5-1.2 2-2.7 1.9-0.2 2.2-1.6 0.7-0.4 2.8 0.5 2.4-3.8 2-0.8 1.5-0.9 2-1.9 1.7 0.7 2 0 2.1-2.7 1.5-3 2.9-0.3 1.3 0.8 1.6-2.2 2-1.7 2.9-2.3 1.6 1.6 1.5-1.2 2.1-1.6 2.1-2.4 2 0.2 1.9-2.2 1.8-1.9 1.9 0.7 1.8 0 2.4-2.1 1.2-3.8 2.4 3.5 1.4-3.6 2.4 0 2.1-3.6 1.7 1.2 1.9-2.5 1.8-1.6 2.6-2 1.9 0.1 1.6 0.2 2-1.9 2 1.7 2.2-3.7 2.1-0.9 2 0.3 1.6-2.8 1.8-0.8 1.9-0.9 1.9-0.8 2.6-1.2 0.5-0.9 3-3.8 1.8 0 1.2 0.4 2.6-2.1 1.8-1.7 2.3-2.1 1.4 2 2-3.8 2 0 1.4-3.7 2.8-0.5 1.6-2.6 1.6 0.8 2.1 0.8 2.2-2.4 1.9-2.2 1.4-2.6 1.9 0.2 2.4-0.7 1.2-0.1 2.2-3 2.3-2 2 0.9 1.1-2 2.1-2 2.1 0.4 2-1.6 1.7-0.4 2.2-4.2 2.3-1.3 0.9 1.2 2.8-2.4 1.4-3.7 2.3 1.1 1.5-0.8 1.7-1.2 2.6-3 1.5-2.7 2.3-0.1 2.2-0.1 2-1 1-2.5 2.5-0.3 1.8-0.4 2.6-4.1 1.5 0.3 2.1-2.9 1.4 2.2 2.5-2.8 1.7-1.8 2.6-2 1.6-1 1.8 0.2 2.1-1.1 2.2-5.4 2.1 2.1 1.5 0.9 2.4-4.7 2-2.8 1.5-0.9" stroke="#000" stroke-width="1.3"/>
<path class="c" d="M395.1 1189.9l2.8-0.3 1.7-0.1 2.2-4.2 1.6 0.7 1.9 0.6 2.7-2.1 1.5-2.7 2-1 2-0.1 2.8 0.5 1.2-3.1 3 0.6 1.4-3.3 1.8-0.3 2.5-1 2.1 0.3 1.5-1.5 2.3 0.4 2.1-2.5 1.9-1.2 1.5-0.1 3-2.4 1.4-0.5 2.6-0.8 1.5-0.3 1.9-1.9 2.3-1.8 2-0.8 2.1-0.1 1.8 1.8 1.8-1.6 2.7-1.1 1.2-1 2.7-0.7 2.1-3.5 1.5 1.8 2.2-1.8 1.8-0.8 2.4-0.5 2.1-0.5 1.7-1.5 2.2-2.7 1.6-0.1 1.6 0.1 2.5-1.7 1.9 0.7 2.3-2.2 2.6 1.2 0.5-4.8 2.5 0.2 1.7 0.6 2.3-2.6 1.8-1.8 2.1-1.8 1.9-2.6 2.1 1.6 2.3-2.5 2 0 1.8-2 1.8-0.8 1.5-2.1 2.5-0.9 1.5-0.9 2.3-3.4 1.8-3.5 2 1.3 1.5-0.3 1.8-3.2 1.9-1.3 1.9 0.7 2.1-4.5 2.1 0 1.4-2 2.4-2.4 1.6-2 2.1-0.5 1.4-3.4 2.2-0.9 1.5-0.2 2.1-2.1 1.7-2.1 1.9-0.2 1.7-1.8 2.1-2.9 2.4-0.4 1.6-0.6 2.1-0.2 1.7-4.4 1.9-1.4 1.8 0.1 2.3-1.4 0.9 0.4 2.3-4.3 2.6 0.9 0.9-1 2.2-0.7 2.5-1.6 2-0.5 1.4-2 2.5-1.3 1.2-0.1 2.4-2.8 1.4 1.1 2.6-2.8 1.9-0.7 1.5-3.1 2.1 1.4 2.1 0.6 2.2-2.5 1.6-0.3 1.5-4.3 2.6 1.5 1.4-0.6 2.1-2.9 2.5-0.1 1.1 1.3 3-2.1 1.2-1.8 1.4-0.1 2.9-1.8 1.2 0.8 2.2-1.2 2.4-2.2 1-3.2 2.8 0.3 1.5 0.1 2.5-1.1 1.2-1.7 2.2 0.9 2.4-3.1 1.4 0.3 2.2-3.3 1.8-2.6 2.1 1.9 1.5-2.7 2.5 1.2 2-1.8 1.2-3.5 2.6-1.3 2.2-1.8 1.5 0.1 1.5-4.2 2 1.7 2.1-2.3 1.8-1.1 2.1-0.4 1.8-3.4 2.5-1.6 1.7-1.7 1.4 0.5 2.9-4.3 1.3 0.7 1.7-0.7 2.6-2.8 1.2-1.8 2.3 0.9 3.1-3.6 0.8-0.8 2.3-2.8 1.8 1.6 2.2-2.7 1.6-0.9 1.8-3.2 2.6 0.3 1.6-1.5 2.7-1.5 1.4-1.9 1.9 0.8 1.8-4.5" stroke="#000" stroke-width="1.3"/>
<path class="c" d="M395.2 1191.2l2-0.2 2.5-3.7 2 2.2 1.8-3.2 1.5-1.5 2.4 0.2 2.3-1.4 1.9-2.3 2.2 0.3 1.9-2.7 1.7 1.2 3.3-2.1 0.7-0.9 2.7-1.6 2.1 0.4 1.4-2.2 2.1-2 2.5-1.5 2 3.9 2.2-4 1.9-0.4 2-1.3 1.6-0.3 3.2-2.4 1.8-0.1 1.8 0.7 1.6-3 1.6 2.1 2.2-1.9 2.5-0.5 1.8-1.6 2.7 1 1-1.9 2.7-2.2 1.4-0.8 2 2.8 2-4.4 1.9-1 2.9 2.4 1.4-4.4 1.8 2 2.4-3.5 2.1-1.4 1.8 0.3 2-3.2 1.9 0.8 2.5-0.4 1.6-2.9 1.8-0.6 1.8 0.4 2.1-3.2 1 0.1 2.9-1.9 2.8-1.7 1.5-2.3 2.6-0.4 0.8-0.8 2.2-3 2.2-0.3 2.6-2.2 1.6-1.1 0.9-2.4 1.9-0.3 1.6-1.5 2.4-1.7 1.9-3.9 1.2 0.8 2.2-2.3 2-2.7 2.4-1 0.8 0.3 2.9-1.9 1.2-1.1 2.5-3.5 1.7-1.9 2.2-1.3 1.4-1.1 1.5 0.5 2.5-2.2 2-3.1 1.1-1.5 2.5 1 2.2-3.4 1.4 0.8 2-1.6 2.2-1.9 1.8 0.1 2.7-2.9 0.7-1.3 1.9-0.9 1.6 0.6 2.7-4 2.2 0.1 1.8-0.2 1.7-2.3 1.9 0.7 2.2-2 2.7 0.2 1.4-1.4 2-1.5 1.7 0 2.3 0 2.1-4.3 1.1 0.1 2.5 0.8 1.5-1.6 2.7-2 1.7 1.4 2-1.9 2.1 0 1.6-1.4 1.6-2.4 2.2-1.8 2.2-0.6 2.2-0.8 1.7-0.4 1.5-2.9 2.1 1 1.8-1.2 2.8-1.4 1.2-1.3 2-1.4 2-1.2 1.2-0.8 2.8-1.8 1.2-1.1 2-3.2 1.8-1 1.7-1 2.9-1.9 0.5-1.9 2.5-1 1.7-0.1 2.1-1.8 1.9-0.5 1.4-4.9 2.6-0.8 1.5-0.2 1.4-3.3 1.8-1.6 3.1 0 1.2-1 2.9-3.1 1.5-0.3 2.1-0.8 1.1-1.2 2.1-2.3 2.4-1.2 1.9-1.1 1.8-1.5 1.3-2.4 2.5-2.3 1.4-0.1 3.2 0.1 1.6-3.7 1.7 1.2 1.7-2.9 2.8-1.4 1.8-0.5 1.7 0.1 2-1 3.2-3.3 1.1 1.8 2.8-2.3 1.2 1.1 1.7-3.3 2 0 2.6-2.6 1.9-2.4" stroke="#000" stroke-width="1.3"/>
<path class="c" d="M395.3 1193.5l2.8 0.4 1.5-1.2 2.4-3.2 1.1 1.9 2.4-1.5 3.1-1.1 0.9 0.2 2.5-0.3 1.5-1.8 2.7-2.4 1.7 0.1 2.1 0.2 1.7-0.6 2.5-2.7 2.3-1.3 2 0.5 2.3 0.6 1.3-0.7 2.1-2.3 2.6-3.5 2.2 2.6 1.8-1.5 2.3-2.2 1.5-2.2 2.3 0.2 2.2 0 1.6-1.4 2.1-1.9 2.1-1.4 2.1-2.6 1.3-1.1 2.7-0.3 2.1 1.1 1.9-2.4 2.5-1.5 1-1.3 2.8-0.1 0.9-3.1 2.4-0.1 2.2-4.4 0.9 0.8 2.7-2.4 2 0.2 2 0.3 1.8-4.8 1.8-0.8 2.3-5.7 2 3.4 1.6-1.9 2.1-1.6 2.3-3 1.1-2.9 1.7 0.8 2.3-0.6 2.1-1.1 2.4-1.7 1.2-0.7 2.1-1.8 2.7-4.4 0.9 1.6 2.2 0.3 1.5-4.3 2.3-2.2 2.1 1.8 1.4-1.6 2.3-2.5 2.3-1.4 1.7 0.4 1.7-4.5 2 2.5 1.6-3.4 2.2-1.3 1.6-1 2.1-2.1 1.8 1.5 2.2-2.9 1.8-3.6 1.5 0.1 2-1.3 2.6 0.6 2.1-4.4 1.1 0.2 2 0.6 2.4-1 2-2.5 1.2-0.6 2.3-2.9 1.8 2.7 2.2-3.7 1.9-2 1.9-0.4 1.8-1.3 2-2.4 2.3 1 1.6-2.3 1.7 2.8 2-0.6 2-1.8 2.8-2.6 1.8 1.6 1.3-0.9 2.1-2.8 2.1-1.6 2.5-0.6 1-1.2 2.4-1 2.1-1.3 2 0.8 1.5-2.5 2.8-0.3 1.3-0.4 2.2-3.4 1.9 1.7 1.9-1.9 1.5-3.2 1.7 0.7 2.6-3 1.3-0.6 2.5-1.6 1.5-2 1.9 0.3 2.7-2.2 1.5-0.8 1.9-2.7 1.8 2.7 1.7-1.7 2.7-2.6 1.6-3.6 1.4 1 2.4-1 1.4-2.8 1.9 0.7 2.3-0.4 1.6-2.7 2.7-3.3 1.2 1 2-4.3 2-0.7 1.7 0.2 1.9-1.2 1.8-1.5 2.6 0 1.4-3.9 1.4-2.5 2.3 0.9 2-2 1.6 0.6 2.2-4.3 2.2-2.1 1.7-1 2.3-0.4 1.7-2.4 1.8-0.5 1.4 0.2 2.9-2.8 1.6-1.9 1.9-0.3 1.8-1.1 2.8-1.6 1.6-3.9 1.1 0 2.9-0.3 2.2-1.7 1.7-1.9 1.7 0.6 2.4-4.3 1.8-0.7 2.1 1.6 1.9-5.3" stroke="#000" stroke-width="1.3"/>
<path class="c" d="M395.3 1193.5l2 2 2.3-4.1 1.8-0.3 2.1-0.6 2.4-1 1.5-0.5 2.8-2.2 1 0 3.4-3.5 1.3 0.6 1.9-1.4 2.3-1.9 2.4-0.6 1.9-2.3 1.9-0.5 2-0.2 1.8-2 2.7-1.5 1.1-1.7 2.2 1.3 2.3-1.1 1.6-2.1 2.3-1.3 2.7-3.7 1.5 2.5 2.6-0.9 0.8-1.8 2.6-1 2.4-4.1 1.1 0.9 2.4-2.9 1.6 2.1 2-4.2 2.4 0.2 1.9-1.4 1.1-2.1 2.2-1.3 2.7 0.2 1.3-0.8 2.2-1.7 1.9-0.8 2.3-2.6 1.8-1.8 2.7-1.3 1.3-0.4 1.8-1.2 2.5 1.4 1.8-4.2 1.5 0.8 2.4-0.6 1.3-3.5 2.5-0.9 1.7-2.4 2.2 0.7 1.5-2.1 2.3 0.4 1.5-3.1 2-2.7 2.6 1.4 2-1.4 1.3-1.9 2.6-1.9 2 0.3 1.1-1.2 1.9-0.7 2.3-3.6 1.9 2.5 1.7-3 2.6-1.5 1.3 0.4 1.8-1.5 2.4-5.8 1.6 2.5 2-3 1.9 0.7 1.8-3.7 1.7 0.9 3-0.3 0.9-1.4 2.7-0.8 1.4-1.4 2.4-1.7 1.7-3.5 1.7 2.3 2.4-1.7 1.5-2.3 2-1.5 1.7 0.9 1.9-2.9 1.8-1.1 2.4-0.5 2-2 2.1 1.9 1.7-4.5 2.1 1.8 2.6-1.7 1.1-1.4 1.9-2 2.4-2.3 1.6 0.1 1.8-2.4 2.7 1.5 1.5-3.1 2.4 0.2 1.8-0.6 1-0.7 2.5-3 1.6 0.1 1.6-3.4 2.2-0.4 1.6 1.3 2.2-1.7 1.6-2.2 1.8-1.1 2-1.7 2-0.3 3-0.3 1.1-3.3 2.5 1.4 1.1-4 2.5 1.9 2.3-1.7 1.7-1.6 1.9-2.8 2 0.4 1.5-3.5 2.9-0.6 1 2.7 1.9-2.7 2.7-1.4 1.7-1.5 1.5-1.7 1.9 0.8 2.4-2.3 1.3-3 2.5 0.9 1.6-4 2.2-0.7 1.7 0.8 2-1.5 1.7-0.4 2.2-1.3 1.7-0.7 2-0.8 2-4.3 2.4 0.1 0.9 0.4 2.1-4.2 2.6-1.1 1.9-0.6 1.3-0.8 2.3-0.7 2-2.5 1.8-0.4 2.1-0.9 2.3-0.7 1.8-2.1 1.5-1.8 2.2-1 2-1.5 2.3-0.2 1-0.5 2.9-1.4 2-0.8 1.8-4.5 1.7 1.1 1.6-1.5 2.7-2.3 1.7-1.7" stroke="#000" stroke-width="1.3"/>
<path class="c" d="M396.3 1191.1l0.8 0.7 2.6-2.1 1.9-2 2.5 1.8 1.4-4.2 1.8-0.5 2.5 1.1 1.5-3.6 2 0.1 3-1.9 1.8 1.1 1.9-1.9 2.1-2.4 1.6-0.7 2.3 1.3 2.1-2.3 1.4 0.8 2.5-4.2 2.7 2 1.7-3.2 1.8-0.1 1.9-0.7 1.5-1 2.6-1.8 2.3 0.6 2.2-0.4 1.7-0.4 2.5 0 1.2-3.6 2.8 1 1.2-2.1 1.9 0.3 2.7-0.8 2.4-1.6 1.4-0.3 3-1.3 1.2-1 1.8 1.7 2.2-4.5 2-0.5 2.3-1.1 1 0.3 2.6-1.8 1.8-0.7 2 0.4 2.3-3.4 2.1-1.3 1.9 2.3 1.5-5.8 2.5 0.1 2-3.5 1.5 0.3 2.2 0.2 1.8 0.3 2.3-4.5 1.6-1.6 1.7-0.2 1.7-1 2.4-2.1 2-1.7 1.4 1.1 2.8-3.1 1.6-0.8 1.9-3.9 1.7-0.5 1.9-3.2 2.3 0.9 2-2.3 1.4-1.6 1.9-1 1.2-3.9 2.6-1.4 2.3 0.9 1.7-2.8 1.7 0.2 1.1-3.1 2.7-2.8 1-0.8 2.7-1.4 1.7-0.5 2.3-1.7 1.3-1.2 2.8-2.5 1.1-0.5 2 0.7 1.9-1.6 2.3-3.5 1.5-0.5 3-1.7 1.6 0.1 1.9-1.8 1.7-1.8 1.7 0.2 1.7-2.7 2.5 0.2 1.8 0 1.6-0.8 2-1.5 1.3-2 2.5 1 2.5-0.4 1.2-1.4 2.2-1.6 2.8-1.8 0.6-0.9 2.7-0.5 1.9-1.8 1.8-0.8 2-0.9 1.6 1.8 2.6-3.6 1.7-0.3 1.8-2.1 2.5-0.9 2.1 1.6 1.7-2.7 2.2-1.1 1.3-0.5 1.8 0.1 2.7-1.3 1.8-3 1.9-0.2 1.8-0.8 1.7-1.1 2.2-2.4 2.1 0.7 1.7-3.3 1.7-4.2 2.2 3.3 2.1-2.8 0.6-3.1 2.1-0.8 2.7 0.9 1.7-3.8 1.6-1.2 1.6-1.9 2.4 1.7 1.1-3.7 2.7-0.1 1.4-1.4 2-3.5 2-2.1 1.4-1.2 2.3-2.5 1.9 0.5 2.2-0.9 1.3-0.5 2.8-5.7 2-0.3 2.2-0.6 1.5 1 1.5-4.1 1.9-0.7 1.9-2.5 2.3-1.6 2.1-0.3 1.5-1.4 2.1 0.2 2-4.2 1.6 0 3-1.2 1.5-0.8 2.7 0.1 1.1-0.5 2.6-3.4 1.7-1.7 2.2-0.7 2.5 0.3 1.5-3.1" stroke="#000" stroke-width="1.3"/>
<path class="c" d="M395.4 1192.5l2.1-1.4 1.9-0.1 2.5-2.6 1.3 1.8 2.7-2.1 1.2-0.6 2.8-2.5 1.9 1.9 2-4.2 1.7-1.4 2.3 0.5 2.3-3.8 2.2-0.3 1.6 0.7 2.1-3 2.2-2.5 2 1.3 1.6 0.1 2.2-2.3 2.5 0.3 2-3 0.9-2.3 3.1 0.1 2.2-0.3 1.8-1.5 1.7-1 2-0.6 2.5-0.3 1.7-3 2.5-0.1 1-1.5 2.8-0.5 1.5-0.9 2.1-0.6 1.5-2.7 2.3-1.2 2.4-0.6 1.4-0.3 2.2-1.6 2.3-1.2 1.8 1.5 1.7-4.6 1.7 2.1 2.3-2.6 2-1.3 2.1-0.6 2.3 1.4 1.6-5.1 1.8 0.3 2.4-1.1 1.7-0.2 2.4-4.1 1.7 2.9 1.8-3.4 2.5 2.3 1.6-3.5 1.5-0.9 2.2-1.8 2.2-0.1 1.7 0.8 2.7-1.9 1.9-1.5 2.2-2.4 1.3-1.7 2.2 2 2.5 1 1.3-3.6 2.2 0.2 2.2-3 1.5-0.2 1.9-2.9 2.4 1.2 1.7-4.3 2.1 0.5 2 0.1 1-1.5 2.4-1.8 1.8 0.9 2.2-4.2 1.5 0.5 1.9-1 1.4-0.6 2.8 0.1 1.5-3.1 2-2.1 1.8-1.8 2-1.2 2 0.2 2.3-2.6 1-0.6 3-1.1 0.9-0.1 2.6-2.6 1.8-2.4 1.6 0.6 2.5-3.6 1.4 0.3 3-1 1.5 0.3 1.8-2.2 1.3-3.2 2.1 0.6 2.2-3.2 1.9 0.7 1.9-2.3 2.4-1.4 1.5 0.4 1.5-3.6 2.5-0.3 2-3.1 1.2-2 1.7 1.3 2.7-2.4 1.5-0.8 2.8-3.7 0.7-2 2.1 3 1.9-4 2.3-1.7 2.2-0.4 0.7-2.3 2.4-3.6 1.8-0.3 1.6-1 2-0.5 2.4-1.1 1.4-3 1.4-1.6 2.3-2.1 1.8-0.4 1.8-3.2 2 0.1 1.4-0.4 2.6-3.3 1.9 0.7 1.5-3.3 1.8 0.7 2-1.1 3-3 1.3-0.3 1.9-1.4 2.6-1.5 1.1-2.2 1.9-1.3 2.1-2.2 2.1 0.4 2.1-1.5 1.4-0.7 2.2 1.3 1.9-6.1 2.4 0.6 2-1 1.7-2.9 1.7 1.1 2.5-2 2.1 2.5 1.1-4.9 2.3-2 2.5-1 1.2-1.2 2.9-1.3 1.1 0.4 2.7-0.5 1.3-1.2 2.3-1.6 2.2-0.4 1.7-2.5 2.4-1 1.4 0.7" stroke="#000" stroke-width="1.3"/>
<path class="c" d="M395.1 1190.2l2.1 0.7 2.4-0.3 1.6 0.3 2.4-3.2 2.5 0.2 1.5-0.9 2.2-0.8 1.9-1.4 2.7 0.2 1.8-0.9 1.9-0.8 1.9-0.9 1.8-1.2 3.2-3.1 1.2 1.7 2 0.7 1.7-4.9 3 3.6 1.7-4 1.6-0.5 3.2 1.6 1.5-2.1 2-1.5 1.9-1.8 2.7-0.2 1.3 1.3 2.2-1.8 1.9-1.1 1.7-2.7 2.5 0.9 1.3-3.1 1.9 1.8 3.2-1.8 0.8-0.3 2.7-0.6 2.2-4.9 0.9 1.5 2.9-1.4 2.3-1.1 1.7-1.7 1.8 0.4 2.1-2.7 2 0.3 1.9-2.6 1.8-1.5 2.4-1.3 1.7-1.6 2 0.2 1.7-0.3 1.8-1.1 2-2.5 2.2-1.8 2.5 2.1 1.7-4.1 1.8 0.2 2-0.7 1.1-3.5 2.9-1 1.7-1.3 1.7-1.9 2.4-1.8 1.8 0 1.7-0.5 2-0.5 1.5-4.2 2.1-1.4 2.1-2.1 2.2-2.4 2.5 1.5 0.8-2.5 1.8 0 2.3-1.8 2-2.4 1.4-1.7 1.9-2.3 2-0.1 2.1-1 1.9-2.3 1.7-3.8 1.5 2.1 2.1-4.6 1.8 0.8 2.1-2.3 1.8-1.7 1.6 0.2 1.8-1.1 2.3-2.9 2.4 0.3 0.8-1.7 2.3-3.4 2.1 0.8 1.9-2.4 1.7-3.5 2.4 0.4 1.7-0.2 2.3-4.1 1.2 1.5 2.2-1.1 2.8-1 1.5-1.9 1.3-0.7 2.1-2.1 1.9-2.3 1.7-0.8 2.6-0.9 1.6-2.3 1.5 1.6 2.4-3 2.8 1.5 1-1.7 2.3-2 1.1-0.4 1.9-2.7 2.4-0.5 2.4 2 2.2-3.2 1.6-1.1 1.8-1.3 1.2 0.4 2.7-2 1 1.1 2.7-3.4 2.1 1.1 2-3.4 1.9-0.5 2.1-1.7 2.1 0.2 1.3-0.1 1.9-3.6 1.7-0.5 2.3-0.6 2.6 1 1.3-2.3 1.9-2.2 2-0.3 2.6 0.8 2.1-2.6 1.5-2.7 1.2 1.5 2.7-3.3 1.4 1 2.2-2.1 2.6 0.1 1.5-3.3 1.3-0.4 2.8-1 1.5 0.7 1.9-4.7 2.1-1.5 2-2.4 1.8 2.6 1.8-4 1.8 0.2 2.3-0.9 2.3-1.6 1.2-1.3 2.2-2.2 2-0.8 2.2-2.2 1.7 0.5 2.2-2.9 1.3-2.8 2.4-1.6 1.5 2.3 2-1.2 2.3-1.5 1.9-1.7 1.7-0.5 2.9-1.2" stroke="#000" stroke-width="1.3"/>
<path class="c" d="M395.5 1193.8l1.6-0.5 2.5 0.8 1.8-2.4 2.5-0.4 2.1-1.5 1.5-2.6 2.8 0.2 1.5-2.2 2.8-1.2 1.2-0.7 2.2-3 2.1 1.9 1.7-3.3 1.7 0.8 2.3-2.1 2.7 0.4 1.6-3.6 2-0.7 2.7-0.3 1.6-4 2.1 2.4 2.1-0.2 1.4-1.5 2.4-1.5 2-2 1.9 0.7 1.7-1.2 2.6-1.8 1.2-1.4 2.3-1.3 2.1-1.9 2.1 1.9 2.4-4.9 2.3 1.2 2.1-0.3 1.6-0.1 1.9 0.2 1.1-1.8 3.2-2.3 2.5 0.3 1.2-3.2 2 2.2 2.1-2.7 2-1.5 1.8-0.8 1.8-0.2 2.3-1.3 1.4 2.2 1.8-4.4 3.2 0 1.3-0.9 2.4-1 2.3-0.9 1.9-1.6 1.4-1.1 2.3-1.3 1.5-1.8 2.4 0.9 2.3-0.2 1.7-2.8 0.9-1.2 2.2-0.8 2.5-1.4 2.7-2.3 1.5 1.9 1.9-2.3 1.5-2.6 2.4-0.2 1.1-2.2 2.8-1.2 2.1-0.7 1.2-0.8 2.6-0.9 1.2-1.3 2.1-3.8 1.8-1.8 1.9-1 2.3-1.6 1.6-2.6 1.3-1.5 1.1 0 3.1-0.6 1.8-3.8 1.6-2 1.7-1.2 2.6-2.3 0.7-0.8 2.2-0.7 1.7-2.1 2.5 0 1.6-2.7 2.8-1.1 1.2-2.2 1.8 0.2 2.2-4.4 1.4-0.3 1.8-2.4 2.5 0.9 1.5-1.4 2.4-2.9 1.7 1.2 1.8-3.6 1.9-2.5 1.9 0 2-0.5 1.7-1.9 1.3 1.7 2.7-2.8 1.7-0.2 1.6-1.5 2.7-4.7 1.5 0.4 1.4-3.8 2.5 1.4 1.8 1 1.6-3.3 2.6-0.7 1.5 0.1 2.5-0.4 1.5-2.2 2.6-0.8 1.7 0.3 1.9-1.6 1.7-1.5 2.5-0.2 1.9-1.1 1.7-0.7 2.3 1.1 1.4-3.5 1.9-1.2 2.3 1.3 2.1-3.4 2 1.8 1.9-3.1 2.3-0.7 1.1-0.3 2.6-0.5 1.8-1.3 2.3-2.5 1.5-1.3 2-0.3 2.4-1.4 1.6-2.1 1.9 0.1 1.6-0.6 2.1-2.2 1.3 0.4 2.2-2.6 2.4-1.9 1.1-1.1 2.6-2 1.9-1.9 2 0.4 1.2-2.9 1.9-0.9 3-1 1.6-0.9 2-1.3 2.4-1.9 1.4-3.7 1.2 0.5 2.6-2 2.3-0.7 1.6-0.2 2-1.6 1.8-2.1 2.7-1.1 1.9-3.6 1 0.5" stroke="#000" stroke-width="1.3"/>
<path class="c" d="M395.5 1197.4l1.8-1 2.2-1.4 2.3-0.9 1.5 1.4 2.2-1 2.6-2.8 1.8 1.5 2.4-2.7 2.4 0.9 1-3.7 2.7 0.7 2.3-3.5 1.8 1.2 1.6 0 2.7-2.4 1.7-1.9 1.9 0.8 2.2-1.1 2.1-1.8 2-0.4 1.6-2.7 2.6-1.9 2-0.4 1.7-1.2 2-3.2 1.7-0.2 2.9-2 2-1.8 1.7-2 0.9-0.5 2.7 1.2 2-3.3 2.2-3 2.6-0.7 1.2 1.6 2.1-2.3 2.4-2.3 1.3-0.7 2.1-2.4 1.4-1.1 2.8-0.2 1.4-1.4 1.5-2.4 2.5-0.6 2.5-2 1.4-1 2-1.2 1.9 0.5 2.2-3 2.1 0.2 1.6-1.7 2.2-3.8 1.7 1 1.6-2.4 3 1 1.4 0 2-1 1.9-4.3 1.3 1.4 3.1-1.9 1.3-1.3 2.2 0.4 2.6-1 1.6-0.6 2.3-0.4 1.8-1.4 2.4 0 1.4-2.4 2.6-2.9 1.9 1.4 1.1-0.9 2.9-2 1.1-1 2.1-0.9 1.8-1.3 2.5-0.9 1.7-0.5 1.7-0.3 2.4-2.1 1.3-0.4 1.9 0.9 1.8-4.6 2.5-0.4 1.8-2.1 1.8-1 1.5 0.4 2.5-1.1 1.9-2 1.2-0.5 2.3-2.4 2 0.2 1.5-2.6 2.3-0.8 2-0.2 2.3-2.5 1.3-0.8 2.9-2.1 1.6-2 1.9 0.4 2-3.2 1.2-3.1 2.5 0.5 0.4-1.9 2.6-1.8 1.8 0.3 2.5-1.5 1.8-5 1.1 1.8 1.8-2.3 2.5-2.2 1.6-1.4 2.4-2.2 1.4-1.3 1.3-2.7 2.5-0.4 1.6-1.5 2.1-3.3 2.2-1.1 1 0.1 2.3-3.3 2-2.8 1 1.8 2.7-1.3 1.9-1.7 1.4-1.7 2.4-0.1 1.4-1.4 3.1-3.3 1.1-1.8 1.8 1.8 2.5-2.7 2.3-1.8 1.6-0.5 1.3-2.1 2.5 0.5 1-1.8 3.2 1.8 1.4-3.7 1.5 0.2 2.8 0.4 1.4-1.5 2-1.5 2.4-1.2 1.8 0.6 1.5 0.5 2.7-2.4 2.5-3.6 1.5-1.4 1.6 0.9 1.9-1.1 2.8 0.9 2.2-1.9 1-1.5 2.1-1.4 2-0.7 1.8 1.3 1.9-1.3 2.5-2.7 2-2.4 1.6-0.2 2.2-0.9 2.4-0.7 1.2-1.7 2.7 0.1 1.6-1.1 1.2-2.4 2.7-2.9 1.6 1.1 1.9-1.1" stroke="#000" stroke-width="1.3"/>
<path class="c" d="M395.2 1190.3l1.8-1.3 2.4 1.9 2.2-1.3 1.8-1.5 2.1-0.7 2.2-0.9 2.2-2 2.6-0.5 1.3-1 2.1-2 1.8-0.4 2.3-0.7 2.1 1.1 3.2-1.6 1.4-0.1 1.3-1.5 2.3-0.6 2.4-0.5 1.4-1.3 2.7-0.7 2 0.9 2.1-3 2-1.7 1.5 1.5 2.4-2.2 1.9 0.2 1.8-3.3 2.7-0.1 1.8 1.6 2-2 1.5-2.1 2.7 1.1 1.6-1.5 1.7-1.1 2.7 1.4 1.2-4.6 2.3 0.9 2.3-0.1 2.1-1.4 1.4-2.6 2.6 0.8 2.1-3.8 2.1 0.6 1.5 0.3 1.2-1.6 3-1.2 2-2.4 1.7-2.1 2.2 2.2 2.1-3.2 1.4-1.6 1.7 1 2.4-1.5 2-2.2 2.6-2 1.3-1.5 2.2-0.2 1.7-2.3 2.1-1.8 2.3 0.5 1.3-3.4 1.5-3.8 1.9 1.8 2.3-3.5 2.6 0.2 2-4 1.7-0.1 1.1-1.2 2.6-2.1 1.8-1.1 1.5-2.1 2-1.1 1.8 0.4 1.5-2.8 2.7-0.4 1.5-3.9 2.4-0.7 1.1 1.2 1.7-4.4 2.9-1 1.6 0.8 1.9-4.1 1-1.7 2.2 0 2.5-1.6 1.7-2.3 1.5-0.4 1.3-1.9 2.4-1 2-1.7 1.8-0.6 2.3-1 2.3-2.3 1.6-0.4 1.6-2.3 2.5 1 1.7-1.6 2.4 1.5 2.1-4.1 1.3 0.6 1.6-1.3 2.5-1 1.8-3.4 1.7 2.7 3-2.1 1.7-2 2.1-0.5 1.3-1.3 2.6-0.5 1.4 0.4 2.6-2.1 1.6-0.5 2.2 0.3 1.9-1.6 2.1-1.5 1.3-0.9 1.9-1.2 2.2-0.5 2.5-0.4 1.4-1 2.2-3.8 1.7-0.1 2.3-1 1.5 0 2-1.5 2.5-0.3 1.3-0.9 1.8-3.7 2-0.8 2.6 0 1.9-0.7 1.8-1 1.3-4.7 1.5-0.6 2-1.4 1.8-1.4 2.2 2.1 2.3-3.5 1.6-1.9 1.9-2.7 1.5 1.2 2.2-3.9 2.1-1.9 0.9-1.3 2.8-1.1 1.3-3.1 2 0.3 2-1.9 1.6-2.3 1.9 0.9 2.7-6 1.7 0.7 1.6-0.6 2.5-1.5 1.7-1.3 2.1-3.5 1.1-0.6 2.3 0.2 2.6-1.7 0.9-0.3 2.6-0.9 1.9-1.6 2.1 0 1.8-1.5 2.1-3.9 2.3 0.4 1.7-3.7 2-0.2 2.3-0.2" stroke="#000" stroke-width="1.3"/>
<path class="c" d="M395.8 1198.9l1.6-0.7 1.5 1.7 2-2.5 2.5-3.5 2.8 1.3 1.7-0.3 1.9-2.8 3.2-0.4 1.3-0.5 2.2-3.3 1.8-1.9 2.8 2.3 1.4-2.6 2.1-0.9 2-2.5 1.8-1.1 2.5-0.9 1.5-1.6 2.4-1.1 1.7 0.7 1.7-2.1 2.2 0.2 1.9-1.3 2.7-3.4 0.6 0.2 2.7-2.2 2.7-0.6 2.1-5.4 1.8 1.2 2.2 1 1.3-2.6 2-0.5 2-0.7 2.2-1.6 1.3-2.9 2.7-1.2 2.4-2.1 1-0.2 2.7-2.3 2 1.2 1.1-3 2.7 0.5 1.9-1.6 1.6-2.9 2.3-3.5 1.7 3 2.1-6 2.2 3.6 1.4-6.1 2.4 1.5 1.9 1.2 2.4-1.5 1-3.7 2.1-0.4 2.1-0.3 2.3-1 2.2 1 1.4-3.7 2.3 2.3 2.5-3 1.8 1.4 1.6-2.1 1.6-1.2 2.5-1.8 1.9 1.2 2.2-0.9 2.5-0.7 1.3-1.7 1.7-0.7 2.7-1.7 1.9-0.1 2.4-2.8 1.2 1.3 2.2-2.9 1.3 0.5 3.3-4.5 0.4 0.8 2.3-1.5 1.4 1.6 1.9-0.5 1.9-5.5 2.5 0.3 1.5 0.1 2.3-2.4 1.6 1 2-3.6 1.6 0.2 1.8-0.9 2.4-3.5 2.3-1.4 0.9-0.6 2-2.5 2.9-0.3 1.9-2.3 1.7-0.8 1.4-0.6 2.2-2.6 2-3 2.2-1.5 1.8 0.3 1.1-3 1.9 1.2 2.3-5 1.9 1.1 2.3-0.2 2-4.3 1.6-0.7 1-2.1 2.3-1 2 0 1.5-3.7 2.3-0.5 1.4-1.4 2.3-2.7 2-1.1 1.3-2.4 2.4-0.9 0.9-1.8 2.1-2.2 2.8 0.4 1.3-1.6 1.7-3.4 1.8 2 2.3-3.3 2-1.3 1.3-1.3 2.6 0 2.1-2.7 1.5-1.9 2.4-1.6 1.3-0.2 1.9 0.2 1.9-1.8 2.8-0.7 1.2-1.4 2.6 0.7 1.9-2.4 1.5-0.9 2.3-0.1 2.9-1 0.4-0.4 3.4-0.7 0.8-2.2 1.9 0.7 2.7-3.4 2.1 0.7 2.3-1.5 1.4-1.7 2.1-0.4 2-1.2 1.5 1.5 2.8-0.5 1.3-4.5 1.9 2.4 2.2-1.8 1.6-2.5 2.3-2.1 2.1 0.7 1.8-2 1.4 0.3 2.7-1.4 1.3-0.6 2.7-2.6 2 0.3 1.7 0.2 1.8-5.6 1.9-1.5 1.6 2.9 2.1-3" stroke="#000" stroke-width="1.3"/>
<path class="c" d="M395.2 1197.3l2.2-1.1 2.1 1.8 2-1.9 1.3-2.3 3 2.9 2-1.4 2.1-3.7 2 0.3 2-1.5 2.2 0.5 1.7-2.1 1.8-0.8 3.2 0.3 1.1-1.5 2.2-2 1.6-1.8 3.3 1.5 2.4-1.5 1.7-1.6 1.9 0.3 1.9-0.7 1.7-3.6 2.4 0.7 1.4-3.2 3.1 1.1 1.2-2.5 1.9 0.1 2.6-1.1 2-2.8 1.5-0.7 2-0.7 2-0.9 2-1.5 2.4-2.6 1.5-1.8 2.6 0.9 2-0.3 1.8-1.9 1.8-0.1 1.2-3 2.8-0.9 1.9-3.1 2.2 1.3 1.9-3.7 1.8 0 2.2 0.4 2-3 1 2.3 3.6-4.4 1.4-1.5 1.4-3.1 2 0.5 2.3-1.7 1.9-0.7 2.6-1.3 1.1-2.8 2.1 2 1.9-4.1 2.1 1.6 2.2-4.1 1.7-0.7 1.6-0.9 2.3-1.5 1.6-1.7 2.1-2.5 1.6 0.2 2-0.1 2.4-0.2 1.7-5 1.1 1 2.4-4.2 2.7-0.8 1.4-1.7 1.9 0 1.4-2.2 2.8-2.6 1.6-1 1.6 0 2-1.7 1.9-0.4 2-2.5 1.8-0.5 1.4 0.6 2.4-4.9 1.4-1 2.6-1.5 1.4 1.3 2.2-3.2 1.5-1.2 2-2.3 1.7-0.8 2.4 0.3 1.6-3.9 2.4-1.7 1.7 0.9 1.6 0.9 2.3-4.1 1.8-0.1 1.7-0.8 2-1.6 2.3 0.3 1.5-4.6 2.1 0.2 1.8-2.8 2.3-1.6 1.4-0.1 2.4-0.6 1.8-1.8 1.1-0.7 2.9-0.6 2-2.9 1 1.4 2.7-2.5 1.8-1.2 1.7-1.8 2.2-1.7 2.1 0.7 1.6-3.3 1.9 1.2 1.7-1.4 1.8-3.3 2-1.3 2-0.9 1.4 0.3 2.7-2.2 2-0.3 1.9-1.6 1.6-0.7 2.8-2.2 1.2-0.1 1.6-2 2.2-0.8 2.6-1.8 1.4-0.9 2.2 1.3 1.1-3.8 3 0.1 1.6-3.2 1.7 1.1 1.9-3 2.7 2.5 1-2.4 2.4-0.7 1.5-2.1 2.3 0.3 2.4-3 1.6 0.4 2-1.6 2-2.7 2.1 0.7 1.7-2.3 2.2-0.6 1.6-0.3 2.1-1.4 2.3-1.7 2-0.5 0.7-4.5 2.9 2.6 2.1-0.3 1.8-2.5 2.1-0.2 1.3-1.7 2.6 0 2.1-2.3 1.2 0 2.2-1.1 2-0.4 1.3-1.2 2.7-0.6" stroke="#000" stroke-width="1.3"/>
<path class="c" d="M395.1 1194.9l1.9-3 2.8 0.2 1.5 0.8 2.6 0.3 1.7-2.8 2 0.5 1.9-0.2 2.3-2.3 2.2 0.3 1.9 0 2-0.3 2.5-2.4 2.5-1.8 1.3-1.6 1.8 1 2.1-2.2 2.9 1.8 1.2-3.2 1.5 0.2 2.9-1 1.6 1.4 3-2 2.2-0.5 1.3-1.1 2.6-2.7 1.7-1 2.6 2.7 1.4-3.3 2.1-0.9 1.4-2.6 3.4 0.4 1.8-1 1.4-1.5 1.9-1.4 2.4-0.5 2.1-1.5 1.1-0.9 2-2.9 2.2-1.9 1.4 0.4 3.1-1.5 0.9-0.6 2.6-2.2 2.5-1.9 1.8-3.4 1.4 0.6 2.1-4 1.9 2.8 2.5-2.1 1.8-1.1 0.9-2.6 2.9-2.1 2.4-2 1.3-0.2 1.6-1.9 2.8-0.9 1.1-0.9 2.2-2.8 1.8-0.3 2.2-1.4 1.6-2.6 2.4-0.8 1.7-4.5 2-0.3 2 0.6 1.6 0.6 1.7-5.3 2-1.4 2.2-1 1.7 0.5 2.1-2.8 1.7 0.1 2 1 1.7-1.5 2.6-3.2 1.2-0.7 2.2-1.4 2.3 2.1 1.5-1.8 1.5-2 2.2-3.3 1.7-0.6 2.6-1.2 1.5 1 1.8-0.5 1.6-0.8 2.4-1.4 2.6-1.6 1.8-0.5 1.5 0.4 2.6-1.5 1.8-1.7 1.4-1.3 1.8-1.2 2.4 0 2.6-0.6 1-0.4 2.3 0.3 2.8-1.3 1.6-2.7 2.4-0.7 1.5-2 2.3-1.8 1.9 0.2 1.1-1.9 3 0.4 1.3-1 2.3-1.3 1.6-3.6 2.8 0.2 0.7-3.1 2.8-1.8 1.2 0.3 1.8-0.6 1.6-2.8 2.2 0.6 2.4-0.7 1-1.9 3.2-3.9 1.5-0.2 1.8-2.4 1.6-1.2 1.6-2.9 2.7-1.1 0.7 1.5 2.6-2.4 1.2-2.3 2.4-4.2 1.5-0.7 1.9 0 2-3 2-2.4 1.5-2 1.8 0.5 2.4-1.7 1.4-1.7 2.1-1.7 1.3-0.1 2.3-2.3 2-2.1 1.8 0 2-3.1 1.5-2.5 2.1 1.1 2.4-1.9 1.9-0.1 1.7-3.4 1.9-1.9 1.7 0.6 2.2-0.2 1.8-2.5 3.2 0.1 1.3-1.7 1.3-1.6 1.5 0.4 2.9-1.8 2.2-0.7 1.8 0 1.8-0.8 2.6-0.5 1.3-1.6 2-1.2 2.8-0.3 1.6-1.5 2.5-0.4 0.8-2.2 2-0.4 2.3 0 1.8-1.8" stroke="#000" stroke-width="1.3"/>
<path class="c" d="M395.4 1195.2l1.8-2.8 2.4 0.8 2.1-0.7 1.7 0.1 2.6-1.9 2.1-0.6 2.1-1.4 1.6-0.8 2.1 0.8 1.9-0.5 1.8 0.4 2.8-2.6 2.1-1 1.5-0.1 2.6 0 2-2.8 2-3.4 2 1.7 2.4-0.7 1.5 0.7 2.7-2.6 2.3 0 2.3 0.8 1.3-1.8 2.7-2.1 1.2-0.3 2.6 0.9 1.8-2.7 1.3-1.4 2.3-3.2 2.1 0.5 2.4 1.4 2-3.3 1.3-0.8 2.4 0.8 1.4-3.6 2.4 1.7 2.3-2.8 2.1-0.7 1.7-1.6 1.9 0.2 1.9-3.1 2.8 0.6 1.6-3.5 1.8 0.6 2.3-0.3 1.5-2.7 1.9-1.9 2.3-2 2.1-1 1.4-0.3 2.4-0.6 1.5-2 1.7-2.3 2.7 0.5 2.2-1.6 1.5-0.8 1.8-2.7 1.8 2.5 2.4-4.8 2.1-0.7 2-2.6 2.1-1.1 1.3-0.3 1.8-3.4 1.6-1.3 2.2-1.7 2.4 0.6 1.5-1.3 1.7-2.6 1.9-1 2.8 0.8 1.9-3.7 1.4-2.7 1.9-2.1 1.3-0.6 2.4-0.3 2.4 1.4 0.9-6.4 1.4 0.8 2.3-1.9 2.3-2.3 1.8-1.2 2-3.8 1.9 2.9 1.6-3.5 2.5-0.6 1.5-2.1 1.3-1.3 2.1 0.3 2-3.8 1.7-1.3 1.8 1.6 2.5-0.7 2.1-2.4 1.7-1.6 2.6-2.6 0.8-0.3 2.3-1.8 1.9-0.3 2-1.7 1.8-1.5 2.3-1.2 1.1 0 2.2-0.2 2.2-2.1 2.5 0.3 1.3-1.1 2.6 0.9 1-2.8 2.1-3.5 2 0.4 2.1-1.1 2 0.3 1.9-4.8 1.8 1.7 1.6-1.4 3.1-3.8 1.1 0.9 2.4 1.8 1.7-1.8 2.1-1 2.3-1.9 1.4-1.9 2.7-1.3 1.4-0.4 2-1.5 1.5-1.1 2.7 1 1.7-2 1.6-1.2 2.2-1.3 2-0.8 1.6-3.1 2.7 1.5 1.4-0.3 1.8-3.1 1.7-2 2.4-1.8 1.8 0.9 1.7-1.1 1.9-3.2 2.1 3 1.9-3.9 2.1-2.5 1.5 0.7 2.1-1.3 2.4-1.4 1.4-1 1.8-1.5 2.1-1 1.4-1.2 2.2-0.4 2-1.9 2.3-3 1.8 0 1.9-0.2 2.3-4.7 1 2.2 3.2-1.4 1.1-4 2.1 0.5 2-1.7 1.7-1.4 2.4 0 1.8-2.2 1.2-3.2 2.2-1.5 2.4-1.6" stroke="#000" stroke-width="1.3"/>
<path class="c" d="M394.9 1200.7l2.5-0.1 2-2.8 2.3 0.2 1.8-1.1 2 0.6 2.4-2.4 2.2-0.9 2.2-2.4 1.8 0.3 2.1-1.6 2.6-0.5 1.5-2.9 2.1 0.5 2.2-1.8 2.5-1 1 1.8 3.5-3.2 1.3 0.4 2-3 2.2 0.8 2.4-2.5 1.1 0.8 2.5-3.3 2-0.1 1.9-1.5 1.6-1.2 2.6-1.7 1.4 1.7 2.7-4.9 1.9-1.1 1.8 0.2 1.5 2 2.8-4 2-2.9 1.4-0.8 2.1 1.4 1.6-1.6 3.1-3.2 1.5-0.4 1.4-0.8 2.5-1.5 1.9-2.6 1.9-0.9 2.4-1.8 1.2 1.3 2.9-3.2 1.5 0.6 1.5-0.6 2.3-4.2 2.2 0 1.9-0.6 2-0.3 2.2-4.2 1.9 0.9 2.1-2.4 1.1-1.7 2.8-1.5 1.2-0.4 2.3-2 1.9 0 2.1-1.7 1.8-1.2 2-1.4 1.4-2.9 2.1 0.6 2.2-0.2 1.5-3.9 2.6-1.3 2.1-0.4 0.9-1.6 1.9-1 2.4-2.1 2.1 0.1 1.5-2.6 2.5-1 1.3-1.9 1.7-1.7 2-0.2 2.8-2.3 1.6-2.4 1.7-0.5 1.8-2 1.3 0.5 2.3-4 2.3 2.2 1.3-1.2 2.1-3.9 2.3-1.5 1.9 1.3 2.2-2.1 1.4-1 1.8-1.9 1.7-2.5 2.6 0.4 1.4-0.4 2.1-2.2 2.1-2 1.3-0.3 2.5-3.4 1.4-1.7 2.4 2.1 1.6-2.4 2.9-1.8 1.6-2.4 1.6 2.2 2.1-4.2 1.5-0.2 2.6-0.6 1.7-2.1 1.6-0.6 2.1-1.9 1.9 0.1 2.2-0.6 1.3-1.1 2-3.8 1.6 1.6 2.1-3.3 2.3-1.7 1.9-1.1 1.6-0.1 1.9-1.5 1.7 0.2 1.9-2.8 1.8-1.3 1.7-1.7 2.7 0.9 1.6-1.8 2.2-0.4 2.2-2.5 1.2-2.1 3.1 1.2 1.3-1.3 1.3-2.4 3-1.3 1.4 0.2 1.9-1.8 2-1.1 1.9-1.1 1.8-0.7 2 1.3 1.8-6.6 2.7 0.8 1.4-2 2.1-2 1.5 0.6 2.6-0.1 1.5 0.3 1.9-2.1 2.2-1.5 2-0.7 2.3-1.3 1.6-1.5 1.8-2.8 1.7 1.7 2.4-1.7 2.2-2.2 1.7-1.5 1.3-1.1 1.8 1.8 2.4-4.6 2 0.4 1.3-3 2.7 0.8 1.5-1.1 2.2-0.8 2.2-0.1 2 0.7 2.3-5.1 1.8 0.5" stroke="#000" stroke-width="1.3"/>
<path class="c" d="M395.1 1195.5l2.1 0.5 2.1-3.2 2.4-0.8 2.2 1.7 1.8-2.2 2.2-2.5 1.6 0.3 2.6-2 1.4-0.8 2.8-0.6 1.5-2.9 2.5-1.1 2.1 0.6 1.9 2.2 1.9-2.5 2.3-3 2.1-3.2 2.1 4.4 1.6-3.7 2.4-0.1 1.7-1.4 2.2-0.2 2.3-1.9 1.9 1.4 2.1-3.5 2-0.1 1.8 0.5 2.7-0.5 1.4 0.1 2.6-1 1.5-2.2 2-2.8 2.1 0.5 2.8-1 1.2-0.4 2.2-1 2.5-0.9 1.5-1 1.8 0.6 2-2.4 2.5 0.9 1.6-2.3 2-1.2 2-0.8 2.1-0.9 2-2.7 1.8 0.7 1.7-2.3 2.8-0.6 2.1-0.7 1.4 0.1 2.1-2.9 2.1-1.2 1.5-2.1 2.3 1.2 1.9-2.1 2.4-1.1 1.7-2.4 1.7 0.8 1.6-1.5 2.7-2 1.7-2.9 1.2-0.1 2.6-2 2.2-2.5 2.3-1.2 1.7 0.8 1.6-3.1 2.3-2.4 1.2 0.1 2.6-0.7 1.9-1.1 1.7-4.2 1.1-0.6 1.2-0.4 3.5-2.6 1.1-1.1 1.7-3.5 2-1.6 2.1 2.3 0.9-3.5 2.7-2 1.9-1.5 1.9-2.2 1.8-1.5 1.1-2.8 2.4 0.3 2.4-1.1 1.5-1 2.4-1.9 1.7-0.9 1.6-0.8 2.5-1 1.8-0.2 2.2-2.4 1.7-2.7 1.2-0.8 2.3-2.2 1.5-0.5 2-0.8 2.9 0.8 1.5-2.7 1.8-0.4 2-2.6 2.7-0.2 1.7-2.5 1.9 1.2 2 0.3 1.5-1.9 1.5-2.1 1.9-1.4 2.9 0 2.1-0.7 1.5 1.5 2-5.6 1.9-0.1 2 0.3 2.2-1.6 1.5 1.1 2.7-3.1 1.3-0.5 2.4-1.8 1.5 1.7 2.3-1 2.1-1.9 1.8-1 2.1 0.4 1.8-3.4 2-1.1 1.4 1.5 1.8-2 2.5-2.9 1.5 0.8 1.8-3.6 2.7-1.4 1.3-0.2 1.4-0.4 2.5-3.2 2-2.4 2.1 3.3 2-3 1.7-2 1.1-2.1 1.8-0.6 2.3-1.1 2.6-3.9 1.2 0.3 2.4-0.8 1.9-3 0.9 1.1 2.4-2.9 1.9-1.6 2-0.5 1.9-3.3 1.7-1.9 2 2.6 2.3-2.5 1.8-3.5 1.8-2.8 1.4 0.7 2.7-2.9 1.7-2 2.3 0.3 1.7-4.7 1.9 1.2 1.9-1.7 2.1 1.3 2.3-3.9 1.4 0.4" stroke="#000" stroke-width="1.3"/>
<path class="c" d="M395.1 1196l2-0.9 2.5-3 2 0.9 2.1 0.6 2.6-3.6 1.8 1.4 1.5-2.7 2.3-1.1 2.6 1.4 2.2-3.8 1.4 0.4 1.8 1.4 2.6-2.9 1.2-2.5 2.8 0.1 2.1 0.4 1.9 0.6 1.2-4 2.8 0.9 2.8-0.7 1.4 0.5 2.4-1.7 1-1.7 2.5-1.1 2.4 0.4 1.9-1.6 2.2-1.4 2.1-1.3 1.5 0.6 2.7-2.1 1.9-1.4 1.9 0.9 2.5-1.4 1.8-2.4 1.6 0.7 2-0.5 2.4-1.9 1.7 0.2 1.8-4.2 2.7 3 1.4-3.3 2.1-0.1 1.7-2.8 2.3-1.8 1.1 1.2 3-1.6 2.2-0.6 1.8-3.2 1.9 1.4 2-1.3 1.7-2.3 1.9-0.7 1.8 0.1 1.9-2 3-2 1.3 0.8 2.7-3.1 2-2.2 1.7 3.2 1.7-4.6 2.2 1.2 2.1-1.6 2.5-3.3 1 0.9 2.6-2.2 2.1-1.3 1.3-2.3 2.6 0.5 1.8-0.9 1.7-3.9 2 1.7 1.8-2.4 2.1-4.9 1.5-1.7 1.6 1.4 1.8-1.9 1.9-1 2.3-2.2 1.3 0.3 1.6-3.8 1.6-1 2.4 0 2-2.8 1.3-1.9 2.1-0.9 2.2-1.3 1.3-1.5 2.4-2.2 2.6-0.5 1.4-1.2 2.5-2 0.4-0.1 2.4-3 2.3-1.6 2.6-0.2 1.1-3.6 1.7 0.3 2.5-1.5 1.4-1.7 2.2 1 2-2.7 2.1-2.2 1.7-1.2 2.4-1.2 0.9 0 2.3-1.6 2.1-2.6 1.8-1.9 1.8 0 1.2-3.7 2.3 1.6 1.7-2.6 2.1-2 1.9-0.4 1.6-1.6 1.8-3.4 2.2 2.8 1.5-5.4 2.6-1 2.2 1.6 1.2-2.2 1.9-2.7 1.7-1.6 2.5-0.5 1.8 0.1 1.6-3.7 2.3 1.3 1.8-3.4 1.9 2.1 2.2-1.2 2-0.2 1.4-2.9 2.6-1.9 0.9-2.8 3-0.2 1.5-0.9 1.9-1.6 1.6 0.1 2.9-2.9 1.7-1.3 1.2-0.4 1.9-0.2 2.4-1.3 2.3 0.3 1.9-2.4 1.5-0.1 1.8-3.7 2.4 1.2 2-1.7 2.3-1 1.2 0.6 2.2-2.1 1.5-1.2 2.8-1.5 1.8-1.1 2.1-0.7 1.2-1.8 2.5 1.4 1.7-4.9 1.8 2.3 2.1-2.2 2.2-1.8 1.5-0.5 1.6-1.5 2.3 0 2.1-2.7 2 1.1 2.5-1.8 1.6-1.5" stroke="#000" stroke-width="1.3"/>
<path class="c" d="M395.3 1199.6l2 0.9 2.1-2.3 2.3-1 1.8 2.2 2.5-1.6 2.1-3 1.9-1.9 2.1 2.5 2.2-0.9 2-2.2 1.9-1.6 2.7 0.8 2 0.9 1.6-2.6 2.7-2.9 1.7-0.7 2-3 2.3-3 1.6 2.3 2.3-1.7 2.1 1.8 1.8-3.9 2.2 0.4 1.4-1.6 2.4-4.3 1.8-0.2 2.5-1.2 1.9-2.7 1 1.1 2.7-2 2.6-2.5 0.8 0 3-1.6 1.7-0.8 1.7-2.3 2.3-1.2 1.6-1 2.1-0.9 1.2-1.9 2.9 0.5 1.6-2.6 2.1-1.8 1.9-1.9 2.7-3.4 1.1 0.4 2.3 0.1 1.4-1 2.7-0.5 1.8-2.7 1.9 1.1 1.5-5.9 2 2.5 2-3.5 2.6 2.3 1.9-1.7 1.7-3.3 2-0.7 2.5 1.2 1.9-2 1.7-1.4 1.9-1.8 2.1 0.6 1.6-2.1 2.3-0.9 2.2-1.6 1.7 0.5 2.7-1.4 1.4-1.6 1.7-1.1 2.5-0.2 1.6-1.8 2.4 1.8 1.6-1.8 2-2.3 2.2 1.8 2.1-4.8 1.3 1.3 1.9-1.5 2.1-2.1 2.3 1 1.2-1.8 1.9-1.5 1.8 1.1 2-2.9 1.5-1 3.1-2 1.4-1.7 2.1 0.7 2.6-3.3 1.2-1.1 2.2 0 1.4-3.8 2.2 1.7 1.7-1.3 2.7-0.7 0.8-3.3 2.5-0.6 2-2 2.1-1.1 1.9 1.7 2-2.2 2.4-2.7 1.5-1.7 2.7-0.3 1.5-1.8 1-0.9 2.2-0.8 2-0.3 1.5-2.2 2.4-0.5 1.9-1.4 0.7-2.7 2.4-3.9 2.8-2 1.2 0.9 1.9 0.4 2.2-2.1 2.1-1.9 1.9-2.8 1.1-2.2 2.5-0.9 2.5-3.1 0.7 0.1 1.9-1.1 1.6-3.4 2 1.6 1.9-4.4 2.1 0.3 1.8 0.9 2.3-5 1.7-1.2 1.3-0.7 2.4-3.7 1.9 1.2 1.2-2.2 2.7-2 1.3-1.1 2.5-1.8 1.8-1.2 1.2-0.3 2.3-2.1 2.3-0.5 1.7-1 1.7-2.7 2.5 0.9 1.5-2.6 2.5 0.7 1.9-3 2.2-0.9 1.1-0.6 2.5-0.6 1.8-1.2 1.7-0.6 1.9-1.4 2.6-1.4 1.6-1.6 1.8 0 2.3-2.4 1.9 1.1 1.8-3 1.5-0.4 3 1 1.5-3.3 2.2-0.2 1.8-1.6 2.6 0.5 0.6-1.8 2.3 0.3 2.8-1.3" stroke="#000" stroke-width="1.3"/>
<path class="c" d="M395.3 1197.4l2.4-2.1 2-0.3 1.8-1.7 2.4-0.9 2.3-1.3 1.6 0.4 1.7-0.9 2.3-1.6 2.8 1 2.1-3 1.6-0.4 2.2-0.4 1.6 0.8 2.5-0.9 2.2 0 1.6-2.1 2.2-1.4 2.3 2.4 2.2-3.7 1.8 0.7 1.7 0.3 2.5-0.4 1.6-3.3 2.7-1.8 1.6 0.8 2.7-0.4 2.3-2.4 1.3-2.2 2.4 0.4 2-2.9 1.2 2 2.5 0.5 2.6-4 1.8 0.2 1.8-2.7 1.7-1.4 1.9-0.2 2.5-1.3 1.3 0.2 2.5-2.6 2.2 0.6 1.8-2.8 1.6-2.6 1.4 0.6 2.4-2.3 2.4-2.8 1.7-1.4 2.1-2.4 1.8 2.4 1.6-2.6 1.9-0.9 1.9-2 1.9-3.7 2.5 0.5 1.4-1.9 2.5-2.4 1.5 0.6 1.5-0.4 2.8-1.8 1.5-2.7 2.1-2 2.1-3.7 1.9 1.5 1.8-0.7 1.7-0.9 2.3-1.2 2.2-1.1 1.9-2.2 2.6-1.8 1.1-0.7 1.9-0.2 2-1 1.6-3.5 2.1-0.9 1.6 0 2.2-0.8 1.9-1.2 2.6 0 1.6-2.8 1.6-2 1.9 1.4 2.1-0.7 1.8-3.3 2-0.8 2.1 1.1 1.9-2.2 1.8-0.6 2.4-3.1 1.1-1.4 2.4 0.1 2 0.4 2.1-1.3 2.3 1.3 1.7-1.8 2.1-2.5 1.8 1.4 1.9-5.1 2.2 1.3 2.2-0.7 2-2.2 2.1-3.7 1 2.7 2.6-0.8 1.8-2.4 1.3-0.8 2.5-2.5 1.8 0.3 2.3-1.8 1.5 0 2-1 2.1-3.4 2.2-0.3 1.4-1.4 2.1-1.8 1.5-5 1.3 1.5 3.3-2.3 1.6-0.5 1.4-0.6 1.7-4.1 2-1.9 1.9 2 2.1-3.7 1.9-3.1 1-0.7 2.2-0.7 1.7-3.2 2.2-2.3 1.4-0.7 1.8-0.8 1.7-2 2.3-3.1 1.6 0.1 2-3.9 1.6 2 3.2-2.6 0.7-0.7 1.9-1.2 2.4-2.4 1.9-0.8 1.9-1.4 1.9-0.4 1.6-1 2.1-1.1 1.7-3.5 2.4 2.3 2.3 0 1.2-2.2 2.2-2.4 2-0.1 2.4 0.2 1.3-2.5 1.5-0.3 3.2-0.8 0.9-1.4 2.8 0.2 1.8-1 1.4-1 2.1-1.1 2-0.4 1.9-0.1 2.5-2.3 0.9-1.9 3.2-0.4 1.5-0.4 2.2-1.3 1.1-0.7 2.2-2.2 1.5-1.7" stroke="#000" stroke-width="1.3"/>
<path class="c" d="M395.9 1201.6l1.3-0.8 1.7-1.5 2.7-2.2 2.1 3.8 1.4-5.1 3.1-0.5 1.5-0.3 3 1 1-0.7 2.3-2.3 2.6-1.2 2-3.6 1.7 1.8 2.8-3.4 1.7 2.4 2.2-5.2 1.8 3.1 2.1-2.3 2.5-0.2 1.2 0 2.3-1.6 2.4-5.1 2.1 3.9 1.6-1.5 2.5-3.8 1.7 2 2.3-3.2 1.6-2 2.2 0.4 2.6-2.6 1-1.6 2.5-1.5 1.3 0.6 2.9-0.7 1-2.2 2.7-0.1 2.1-5.2 1.2-0.5 2.6 1 1.4-3.5 1.9-0.8 2.1 0.6 1.9-1.3 2.9-3.2 1.1-1.6 2.1-1.6 2-0.6 1.9-1 1.8-1.3 2.2-3.5 2.3 1.4 1.9-4.5 2.4 0.8 1.3-3.1 2.7 1.1 1.5-0.5 2-3.1 2.1 0.7 2.2-3.2 1.1 1.5 1.8-3 2.2 0.5 2-4.5 2.5 0.1 1-1.3 2.3-1.8 2.1-0.5 1.5-0.5 2.5-0.6 1.8-2.1 1.4-1.7 2.8-2 1-0.4 2.6-1.5 1.9-0.2 1 1.3 2.8-3.2 1.9-0.7 1.6-3.4 2.1-0.6 1.7-1.1 2.1 0.7 1.7-3.5 2 2 1.3-3 2.5-1.7 2.1-0.9 1.8 0.2 1.8-3.3 1.9 0.3 2.2 0.9 1.3-3.1 3 0.1 1.6 0.1 2.5-2.4 1.6 0.1 2.4-0.2 1.3-2.5 2.7 0.6 1.8-1.5 2.3-2.4 1.3 0.2 2-3.4 2-1.1 2.3-0.4 1.3-0.4 2.3-1.3 1.8-1.4 2.6-0.1 1.4-1.2 2.2-2.7 1.2-1.3 2.5-0.9 2.5-2.6 0.9 1.1 2.2-1.2 2.9-1.7 1.2-1.8 2.4 0.7 1.4-3.3 1.5-0.2 2.1-0.3 2.2-1.8 1.8-1.6 1.7 0.3 2.1-2.9 1.5-1.7 2.5-0.6 1.2-2.6 2-1.3 2-0.6 1.9 0.9 2.3-3.2 1-1.5 2.5-0.7 1.4-3.9 2 0 1.7-2.2 2.1-1.3 1.6-3.7 2.2 0 1.8-1 1.8-1.4 2.1-4 2.1 1.1 1-0.9 2.6-1.4 1.5-1.9 1.8-1.6 2.6 0.8 1.7-4.5 1.2 0.2 2.6-3.1 1.5-2.2 2.7 0.8 0.7-1.4 2.7-2.6 2.3 0 1.8-3.3 1.6-1.1 1.7 0.3 1.9 0.2 2.5-2 2.3-2.5 2.1-2.8 1.3-1.5 2.2-1.2 1.6 1.8 2.1-3.1" stroke="#000" stroke-width="1.3"/>
<path class="c" d="M395 1197.9l2.3-2.7 2.4 2.7 2.1-0.6 1.8-1.6 2.5-1.9 1.9-2.1 2.3 2.7 1.6-2.2 2.3-0.8 1.9-0.8 2-0.8 2.5-1.3 2 0.8 2.1-3.9 1.9 0.9 2-2.5 2 0.5 2.5 0.1 2.2-0.3 1.3-3.4 1.9 1.2 2.8-3.1 2.3 1.6 1.5-0.7 2.1-2 2-1.1 1.4 0 2.9-2 1.3-2.7 2 1.6 2.3-2.9 2.3 0.2 2-1.1 1.8-0.9 2.3-2.7 2.1 1.2 1.7-3.7 1.8-1.3 2.5-1.9 2.2 2.4 1.4-0.4 2.2-3.1 2.2-2.1 1.8 0.4 1.6-2.5 1.9 0 2.6-0.4 1.6-1.3 2-4.1 1.5 2.2 2.3-3.9 2-0.9 2.2 0.8 2.1-1 2.2-2.9 1.4-0.2 1.7-3.4 2.8 0.7 1.9-2 2-1.5 1.5 0.2 2.3-1.2 2.9-4.2 0.8 0.9 1.9-2.6 1.6-1.2 2.2 0.2 2-2.1 2.4 1.1 0.9-2.4 2.5-1.8 1.2-2.5 3-2.9 2.4-1.1 1.3 0.2 1.6-3.7 2.2 0.4 1.3-1.8 1.4-1.1 2.1-2.5 2.2 0.6 1.6-3.1 1.4-1.7 2.1 0.1 2.6-2.8 1.7-2.3 1.6-0.7 2.1-0.9 1.8-2.2 2.4 0.1 2.1-3.6 1.4 1 1.8-2 1-0.1 2.6-4.2 2.4-1 2 0.4 1.5-1.3 1.5 0 2.3-3.6 2.3 0.4 1.8-1.6 2.1-1.3 1.5-0.7 2.2-4 2 1.7 2.3-1.8 1.5 0.8 1.8-2.6 2.7-1.2 1.5-1.8 0.6-0.1 2.8-3 2.1 0.9 2-2.4 2-0.6 2.3-1.3 1 1.1 2.3-3.7 2.2-0.7 2.5-0.7 1.3 0.5 2-1.3 2.1-2.1 1.1 0.1 3.4-1.1 1.7-2.1 1.9 0.2 1.9-0.7 1.7 0.4 2.1-2.9 1.6-1.8 2.3-1.3 2.1 1.6 1.3-3.4 2-0.9 2.2-0.6 2.1-1.2 1-2.9 2.2-1.1 2-0.2 1.3-0.3 3.1-3.9 0.9-1.3 2.3 0.3 2.1-0.9 1-1 2.8-2.1 1.4-0.7 2.1-3.3 1.9-0.8 2.4 1.3 1.3-4.4 1.8 1.1 2.3-2.8 1.9 0.2 1.8-2.3 1.7-2.5 2.7-1.2 1.4-2.3 1.8 2.4 2.6-1.3 1.8-0.4 1.7-2.1 1.5-0.3 2.8-2.7 2 0.3 1.4-1.9 1.5-0.9" stroke="#000" stroke-width="1.3"/>
<path class="c" d="M395.3 1197.4l2-0.8 2.2-0.9 2.4-0.2 1.7-1.7 1.8-1.5 2.7 0.5 1.9-2.1 1.6-2.5 3.5 3.5 0.9-1.4 2.2-4.1 1.6-0.2 2.5-0.7 1.9 0.1 2.1-5.1 1.8 0.9 2.3 0.2 2-3.4 2 0.3 2.1-0.7 1.8-1.2 1.8-1.8 2.5 1.4 2.9-3 1.5 0.5 1.7-2.4 1.8-0.4 2.3-1.8 2.1 0.6 2-2 2.4-2.5 1.5 0.8 1.6 1.1 2.7-6.2 1.3 0.8 2.4-1 1.2-1.4 3.1 0.2 1.4-2.4 2 0 2.1-1.3 1.7-3 2.6-1.3 1.8 2.2 1.1-3.4 3.3-0.7 1.9 0.5 1.6-2.1 2.5-2.5 1.7-0.8 1.5 0.6 2.4-0.8 1.6-3 1.9 0.9 2.1-3.1 1.9-0.4 2.6-2.7 1.5 0.1 2.1-0.2 2-1.2 1.8-0.6 2.4-2.8 1.6-0.4 2.3-1 1.9 1 1.7-4.4 2.2 0 1.6-0.9 2.6 2.6 1.8-3.9 1.5-1.9 2.5-1 1.7-3 1.9 0.8 2.7 0.2 1.6-2.9 1.6-1.5 1.7-1.1 1.6 0.1 1.9-1.5 2.1-0.6 2.1-2.3 1.7-0.5 1.4-3 1.8 0.1 2.2-2.6 2.2-0.5 2.5-1.4 0.8-0.2 2.2 0.3 2.1-1.8 2.3-2.8 1.6 0.9 2.5 0.8 1.9-2 1.8-1.8 1.7-0.5 2.4-1.2 2.3-2.2 1.8-1.9 1.3 1.6 1.9-3.2 2.8-0.1 1.6-2.7 1.6 1.3 2.1-7.2 2.1 2 2.2-4.3 1.5 4.1 2.2-3.8 1.8 0.9 1.8-3.2 1.6-1.4 2.2-0.9 2.5-1.1 2.1 0.5 0.9-3.4 2.4-2.6 2.4 0.6 1.4 1.3 2-0.9 1.8-3.7 2.7-2.8 0.8-1.6 2.1 0.7 2.7-1.2 1.4-2.6 1.5-0.4 2.6 0 1.4-2.6 2.2-1.5 1.9-0.3 1.5-3.3 1.7 0.2 1.8-1.1 1.3-1.7 2.9-1.7 1.4-1 2.4 0 1.4-5.4 1.4 2.6 2.2-2.5 1.8-1.8 2.6-0.4 1.8-0.8 2-0.9 1.4-2.8 2.3-1.7 2-0.3 1.2-2.5 2.6 1.9 1.8 1 1-6.5 2.9 1.7 1.9-2.3 1.9-2.1 2.5-0.1 1-1.2 1.7-1.9 1.7-2.4 2.2-0.3 2.2-2.7 2 0.8 1.8-2.3 2.8 0.4 1.4-2.3 1.6-1.5 1.7-2.1 2.3 0.4" stroke="#000" stroke-width="1.3"/>
<path class="c" d="M395.7 1195.8l1.9 0.2 2.3-1.8 1.2-0.7 2.6-1.3 2 1.7 2.2-2.4 2.5-0.1 1.7-2.9 2.1 0.1 1.5 1.2 3.1-2.1 1.5 0.5 1.6-3.6 2.2-1 2.5 0.8 2.5-2.4 1.1 0.1 1.9-0.2 2.9 0.6 2.2-2.4 1.8-1.3 2-0.4 2.3 0.4 1.5-1.8 2.3 0.8 2.1-2.1 2.3-1.5 1.8 0.4 2.5-0.4 1.4-0.2 3.1-3.9 0.8 0.1 2.5 0.3 1.9-1.5 1.9-2 2.3-1.3 1.6-0.3 2-1.3 2.1-0.9 2 0.6 1.6-3 2-2.5 2.3-0.7 1.7-3.1 2.3 1.3 1.8-0.2 3-1.7 1.4-0.3 2-1.7 1.6-2.9 1.8 0.3 2.1 0.3 2.3-2 1.5-2.2 2.2-2.6 2.2 0.8 2.2-1.5 1.7-3 2 0.2 1.2-1.1 2.2-1.8 1.8-2.1 2.4-0.9 1.7-3.3 1.7 1.3 2.4-3.3 1.6-1.8 1.6 1.2 1.7-2.6 3-1.4 1.8-2.5 1.9-1.5 1.5-2.1 2 0.5 2.1-3.1 0.9 0.3 2.4-3.8 1.8-2.5 1.7 2.1 2.2-2.7 2.2-0.9 1.9-1.8 1.3 1.1 2.6-4.1 1.2 0.6 1.6-0.1 2.5-3.1 2.5-1.2 1.6-2 1.9 0.5 2.4-1.8 1.5-0.1 2-1.8 1.7 1.2 2.3-3.2 2.4 1 1.3-1.2 2.7-0.7 1.4-1.8 2.2 1.2 2.1 0.4 1.8-1.1 1.9-5 1.9 1.1 1.9-3.8 2.3 0 1.7-1.6 1.7-1.4 2.2-0.2 2.1-1.6 1.8 0.3 1.7-2.1 2.6-2.2 1.5 0.3 1.4-1.8 2.7 2.1 1.9-3.6 1.4-1 2.2-1.7 2.3-1.3 1.8-0.7 1.6-3.1 2.3-0.1 1.7 0.5 1.9-5.8 1.4 2 2-2.2 2.1-0.3 2.4-4.1 1.4 0.4 1.8-1.6 2.1-1.9 1.8 0.1 2-3.1 2.1-0.9 1.1-2.5 1.2-0.8 3-2.9 1.5-0.5 2-2.6 1.3-0.8 2.4-0.8 1.7-3.7 1.7 0.1 2.1 0.8 2-5.2 1.7-2.1 1.9-1.7 1.6-0.1 2.3-0.7 1.6-0.7 2-0.3 2-1 1.6-2.5 2.8-1 1.7-0.3 1.9-2.2 1.9-0.8 2.3-1.9 1.7 0.8 1.6-0.8 2.3-0.2 1.6-4 2 1.9 1.8-3.3 2.6-2.6 2 1.3 1.7-1.3 2.5-1.6" stroke="#000" stroke-width="1.3"/>
<path class="c" d="M395.9 1197.1l1.7-1.5 2.2 0.6 1.3-1.5 2.5 0.9 2-0.1 1.6-2.1 2.6-3.1 1.9 0 2.3 1.4 3 0.8 0.9-2.3 2.5-0.8 2.3 1 2-1.7 2.6-0.7 1.2-1.6 2.6 0.4 2.3-0.6 1.3-3.1 2.3 0.3 2.4-1.1 1.5-2.4 2.5-1.2 2 0.2 2.1-1.6 2.2-0.7 2-0.6 1.5-0.5 2.1-4.9 1.5 2.4 3.1-2.1 1.4-0.8 2-0.7 2.3-1.9 2.2 0.2 2.4-2.7 0.9 0.1 2.6-1.3 1.9-3 1.6 1.5 1.9-3 2.3-1 2.2-0.8 1.4-0.6 2.3 0.1 2-2 2.2-1.3 1.7-0.9 1.5-3.2 3-1.2 1.8 0.7 1.7-2.6 1.9-1.3 2.6-0.4 1.4-0.8 1.3-4.6 1.9 0 2.5-2.4 2.3 0 1.2-2.2 2.2-0.3 1.7-2.6 2.2-1.3 1.9-1.6 1.7-0.8 2.2-1.7 1.8-0.7 2.3-2.4 1.3 0.9 2.3-2.2 2.2-1 2.3-1.1 1.5-0.8 2.3-2.5 1.4-0.3 0.5 0.6 3.2-3.4 2.3-0.4 1.8-2.1 1.6-0.8 1.2-2 2.3-0.8 1.6 0.3 2.1 0.5 2.9-2.5 1-2.4 2.3-0.2 2.1 0.2 2-1.7 2-1.5 1.8-0.2 1.5-0.5 1.9-1.4 2.8 0.2 1.5-0.8 2.4-0.3 1.6-2 1.9-3 2.6-0.7 1.4 0 2.2-1.2 2-1.1 2-1.1 1.9-5.6 1.2 2.4 2.7-1.6 1.6-2.1 2-0.5 2-2.3 1.8-1.6 1.2 0.2 2.9-3.2 1.7 0.7 2.1-1.4 2.2-0.5 1.4-2 2.3-2.6 2 1.8 1.7-3.7 1.9-0.5 2-2.2 1.7-0.3 2.1-0.5 2.3-1.8 1.7-1.5 1.1-4.9 1.7 2.8 2.5-3.6 1.8-1.4 1.4 0.2 2.2-6.1 1.9 0.4 1.1-1.1 2.3-2.3 1.8-1.5 1.8 0.2 2-5.2 1.6 3.5 2-4.9 2.2-0.3 1.2-2.8 1.8-0.2 2.5-0.1 1.8-3.3 2.2 0.2 1.8-4.1 1.1-1.2 3.1 1 1.4 1.7 2.1-4.7 2.2-1.6 2.2-0.7 1.4-1.9 2.7 1.4 1.4-3.7 2.2 2.8 1.1-2.6 3.1-1.4 1.2 0.7 1.6-3.7 2.1 2 2.2-1.2 2-2.5 1.6 1.8 2.5-4.4 1.8-0.4 2.1-0.1 2.1-2.5 1.6 3.9" stroke="#000" stroke-width="1.3"/>
<path class="c" d="M394.8 1197.2l2.6 2.4 2.3-4.3 1.4 3.2 2.4-5.7 2.1 1.4 2.3-2.4 2.5-1.6 1.5-0.3 2.5-3.3 2 3.6 1.9-1.7 2.4-1.9 1.4-1.2 2.2 1.5 2.7-4.8 1.2 1.8 2.2-2.1 2.4-0.9 2-0.8 1.9-1.4 1.9-1.2 1.7-0.4 2.9-2.4 1.3 1.5 2.2-0.4 2.2-0.3 1.9-2.2 2.4-1.5 2-0.6 1.7-2.6 1.9 1.2 2-1.3 2.4-1.6 2.1-2.5 1.5-0.6 2-0.5 2.4 0.5 2.2-1.8 1.2-2.5 3.3 0.6 1-2.1 2.1-1.5 1.9-0.7 1.9 0.8 2.1-1.2 2.8 0.9 1.7-2.5 1.9-0.9 2.2-2.8 1.7-0.5 2.2-1.5 1.4 0.5 2.1-2.4 1.9 0.3 2.4-4.6 1.5 1.9 2.6 0.4 1.7-1.6 2.4-2.6 1.5 0.7 2-3.1 2 0.3 2.2-4 1.6 1.4 1.7-3.9 2.5-1.3 1.7 0.8 2.1 0.3 2.2-3.4 1.6-2.1 2 0.4 2.1-3.5 2.5 1.8 0.5-1 2.3-3.7 1.9-0.3 2.1 0 1.6-4.1 2.5-1.1 1.4 0.1 2-2.2 1.5-1.8 2.6-1.1 2.3 0.5 0.6-3.3 2.2 2 2.1-3.1 1.3-2.6 2.6-2.2 1.7-0.3 2.5-0.7 1.2-0.6 2.3-0.1 1.7-3.1 1.8-1.8 2.4 1.1 2.3-1.5 1.3-2.2 1.7-1.2 2.4-1.5 2.4 2.3 1.7-5.3 1.7-1 2.3 0.7 1.8-4.8 2.7 2.5 1.6-2.6 1.1-0.2 2.8-0.7 1-1.8 3-0.3 1.5-2.2 1.6-2.3 2.3-3.1 1.3 2.6 2.7 0 1.9-3.6 1.3-1.8 2.3-3.2 1.6 3 2.2-3.5 1.9-1.3 1.6-2.7 2.1 0.4 1.5-3.2 1.8-0.1 2.6-2.7 1.6-2.2 1.8 1.4 1.1-4.2 2.4 0.7 1.7-1.3 1.8-2.9 2.2-1.7 2-0.7 1.1-1.8 2.3-0.8 2-2.3 2 0 1.1-2.1 2.3-2 2.3-2.5 1.3 0.1 2.7-1.7 1.3-1 1.8-0.9 1.5-0.9 2.6-2 1.8-1.6 2.4-1.9 2.2-0.7 1.3-3.1 2.1 2 1.9-2.9 2.3-2.5 1.4-1.8 2.6 1 1-0.8 2.3-0.2 1.6-2.4 2.5 0.8 2.2-2.7 2 1.2 1.7-3.7 1.9 0.4 1.3-1.2 2.2-1.6 2.5-1 1.7-1.9" stroke="#000" stroke-width="1.3"/>
<path class="c" d="M394.8 1197.1l2.7 2.5 1.9-2.9 2.1-1.5 2.1-0.9 2.2-1 1.9 0.1 2.5 0.1 2.3-2.7 1.1-0.8 2.9 0.4 1.3-1.5 2.2 0.5 1.2-4.1 4.1 2.1 1-2.2 2.8-1.2 1.7-2.7 1.8 1.6 1.9-0.8 2.3 0.1 3.1-0.7 1.2-3 1.6 2.2 2.5-4.3 2.6 0.3 1.8-2.3 1.8-2 1.8 0.7 1.5-0.1 2.4 0 2.2-2.9 2.3 0.3 1.7-0.6 2.3-1.9 2.2-1.2 1.7-2.7 2.3 1.1 1.5-2.4 2.1-1.3 2 1 1.6-0.8 2.3-3.3 2.5-2.5 1.3 2.6 2.2-1.9 1.5-2.9 1.5-0.5 2.6 0 2.2-0.4 2.5-3.1 1.6-1 2.3-1.2 1.5-1.2 2.3-0.2 2.1-1.8 1.6 0.4 2.3-2.6 1.8 0.9 2.4-4.6 1.4 0.8 2-0.8 1.8-2.5 1.8-0.7 2-2.4 3.4-0.3 1.2-4.4 1.8 2.3 2-0.2 1.3-1.2 2.6-3.1 1.7 0 2-1.9 2.6-0.4 0.9-0.5 1.3-2.1 2.9-1.7 1.6-0.2 2.2-4.9 1.1 2.4 1.8-2.5 2.6-2.6 1.4-2.7 2.2 0.8 1.9-2.8 2.1 0.5 1.2-2 2.6-0.6 1.7-0.2 1.3-0.9 2.7-2.2 2.7-1.4 0.9-1.9 2.1 1.5 2.2-1.9 1.7-0.6 2.2-1.7 1.6-2.6 2.6-1.2 1.2-0.5 2.3-1.5 1.6-1.3 2.2-1.6 1.9-2.9 2.4 0.5 2.5-0.6 0.5-2.6 2.9-1.3 1.7 2.3 1.8-2 1.6-5.2 1.7 0.8 2.5-5 2.1 2.9 1.4-1.3 2.3-2.5 1.9 1.8 1.9-3 1.7-3.9 1 0.9 2.5 1 2.4-5 2.2-1.5 0.9 0 2.1-1.7 1.7-2.6 1.4-1.2 2.4 1.1 2.3-3.8 1.4-2.7 2.1-1.4 1.4-2 2.3-1.2 1.4 0 2.4-2.7 2.1 2.1 1.6-2 1.7-2.8 1.9-2.6 1.7 1.4 2.2-1.7 2-0.9 2.2-1.1 1.6-2 1.5-1.6 1.9-1.9 2.2-2.5 2 1.5 1.6-1.1 2.4-3.7 2.2-1.2 1.5 1 2.6-2.1 1.3-1.8 2.2-2.3 1.3 0.6 1.4-1.7 2.9-1.8 1.7 1.6 2.2-3.1 2.3-0.7 2 1 1.3-2.7 2.7-0.9 1.1-1.7 2.7-1.6 1.6-0.6 1.6-1.2 1.7-0.2 3-3" stroke="#000" stroke-width="1.3"/>
<path d="M395.2 1280.4l1.7-1.4 1.6-0.8 1.7-3.5 1.7-0.1 1.6 0 1.7 0.1 1.6-1.4 1.7-0.3 1.6-1.2 1.7-1.5 1.7 0 1.6-0.9 1.7-1.5 1.6-0.4 1.7-0.5 1.7-1.4 1.6-1 1.7-0.2 1.7-1.9 1.6-0.8 1.7 0 1.7-1.1 1.7-0.9 1.6-1.7 1.7-0.5 1.7-2.5 1.7-0.3 1.6-1 1.7-0.6 1.7 0 1.7 0.1 1.7-2 1.7-0.4 1.7-0.2 1.6-0.9 1.7-0.7 1.7-1.7 1.7-1.1 1.7 0.1 1.8-0.6 1.7-2.8 1.7 0.6 1.7-1.2 1.7-0.1 1.7-1.4 1.7 0.2 1.7-2.2 1.8-1.5 1.7 0.2 1.7-0.6 1.7-1.3 1.7 0.8 1.7-2.1 1.7 0.7 1.8-2 1.7-2.6 1.7 1.9 1.7-0.8 1.7-1.4 1.7-0.6 1.7-0.3 1.7-0.8 1.7-0.7 1.7-1.5 1.6-1.4 1.7-1.4 1.7-2.1 1.7 0.8 1.6 0.6 1.7-2.7 1.7 1 1.6-1.8 1.7-0.5 1.7-0.4 1.6-2.4 1.7-0.4 1.7-2 1.6 0.9 1.7-0.9 1.6-0.8 1.7-1.4 1.6-1.2 1.7 0.2 1.6-1.8 1.7-0.1 1.6-1.9 1.6 0 1.7-2.2 1.6-0.5 1.7-1.7 1.6 0.1 1.6-0.3 1.7-1.8 1.6-0.1 1.7-0.7 1.6-1.5 1.6-1.3 1.7-0.9 1.6-1.1 1.6-1.9 1.6 0.7 1.7-1.1 1.6-1.6 1.6-0.6 1.7-3.3 1.6 1.8 1.6-1.1 1.6-2.8 1.7 0.1 1.6-0.8 1.6-0.9 1.7-0.2 1.6-3.1 1.6 0.5 1.6 0 1.7-2 1.6-1.9 1.6 0.2 1.6 0 1.7-1.8 1.6-0.1 1.6-1.1 1.7-1.7 1.6-1 1.6-0.8 1.6-0.8 1.7-0.9 1.6-2 1.6 0 1.7-0.3 1.6-1.7 1.6-1.7 1.7-0.3 1.6-0.6 1.6-0.8 1.7-3.1 1.6 1.7 1.6-1.5 1.7-1.5 1.6-0.7 1.7-0.2 1.6-1.1 1.7-0.9 1.6-2.5 1.6 0.3 1.7-1.2 1.6-2 1.7 0.9 1.6-1.9 1.7-1.3 1.6 0.3 1.7-1.5 1.6-0.3 1.7-0.3 1.7-1.3 1.6-0.9 1.7-1.5 1.6-0.8 1.7-0.1 1.6-2.6 1.7-0.2 1.6-0.1 1.7-3.4 1.6 0.9 1.7-0.2 1.7-0.9 1.6-1.8 1.7-0.5 1.6-0.4 1.7-1.9 1.6 0 1.7-0.9 1.7-1.6 1.6-1.1 1.7-0.2 1.6-2.8 1.7 1.5 1.7-2.3 1.6-0.7 1.7-0.5 1.6-1.3 1.7-0.6 1.7 0.2 1.6-1.1 1.7-2.6 1.7 0.2 1.6-0.3 1.7-1.3 1.6-2.8 1.7 1.4 1.7-1.6 1.6 0 1.7-1.6 1.7-0.6 1.6-2.7 1.7 1.4 1.7-2.1 1.6-1.3 1.7-1.4 0 13.7-1.7 1.5-1.6 0.9-1.7 0.5-1.7 0.3-1.6 1.4-1.7 0.1-1.7 2.7-1.6-0.7-1.7 1.6-1.7-0.1-1.6 0.8-1.7 1-1.7 2.7-1.6-0.7-1.7 1.2-1.6 1.1-1.7 0.5-1.7 0.5-1.6 0.6-1.7 1.9-1.7 0.3-1.6 0.3-1.7 2.4-1.6-0.6-1.7 0.8-1.7 3-1.6-0.7-1.7 0.3-1.7 1-1.6 3.6-1.7 0.6-1.6-0.5-1.7 1.4-1.7 0.7-1.6-0.3-1.7 1.2-1.6 0.4-1.7 1.5-1.7 0.2-1.6 2.3-1.7-0.2-1.6 0.7-1.7 1.9-1.6 1.2-1.7 1.2-1.7 0.6-1.6 0.7-1.7-0.1-1.6 1-1.7 2.1-1.6 1.3-1.7-0.6-1.7 1.6-1.6-0.3-1.7 2.3-1.6 1.5-1.7 0.1-1.6-0.1-1.7 3.1-1.6-1.6-1.7 1.9-1.6 0.1-1.7 2.1-1.6-0.2-1.6 0.8-1.7 1.8-1.6 0.6-1.7 2.5-1.6-0.8-1.7 1.2-1.6 0.2-1.7 1.5-1.6 1.8-1.6 0.7-1.7-0.2-1.6 1.9-1.7 0.2-1.6 0.6-1.6 2.9-1.7 1.6-1.6-1.3-1.7 2.6-1.6 0.3-1.6 0.9-1.7-0.2-1.6 1-1.7 0.9-1.6 0.5-1.6 1.3-1.7 2.3-1.6 0.3-1.6-0.3-1.7 1.6-1.6 2-1.7 1.1-1.6 0-1.7 0.5-1.6 1.1-1.6 2.2-1.7-0.2-1.6 0.9-1.7 2.4-1.6 0-1.7-0.3-1.6 0.7-1.7 2.3-1.6-0.1-1.7 3.8-1.6-2.1-1.6 1.2-1.7 1.5-1.7 1-1.6 2-1.7-1-1.6 1.3-1.7 3.4-1.6-1.5-1.7 0.8-1.6 1.6-1.7-0.1-1.7 2-1.6-0.1-1.7 0.9-1.6 0.3-1.7 1.6-1.7 1.8-1.6-1-1.7 1.1-1.7 1.4-1.7 1.2-1.6 1.7-1.7 0.5-1.7-0.3-1.7 1.6-1.7 0-1.6 2-1.7-0.3-1.7 2.1-1.7-1-1.7 1.8-1.7 0.8-1.7 0.9-1.7 2.1-1.7 0-1.8 0.2-1.7 0.4-1.7 1.7-1.7 0.1-1.7 0.1-1.7 1.6-1.7 0.2-1.7 2.7-1.7 0.1-1.7 0.3-1.7 0.8-1.7-0.1-1.7 0.7-1.7 1.4-1.7 2.2-1.7 0.4-1.7 0.1-1.7 0-1.7 3.7-1.7-1.3-1.7 0.6-1.6 1.5-1.7 2.4-1.7 1.8-1.6-2.2-1.7 1-1.7 1.5-1.6 1.8-1.7-0.7-1.6 0.8-1.7 1.1-1.7 2.5-1.6-1-1.7 1.2-1.6 3-1.7-0.4-1.6 1-1.7 0.6-1.6 0.7-1.7 0-1.6 1-1.6 1.4-1.7 0.3-1.6 0.7-1.7 1-1.6 2.5-1.6-0.4-1.7 3.1-1.6 0.6-1.6-0.9-1.7 2.3-1.6 0.3-1.6 1.1-1.6 0.5-1.7 0.9Z" fill="#ff0000" stroke="#ff0000" stroke-width="0.5" stroke-linejoin="round"/>
<path class="c" d="M395.1 1278.6l2.2 0.5 2.9-0.6 1.7-1.5 2-3 1.7 1.2 2.5-1.6 2.7-1.2 2.3-1.1 2.6-0.8 1.4 0.2 2.7-4.6 2.5-0.4 0.9 0.9 3.9-4.9 1 0.9 2.2-2.4 3-0.4 2.1-0.5 2.5-4.1 2 0 2.1-1.6 2.1 0.3 2-1.7 2.8 1.5 1.3-3.6 2.9 1.7 2.6-3.7 1.6-0.2 3-1.4 2.3-1.1 2-2.4 2.2 0.7 2.5-1 2.3-1.2 2-0.6 3.1-2.8 2.1-0.4 2.1-1.5 2.5-2.3 2.2 1.5 1.3-2.3 3.7-0.4 0.9 1.8 2.9-3.5 1.8-1.3 2.9 0.1 2.1-0.9 2.2-0.4 1.2-3.9 3.5 1.6 2.1-3.4 1.4-2.4 3.5-0.9 1.6 1.3 2-1.6 2.6-0.5 1.9-3.8 2.6-0.5 1.9-2.3 2-2.1 2.1 1.2 2.9 0.7 2-1.8 1.9-3.5 2.2 1.1 2.1-3.3 3.3-0.2 1.5-0.6 2.2-2.7 2.6-1.8 1.4 0.6 2.1-2.3 2.3-1.7 2.5 0.2 2-2.3 2.1-0.5 2.4-2.9 2 0.7 1.9-3.2 2.8-0.6 1.8-3.1 2.2 2.4 2.5-2.6 2.1-0.8 1.6-3.8 2.3 0.9 2-1.9 2.2 0.6 2.7-4.6 1.9 1.1 2-0.5 2.1-3.9 3.1 0.3 1.5-2.7 2.4 0.1 2.1-1 1.9 0 2.7-2.7 2-2.3 2.6 0.3 2-1.9 1.5 0 2.6-3.2 2.2 1 2.2-2.6 1.7-1.1 2.1-0.4 2.7-3 2.4-1.2 1.6 0 3.4-1.9 1.7-1.1 1.8-1.7 3.1-1.1 1 0.2 2.3 0.1 2.2-5.2 3.1 2.3 1.5-2.2 2.7-0.6 2.1-2.4 1.9-2.3 2.4-0.6 1.8-2.1 2.9-2 1.6 0.7 2.2-0.8 2.8-1.9 1.8-0.6 3.1-3.3 2 2 1.1-2.7 2.9-0.9 2.1-0.4 3-2.7 1.3 2.6 2.2-2.8 2.4-1.2 2.2-2.5 1.9-2.2 2.7 0.3 1.9-2.7 2.1 0 3.1-1.2 1.7 0.1 1.8-2.2 2.1-1.5 2.6 0.3 1.9-2.9" stroke="#ff0000" stroke-width="1.0"/>
<path class="c" d="M395.2 1290.1l2.3-2.8 1.5 1.9 2.4-1.1 2.1-2.6 1.8-0.4 3.3 0.4 2.4-2.1 2.1-1.6 1.1-1.3 3-3.1 2.3 1 1.7-4.4 2.7 0.4 1.5-1.4 2.2-2.7 2.3 0.7 2.3 0.9 2.1-3.5 2.9-2.3 1.5 0.2 2.4 0 2.2-2 3.3-1.4 1.1-2.8 2.7 1.1 2.7-1.1 1.2-0.1 2.4-1 2.4-2 1.9-3.9 3.2-0.8 1.7-0.7 2.8 0.6 2.1-2.4 2.1 1.5 2.6-2.4 1.8-0.9 2.8-0.6 1.4-1.5 2.5-3.2 3 3.6 1.1-2.3 3.2-1 1.9-3.7 2.2-2.4 2.3-0.7 2.9-0.6 1.3 1.2 3.1-1 2.1-0.5 1.9-0.3 2.4-3.1 2.5-1.4 1.7-2 1.9-1.1 2.9-2.1 1.8 0.8 2.4-1.4 2.4-2.1 2.4-1.6 2.7 0.3 1.6-0.1 2.2-2.7 2.4-1 2-2.2 1.5-0.8 2.6-1.3 2-1.2 2.9-1.5 2.4-0.1 1.9-0.1 1.7-3.9 2.8 1.6 1.6-3.4 2.6-1.2 1.7-3.4 2.1-1.5 2.2 2.5 2.7-3.4 2 1.1 2.5-2.2 1.6-1 2.8 0.1 1.8-2.9 2.9-5.1 2.1 0.6 1.7 2 2.4 0 2.2-3.7 2.3-2 1.9-2.1 2.7 1.1 1.6-4 1.7-0.6 2.9 0.5 2.1-1.3 2.5-1.7 2.1 0.4 2.1-4 2.2-1.2 2.2-0.3 1.9-0.6 2-1.7 2.3 1.6 2.5-4.3 1.4 0.2 2.9-2.6 2-0.2 2.5-2.1 2-1.1 2.5 1.2 2.1-3.5 2.8 1.3 1.6-4.2 2.2-0.8 2.3 0.7 1.6-5.5 2.5-0.3 3.1 0.9 1.9-0.6 2-1.1 2.6-2.3 1.8-2.5 2.2 1.5 2.2-1.6 1.7-3.1 3.1 0.3 1.9 0.9 2.2-3.2 2.1-2.8 2.2-0.2 1.6-1.1 3.1-0.4 2.9-0.4 1.8-3.5 1.8-0.8 2 0.9 2.5-1.5 2.4-0.5 2-4.6 2.6-0.5 1.6 1.2 2.9-3.6 1.9 0.4 2-1.6 2.3-2 2.5 1.5 2.3-3 2-1.7" stroke="#ff0000" stroke-width="1.0"/>
<path d="M395.2 1285.9l1.7-1.4 1.7 1.9 1.7-1 1.7-0.7 1.7-0.5 1.7-3.1 1.7 1.5 1.7-1.7 1.7-4 1.7 3.2 1.7-1 1.7-0.7 1.7-1.3 1.6-1.3 1.7 0 1.7-0.9 1.7-0.6 1.7-1.7 1.7 0.1 1.7-0.6 1.7-2.8 1.7 0.5 1.6-0.8 1.7-0.4 1.7-1.3 1.7-2.6 1.7 1.3 1.7-0.8 1.7-1.8 1.6-0.7 1.7 0 1.7-1.7 1.7-0.4 1.7-0.2 1.7-1.6 1.7-3.6 1.6 1.5 1.7-0.8 1.7-1.7 1.7 0.9 1.7-1.4 1.7-0.5 1.6-1.6 1.7 0.5 1.7-0.9 1.7-2.6 1.7 0 1.6-0.1 1.7-2 1.7 0.3 1.7-1.8 1.7-0.4 1.6-0.8 1.7-0.4 1.7-1.6 1.7-0.1 1.6-3.8 1.7 1.5 1.7-0.6 1.7-2.4 1.6 1.2 1.7-2 1.7-0.6 1.7-2.5 1.6 0.6 1.7-0.6 1.7-1.4 1.6-2.2 1.7 1.3 1.7-0.7 1.7-1.2 1.6-2.1 1.7-0.4 1.7 0.2 1.6-1.7 1.7-1.3 1.7 0.9 1.6-1.3 1.7-2.7 1.7-0.8 1.6 0.4 1.7-0.9 1.7-1.4 1.7 0.2 1.6-1.3 1.7-1 1.7-0.9 1.6-1.6 1.7-1 1.7 0.2 1.6-0.5 1.7-0.7 1.7-1.3 1.6-1.8 1.7-1.5 1.7 1.4 1.6-2.5 1.7-0.3 1.6-0.1 1.7-1 1.7-0.9 1.6-0.8 1.7-1.6 1.7-0.9 1.6 0 1.7-0.9 1.6-1.4 1.7-0.5 1.7-3.9 1.6 0.5 1.7-0.9 1.6-1.6 1.7 1.4 1.7-1.3 1.6-0.8 1.7-3.1 1.6 0.5 1.7-0.7 1.6-1.2 1.7-0.5 1.6-0.7 1.7 0.1 1.7-1.7 1.6-2.7 1.7 1.5 1.6-1.6 1.7-0.1 1.6-3 1.7 0.4 1.6-1.7 1.7-0.5 1.6 0.2 1.6-1.7 1.7-1.8 1.6 0.2 1.7-0.5 1.6-1.1 1.7-0.9 1.6-1.2 1.7-1.2 1.6-0.4 1.6-3.5 1.7 2 1.6-1.3 1.7-1.8 1.6-1.1 1.6 0.1 1.7-1.3 1.6 0.1 1.6-1.3 1.6-0.7 1.7-1 1.6-2.7 1.6 0.4 1.6-0.5 1.6-1.8 1.7-0.6 1.6-1.4 1.6-0.3 1.6-1.7 1.6-0.4 1.6-0.6 1.6-1.8 1.6-0.8 1.7-2.3 1.6-1.5 1.6 0.7 1.6-0.5 1.6-0.5 1.6-1.9 1.7-1.3 1.6-0.9 1.6 0.2 1.6-2.8 1.7 0.8 1.6-0.8 1.6-1.8 1.7-0.6 1.6-3 1.6 0.6 1.7-2.4 1.6 1.8 1.7-1.3 1.6-0.7 1.6-1.6 1.7-0.7 1.6-0.7 1.7-0.4 1.6-3 1.7 0.4 1.6-1.4 1.7-0.4 1.7-1.3 1.6-0.6 1.7-1.5 1.6 0.5 1.7-2.1 1.6 0.3 1.7-1.5 0 7.2-1.6 0.6-1.6 2.6-1.6 0.4-1.6 0.3-1.6 1.1-1.6 1.2-1.6 0.5-1.6 1.8-1.6 0.4-1.6 3.1-1.6-1.4-1.6 1.9-1.6 1.7-1.5 0.1-1.6 1.6-1.6 0-1.6 1.8-1.6 0.2-1.6 1.3-1.6 0.5-1.6 1.4-1.6 2.7-1.6-0.4-1.6 1.2-1.6 0.4-1.6 1.5-1.6 1.7-1.5-0.3-1.6 1.6-1.6 1.9-1.6 0.3-1.6 1-1.5 2.2-1.6 0.2-1.6 3.2-1.6-2.2-1.6 1.8-1.5 1.7-1.6-0.3-1.6 1.2-1.6 1.2-1.6 1.4-1.6 1.3-1.6 0.3-1.6 3.6-1.6-1.3-1.5 1-1.7 1.3-1.6 1-1.6 0.1-1.6 0.9-1.6 1-1.6 2.7-1.6-0.7-1.7 2.1-1.6 1.6-1.6 0.4-1.7 0.3-1.6 2-1.6-0.2-1.7 1.1-1.6 3.9-1.7-2.1-1.6 1.4-1.7 0.3-1.6 0.5-1.7 1.5-1.6 0.7-1.7 1.2-1.7 3.5-1.6-2.7-1.7 1.6-1.7 1.2-1.6 1.1-1.7 0.1-1.7 2.3-1.6 0.5-1.7-0.4-1.7 1.1-1.7 0.6-1.6 1.1-1.7 0.9-1.7 0.5-1.7 1.7-1.7-0.3-1.6 2.6-1.7 0.6-1.7-0.6-1.7 2.8-1.7 0.1-1.7 0.2-1.7 1.4-1.7 0.6-1.6 2.2-1.7-0.5-1.7 0.4-1.7 2.1-1.7 0.6-1.7-0.4-1.7 1.4-1.7 3-1.7-2-1.7 2-1.7-0.3-1.7 3.1-1.7-0.4-1.7 2.1-1.7-0.8-1.6 2.1-1.7-0.9-1.7 1.3-1.7 0.8-1.7 2.1-1.7-0.1-1.7 1.4-1.7-0.3-1.7 2.8-1.7 0-1.7-0.6-1.7 0.8-1.7 1-1.7 3.1-1.6-0.7-1.7 0.4-1.7 0.7-1.7 2.2-1.7 0.1-1.7 0-1.7 1.5-1.6 1.2-1.7-0.2-1.7 1.8-1.7 1.5-1.7 0.2-1.6 1.2-1.7 0.3-1.7 1.1-1.7 1.2-1.6-0.3-1.7 0.9-1.7 3-1.7 0.1-1.6 0.2-1.7 0.3-1.7 1.6-1.7 0.6-1.6 3.1-1.7-2-1.7 1.5-1.7 0.4-1.6 0.9-1.7 3.6-1.7-2-1.7 1.8-1.7 1.1-1.6-0.2-1.7 2.9-1.7-0.7-1.7 0.3-1.7 1.6-1.7 1.4-1.6 0.4-1.7 0.6-1.7 1.7-1.7-0.6-1.7 0.9-1.7 1-1.7 2.7-1.7-0.8-1.7 0.9-1.7 1.5-1.7-0.4-1.7 0.9-1.7 3.1-1.7 0-1.7 0.6-1.7 0.9-1.7-0.6-1.7 3.4-1.7-1.7-1.7 1.7-1.7-0.1-1.7 0.8-1.7 0.6-1.7 1-1.7 1.3-1.7 0.5-1.8 1.4-1.7-0.1-1.7 2.1-1.7-0.6-1.7 1.6-1.7 2.2-1.7-0.5-1.8 1.9-1.7-1-1.7 0.7-1.7 0.9-1.8 2.5Z" fill="#00ff00" stroke="#00ff00" stroke-width="0.5" stroke-linejoin="round"/>
<path class="c" d="M395.5 1288.1l2.1-0.1 2.3-1.7 1.7 0.4 3.2-4 1.4-2.5 2.6 2.2 1.6-0.7 3.4-1.6 1.8-0.8 2.3-4.5 1.7-1.1 2.4 1.8 2.8-0.6 2.1-2.3 2.4-0.8 2.3-2 2-2.1 2.3 0.1 2.3 0.4 1.9-3.3 2.3 0.3 3-2.3 2.2 0.5 2-1 1.4-3 2.9-1.1 2.2-0.7 2.7-0.4 2.2-0.8 2.2 0 2.6-1.2 1.6-1.5 1.7-1.3 2.7-1.4 2.2-1.5 2.4-1.8 1.9-0.5 2.4 0.8 2.7-4.8 2.5-0.8 1.9-0.9 2 0.7 2.2-5.8 2.2 2.6 2.2-0.9 3.1-0.1 1.6-1.4 2.3-0.8 1.9-2.7 2.5-2 2.7-2.6 1.8 0 2.4-0.2 2.5 1.9 1.5-4.7 2.3-0.8 2.4-1.5 1.8-0.6 2.5-2.3 2.6 0.7 1.7-3.8 2.7 1.1 2-2.1 1.8 0 2.7-2.1 2-0.7 2.9-1.6 1.8 0.2 2 0.7 2.5-5 2.5 0.6 1.8-1.1 2.5 0.7 2-6.1 1.8-0.5 2.4-0.1 2.1 0.5 2.9-1.2 1.9-2 2.1-1 2.1-1.4 1.9-3.2 3.2 2.1 1.8-3.5 1.1-0.5 3.4-1.5 1.7-0.5 2.5-1.7 2.5-0.7 1.4-2.9 2.4-0.2 2.4-0.9 2.7 0.8 1.9-3 3 0.9 1.6-2.6 1.3-1.8 2.9-1.6 1.5-0.4 2.8 0.6 2.6-3 1.7-2.9 2.5 0.5 2.7-2.3 1.6-0.3 1.3-2.5 2.3-1.8 3-0.3 2.4-2 1.8 1.2 3.2-1.6 0.8-1.2 2.7-1.6 2.1-2.5 2.7-0.6 1.8-0.6 2.4-2.1 1.9-2 2.4 1.1 2-3.2 1.8-2.8 2.3-0.2 2.4-0.1 2-1.9 1.8-1.8 2.6-2.8 1.6 1.8 2.5-2.6 2.1-1.2 2.9-2.1 1.2 0.4 2.6-3.7 2.1 2.3 2.2-3.5 2.6-1.4 1.2 0.3 2.4-0.9 2.7-1.6 2.6-1.2 1.6-1.7 2.3-0.1 2.5-2.1 2.1-1.1 1.8-2.7 2.3-0.3 2.4-0.9 2.1-1.2 1.8 0.4 2.7-2.7" stroke="#00ff00" stroke-width="1.0"/>
<path class="c" d="M395.6 1295.1l2 0 2.5-1 2.1 1.8 1.7-4.5 3 2.1 1.9-2.1 1.9-1.5 2.7-0.2 2.2-3.7 1.4 1.2 3.1 0 2.8-0.9 1.9-3.1 2.6 0.3 2.1-0.9 2.6-2.6 1.5-0.1 2.7-1 2.1 0.4 2.1-1.9 2.4-3.3 2.8-0.5 2.2 0.4 2.2-1.6 2.5-1.4 1.7-1.1 2.5-2.3 2.2-1.7 2.2 0 1.7-0.9 2.8-0.8 3-2.7 1.5 0.9 2.7-3.1 2.1-0.9 1.5-1.2 2.6-1.2 2-0.8 2.6-0.1 2.8-4.2 1.3 1.7 2.1-2 2.7-1.4 1.9-1.1 2.5-2.4 2.3-1.4 2.2 0.8 2.2-0.4 2.4-1.4 2.4-3.5 2.6-2.2 2 0.3 2.3 1.2 1.9-1.3 1.9-1.4 2.4 0 2.5-2.1 2 0.2 2-4.2 2.2 0.3 2.5-1.6 2.9-2.5 2.4 0.8 2-1.4 1.9-2.9 2.9-0.2 2.3-1 1.8-0.4 2.4 0.4 1.9-2 1.7-1 2.9-2.4 1.9-0.3 2.9-2.1 2.4 0.6 1.9-3.6 1.7-0.7 3 3.5 2.4-5.3 1.9-0.5 2.3-1.7 2.8 0.7 1.9-0.3 1.5-5.8 2.9 3.9 1.9-2.5 2.5-1 1.3-2.7 3.9-1.4 1.7 0.8 1.5-4.3 2.8-0.5 2.4-1.3 2-0.5 2.8-0.1 1.4-3 2.7 1.5 2.1-2.5 2.5-0.3 1.8-1.5 2.8-0.9 0.9-2.2 2.5-2 2.4-0.3 2.6-3.2 2.6-0.5 2.5-1.5 1.1 1.3 2.7-3 1.6-2.6 2.8 0.1 1.9 1.1 2.2-3.6 2.3-1.3 2.5-0.6 1.3-0.2 2.3-0.9 2.3-3.4 1.1-0.1 3.2-2.5 2-2.7 1.6 0.7 2.3-4 2.2 1.3 1.3-3.2 3.1 0.9 1.9-4 2.8-0.5 2.1-0.8 1.2-1.2 3-3.6 1.8-0.7 2-1 1.9-2.2 3.1-2.3 1 3.3 2.6-2.7 1.9-2.9 2.3-2.1 2.6 0 1.4-0.7 2.5-1.4 2.9-2.1 1.2-1.8 1.7-1.4 2.6-1.7 2.9 2.4 1-4.3 2.5 0.2" stroke="#00ff00" stroke-width="1.0"/>
<path d="M395.2 1275.5l1.7-0.4 1.6-2.9 1.6 0.4 1.6-2.3 1.7 1.2 1.6-1.7 1.6-0.4 1.6-2.8 1.7 0.8 1.6-0.9 1.6-2.7 1.7 0.7 1.6-1.2 1.6-2.2 1.7-1.9 1.6-0.5 1.6 0.2 1.7 0.1 1.6-1.7 1.7-0.6 1.6-0.9 1.6-0.6 1.7-0.5 1.6-2.7 1.7-1.4 1.6 1.5 1.7-2 1.6-0.8 1.7-2.6 1.6 1.4 1.7-0.7 1.6-2.6 1.7-0.2 1.7 0.2 1.6-2 1.7-0.8 1.7-0.9 1.6-0.6 1.7-0.1 1.7-1.5 1.7-1 1.7-0.7 1.6-0.7 1.7-1.1 1.7-0.5 1.7-0.4 1.7-0.7 1.7-3.3 1.7 1.2 1.6-0.6 1.7-1 1.7-1.5 1.7-0.1 1.7-0.3 1.7-1.9 1.7-1.5 1.7-0.9 1.6 0.5 1.7-0.6 1.7-1.7 1.7-0.6 1.7-1.4 1.6 0.3 1.7-0.7 1.7-1.2 1.6-1.8 1.7-1.1 1.7-0.3 1.6-1.6 1.7-1.9 1.6 1.6 1.7-2.2 1.6-1.8 1.7 1 1.6-1.8 1.6-0.7 1.7-0.1 1.6-2.8 1.6-1.2 1.7 0.3 1.6 0.2 1.6-1.9 1.7-3 1.6 0.9 1.7-0.9 1.6-0.4 1.6-0.4 1.7-2.6 1.6-0.9 1.7 0 1.6-1.5 1.6 0.6 1.7-1.8 1.6-1.6 1.7 0.5 1.6-0.9 1.6-2.2 1.7-0.1 1.6-0.3 1.7-1 1.6-0.9 1.7-2.2 1.6-0.5 1.6-0.4 1.7-1.5 1.6-0.6 1.7-0.9 1.6-2 1.6-0.9 1.7 0.7 1.6-1 1.7-1.5 1.6-0.1 1.7-1.2 1.6-2.2 1.6 0.5 1.7-1.9 1.6-0.3 1.7-2.6 1.6-0.8 1.7 1 1.6-0.8 1.7-3.8 1.6-0.7 1.6 1.7 1.7-1.5 1.6-1.6 1.7-1.6 1.6 1.1 1.7-0.9 1.6-2.3 1.7 0.3 1.6-1.5 1.7-0.7 1.7-1.6 1.6-0.5 1.7-3.2 1.6 2.2 1.7-2.3 1.6-0.6 1.7-1.1 1.6-0.5 1.7 0.3 1.7-0.8 1.6-1 1.7-1.9 1.7-0.1 1.6-0.5 1.7-1.6 1.7-1.1 1.6-0.8 1.7-1 1.7-0.8 1.6-0.1 1.7-1.1 1.7-0.4 1.7-1 1.6-1 1.7-1.3 1.7-1 1.6-0.2 1.7-1.9 1.7 0.3 1.7-3.2 1.7 1.4 1.6-4.5 1.7 2.5 1.7-2.4 1.7 1.3 1.7-1.4 1.6-1.4 1.7-1.5 1.7-0.4 1.7-0.4 1.7-0.5 1.7-2.2 1.6 0 1.7-1.3 1.7-0.3 1.7 0 1.7-0.8 1.7-1.6 1.7 0.1 1.7-4.6 1.7 0.9 1.6-0.1 1.7 0.4 1.7-1.2 1.7-0.6 1.7-2.2 1.7 0.5 1.7-0.7 1.7-1 1.7-1.6 1.7-0.5 1.7-1.3 1.7-1.1 1.7 0.3 1.7-0.3 0 4-1.7-0.1-1.6 1.3-1.7 0.8-1.7 0.7-1.6 1.4-1.7 2.3-1.7 1.1-1.6-1.1-1.7 1.6-1.6 3.1-1.7 0.4-1.7-0.1-1.6-0.7-1.7 2.5-1.7-0.8-1.6 1-1.7 1.5-1.6 0-1.7 1.1-1.7 2.5-1.6 1.9-1.7-0.9-1.6-0.2-1.7 3.5-1.6-1.2-1.7 1.6-1.7-0.4-1.6 1-1.7 4.9-1.6-2-1.7 0.1-1.6 0.7-1.7 3.8-1.7-0.5-1.6 0.1-1.7 0.7-1.6 1-1.7 1-1.6 0.3-1.7 0.7-1.6 1.7-1.7 2.3-1.6-1-1.7 0.6-1.6 1.6-1.7 1.5-1.6 0.9-1.7 0.2-1.6 1.1-1.7 1.3-1.6 1.9-1.7-1.4-1.6 1.5-1.7 0.7-1.6 2.6-1.7-0.6-1.6 0.6-1.6 2.2-1.7-0.2-1.6 2.2-1.7 0.7-1.6-0.3-1.6 0.8-1.7 1.4-1.6 1.6-1.6 0.1-1.7 0.7-1.6 2.7-1.6 0.2-1.6-0.1-1.7 1.8-1.6 0.8-1.6 0.8-1.6 1-1.7 1.1-1.6 0.1-1.6 1.8-1.6 2.1-1.7-0.8-1.6 2.3-1.6 0.3-1.6 0.9-1.7 1.1-1.6 1.3-1.6-0.1-1.6 2.6-1.7 0.5-1.6 1.4-1.6-0.9-1.6 1.1-1.6 2-1.7-0.3-1.6 1.5-1.6 0.8-1.6 2.2-1.7 0.5-1.6 0.3-1.6 1.7-1.7 0.4-1.6 2.4-1.6 1.6-1.6-1.7-1.7 1-1.6 0.8-1.6 2.5-1.7 1.1-1.6 2.4-1.6-1.5-1.7 0.9-1.6 0.9-1.6 1.1-1.7-0.1-1.6 2.3-1.7 0.9-1.6-0.2-1.7 1.4-1.6 2.4-1.7-0.9-1.6 0.9-1.7 1.6-1.6 0.9-1.7 0.8-1.6 1.8-1.7-0.4-1.6 1.4-1.7 0.7-1.7-0.1-1.6 0.9-1.7 2-1.7 1-1.6 0.7-1.7-0.2-1.7 4.2-1.7-1.6-1.7 0-1.6 0.8-1.7 1-1.7 1.1-1.7 0.5-1.7 1.1-1.7 2.3-1.8-1.3-1.7 1.4-1.7 0.7-1.7 1.7-1.7-0.8-1.7 3.2-1.7-0.6-1.8 0.6-1.7-0.1-1.7 0.8-1.7 0.8-1.7 2.1-1.8-0.6-1.7 0.7-1.7 1.6-1.7 1.2-1.7-0.6-1.7 1.9-1.8 2-1.7-1.2-1.7 1.3-1.7 1.6-1.7-0.2-1.7 1.2-1.7 1.2-1.7 0.7-1.7 1.3-1.6-0.3-1.7 0.2-1.7 0.9-1.7 0.9-1.7 0.7-1.7 1.8-1.6 1.4-1.7-0.5-1.7 1.4-1.7 3-1.7 0.4-1.6-1.2-1.7 1.3-1.7 0.3-1.6 0.8-1.7 2.9-1.7-0.4-1.7 1.6-1.6-0.2-1.7 1.4-1.7 0-1.6 2.6-1.7 0.7-1.6-0.4-1.7 0.8-1.7 3.2-1.6-0.4-1.7 1.5-1.6 0.9-1.7-0.3-1.7 1.1Z" fill="#ffff00" stroke="#ffff00" stroke-width="0.5" stroke-linejoin="round"/>
<path class="c" d="M394.6 1276.1l2.6-2.2 2.7-1.4 1.4-0.3 2.9-0.4 1.5-2 2.3-2.1 2.6-2.7 2-0.4 1.4-1.1 3.3 1 2-5.2 2.5 2 1.3-2.5 3.1-0.1 1.7-4.1 3 0.9 1-0.3 2.3-1.9 2.4-0.1 1.9-1.8 2.9-1.4 2.1-3.1 1.2-0.1 2.9-1.5 2.6-0.6 2.1 2.7 1.7-5.2 2.7 0.1 2.2-1.3 2-0.8 2.5-1.3 1.8-4.5 3 1.5 1.7-3.2 2.9-1 0.8 2.1 3.1-2.5 2.4-2.5 2.3-1.2 1.9 0.7 2.8-3.7 2 3.1 2.2-2 2.6-0.8 2.3-0.8 2-1.5 2-0.7 2.3-3.2 2.5-0.5 2.1-2.4 1.8 2.2 2.7-3.3 1.5-0.8 2.7-2.8 2.2-0.7 2.3-1.2 2-1.9 2.1-1.5 3.1 1.3 1-3.1 2.6-0.3 2.5-1.6 1.7-1.9 2.3-1.1 2.6 0.3 2-2.2 1.9-2.5 2.1-1 2.3-0.9 3.2-1.7 1.1 1.5 2.4-2.8 2.7 0.9 1.4-4.3 2.4-0.9 2.2 2.2 2.4-5.7 1.9-0.4 3.1-1.5 1.6-0.3 2.3-0.6 2-0.4 2.8-1.1 1.1-3.1 2.1-0.5 2.7-3.1 2 1.1 2.4-3.7 2.2 2.5 2.2-5.5 1.9 2.1 2.4-1.9 2.4-2.6 1.7 2.6 2.6-4.4 2.4 2 2.7-4 1.9-0.7 1.7-4.2 2.2 0.6 2.5-0.1 2.2-2.5 2.5-1 1.1-1.8 3.2 0.1 2-1.8 2.1 2.9 1.8-5.4 2.5-0.1 2.4-0.7 2.5-1.8 2.3-0.5 1.5-3.2 3-0.8 1.6-1.5 2.6-1.8 1.3 1.9 2.9-2.2 2-4.4 2.4 1.8 2.4 0.7 2.4-3 2-0.3 1.9-1.1 2.5-1.3 1.8-2.6 2.3-0.8 3.6-0.8 1.4 0.6 2.6-2.7 2.2-3 2.3 2.1 1.3-2.6 3.2-1 2.6-1.2 2.1 0.8 1.9-2.9 2.5-1.1 1.6 0.2 3.1-2.1 1.5-2.6 1.8-2.6 2.9 2.2 1.9 0.6 2.9-5.3 2.1-0.9 2.1-0.2 2.4 0.6 1.9-1.4" stroke="#ffff00" stroke-width="1.0"/>
<path class="c" d="M395.1 1282.5l2.8-4.2 1.9-3 2.4 0.4 2 1.8 2.5-2.9 1.8-1.9 2.8-0.6 1.8-1 2-0.3 2.8-2.3 2.2 0.3 1.7-3.4 2.8-0.5 1.5-1.8 2.8-0.4 1.4 1.3 3.1-5.7 1.6-0.9 2.7-0.1 2.3 1 2.1-2.1 1.6-2.5 2.7 0 2.3-2.9 2.5-0.8 2-0.6 2.2 0.5 2.9-2 1.8-0.6 2.6 0.4 1.1-3.1 2.7 1.1 2.6-3.9 2.2 2.9 2.3-5.5 2.9-1.8 2.6 1.8 1.8-1.5 2 0.1 2-0.9 2.5-3.9 3.4 0.7 1.4 2.1 2.2-4.6 2.5 1.5 2.8-3 1.7-1.7 3-2 1.5-0.5 2.1-2.3 2.3 2.8 2.2-3.2 2.1-1.9 2 0.8 2.8-3.5 2.4 0.8 1.9-0.9 1.9-0.9 2.7-2 2 0.1 2.1-3.1 2.6-0.2 2.4-0.3 1.5-2.5 2-0.4 3-5.6 1.8 2.6 2.8-1.2 1.8-2.2 2 0.2 1.8 0.1 2.1-3 2.9-1 1.9-2.8 1.9-1.5 2.2-0.6 2.2-2.7 2 0.1 2.4-0.2 2-2.5 2.8-1.4 1.9-1.9 1.8 1 2.1-2.5 2.9-1.2 2-0.9 2.1-0.5 1.5-3.7 2.6-0.7 2.1 0.7 2.5-3.3 2.3-0.2 2.2 1.4 2.2-6 1.3 0.6 3.1-0.7 1.4-0.2 3.1-3.2 2.1-2.9 1.2-1 2.7-0.2 2.1-3 2.2 3.2 2.4-4.9 2 1.4 1.3-2 2.9-1.9 2.2-0.9 2.5-3.4 2.7 0 2-0.1 1.9-1.7 2.2-0.8 2.3-1.3 1.1-0.1 2.8-3.6 2.9 0.1 2.1-0.3 2.3-2.7 2-1.6 2.5 0.5 1.9-1.2 2.3-3 1.6-1.5 2.3 0.4 2.5-0.5 1.9-3.3 3.2-1.3 1.8 0.5 2 1.5 2.7-4.8 2.1-1.5 1.4-1.7 2.7 1.2 2.3-2.9 2.3-3 2.3-0.8 1.5-1.1 2.4-0.2 2.4-0.7 2.8-0.2 2.2-3.3 2.2 0.7 2.4-3.6 1.1 1.3 2-1.8 2.9-0.7 2.1-3.4 2.7-0.4" stroke="#ffff00" stroke-width="1.0"/>
<path d="M395.2 1289.9l1.7-1.7 1.6 0.4 1.6-1.1 1.6-1.9 1.6 0.4 1.6-1.6 1.6-1.2 1.6-0.9 1.6-2.1 1.6 0.8 1.7-2.2 1.6-0.6 1.6-1.7 1.6 0.9 1.7-2.9 1.6 1.2 1.6-2.3 1.6-0.3 1.7-0.7 1.6-1.2 1.6-0.7 1.7-0.3 1.6-1.5 1.7-0.7 1.6-1.4 1.6-2 1.7 0.9 1.6-1.8 1.7 0.2 1.6-2.3 1.7 0.7 1.6-0.8 1.7-1.3 1.7-1.8 1.6 0 1.7-1.7 1.6-1.2 1.7 0.6 1.7-1.9 1.7-0.9 1.7-0.3 1.6-2.4 1.7 1.4 1.7-1.9 1.7 0.6 1.7-0.8 1.7-3.3 1.7 1.5 1.7-0.9 1.7-1.7 1.7-1 1.7-0.3 1.7-1.2 1.7 0.2 1.7-1.5 1.6-1.5 1.7 0.3 1.7-3.2 1.7 1.5 1.7-1.1 1.7-0.8 1.7-0.5 1.7-0.1 1.6-2.5 1.7 0.4 1.7-0.5 1.7-0.6 1.6-1.6 1.7-0.6 1.6-0.6 1.7-0.9 1.7-0.7 1.6-1.9 1.7-0.9 1.6-1.4 1.7-0.7 1.6-1 1.7-0.5 1.6-0.1 1.7-1.7 1.6-1.1 1.6 0.1 1.7-1.7 1.6-1.2 1.7-0.1 1.6-1.6 1.6 0.2 1.7-0.5 1.6-1.5 1.6-0.4 1.7-2.5 1.6 0.1 1.6-1.9 1.7-1.6 1.6 1.2 1.6-1.1 1.6-0.8 1.7-1.2 1.6-1 1.6-1.2 1.7-0.7 1.6-0.4 1.6-1.2 1.6-0.6 1.7-3.3 1.6 1 1.6-2.4 1.6-1.1 1.7 0.9 1.6-1.7 1.6-0.9 1.6 0.2 1.7-1.7 1.6-0.9 1.6-1.4 1.6 0.3 1.7-2.3 1.6 0.1 1.6-1.1 1.6-2.8 1.7-0.1 1.6 0.4 1.6-1 1.7-1.9 1.6-0.9 1.6 0.4 1.7-1.4 1.6-1.1 1.6-0.2 1.7-1.8 1.6-0.4 1.6-1.6 1.7-0.4 1.6-0.9 1.7-2.6 1.6 0.6 1.7-0.2 1.6-1.6 1.6-1.2 1.7-0.1 1.6-1.5 1.7-0.6 1.7-2.1 1.6 1.1 1.7-2.7 1.6-1.5 1.7 0.3 1.6-0.8 1.7-1.3 1.7 0.9 1.6-3.2 1.7 1 1.7-1 1.7-2.2 1.6 0.2 1.7-0.1 1.7-0.9 1.6-1 1.7-1.5 1.7 0.1 1.7-1.9 1.7-0.3 1.6-1.2 1.7-1.1 1.7 0.6 1.7-1.6 1.7-0.7 1.7-2.2 1.7-1.1 1.7 0.5 1.6-0.9 1.7-0.7 1.7-1.3 1.7-2.2 1.7 1.7 1.7-0.6 1.7-1.1 1.7-0.1 1.7-0.9 1.7-0.5 1.8-3.1 1.7-1.2 1.7 1.4 1.7-1.3 1.7-3 1.7 1.5 1.7-0.2 1.8-0.1 1.7-1.3 1.7-1.4 1.7 0.1 1.8-1.3 1.7-0.3 1.7-0.3 1.8-2.9 1.7 1.8 1.7-2.5 1.8-0.3 1.7-1.2 0 8.9-1.7-0.2-1.7 1.3-1.6 0-1.7 1.7-1.7 2-1.7-0.8-1.7 1.7-1.6 0.5-1.7 0.8-1.7 0.9-1.6 1.3-1.7-0.2-1.7 2.5-1.6-0.8-1.7 1.5-1.6 0.2-1.7 1-1.7 1.4-1.6 0.1-1.7 0.8-1.6 1.2-1.7 1-1.6 1.3-1.6 1.6-1.7-0.9-1.6 1.1-1.6 1.6-1.7 1.8-1.6-0.5-1.6 1-1.6 4-1.6 0.6-1.7-2.2-1.6 1.1-1.6 1.2-1.6 1.2-1.6 1-1.6 0.6-1.7 1.1-1.6 0.8-1.6 1-1.6 0.4-1.6 1.4-1.6 0.9-1.6 1.2-1.7 1.4-1.6 0.6-1.6 0.1-1.6 1.1-1.7 2.9-1.6 0.3-1.6-0.1-1.7 2.3-1.6-0.6-1.6 0.7-1.7 2.4-1.6 0-1.7 1.7-1.6 0.6-1.6 1-1.7-0.6-1.6 3.2-1.7-1.3-1.6 2.4-1.7 0.3-1.6 0.2-1.6 0.5-1.7 1.8-1.6 0.8-1.7 1-1.6 0-1.7 2.4-1.6-0.7-1.7 1.5-1.6 2.5-1.7-0.9-1.6 1-1.7 1.5-1.6 2.2-1.7 0-1.6 2.5-1.7-1.8-1.7 1.9-1.6 0-1.7 0.8-1.6 1.8-1.7 0.5-1.6 1-1.7-0.4-1.7 3.3-1.6-0.6-1.7-0.1-1.6 1.7-1.7 0.3-1.7 1.1-1.6 0.9-1.7 0-1.6 2.4-1.7 0.7-1.7 0.8-1.6 1.4-1.7-0.3-1.7 1-1.6 0.1-1.7 1.8-1.6 0.9-1.7 0.6-1.7 1-1.6 1-1.7-0.3-1.7 1.1-1.7 0.9-1.6 1.1-1.7 3.2-1.7-2.1-1.6 0.8-1.7 0.7-1.7 2.4-1.7 0.7-1.7-0.3-1.7 0.6-1.6 0.8-1.7 1.1-1.7 0.5-1.7 1.6-1.7 2.2-1.6 0.3-1.7 0-1.7-0.1-1.7 2.3-1.6 1.6-1.7-0.4-1.7 1.3-1.6 0-1.7 0.6-1.7 1.1-1.6 0.2-1.7 1.3-1.7 1.4-1.6 1.6-1.7 0.3-1.6 0.9-1.7 0-1.7 0.8-1.6 1-1.7 0.9-1.6 0.8-1.7 0.6-1.6 2.8-1.7-0.1-1.6-0.1-1.7 1.5-1.7 1-1.6 1.6-1.7-0.6-1.6 1.5-1.7 0.4-1.7 2.2-1.6-0.8-1.7 1.6-1.6 0.3-1.7 1.1-1.7 1.2-1.6 0.6-1.7 0.6-1.7 1.8-1.7-0.3-1.6 1.9-1.7 0.9-1.7 2.5-1.7-1.2-1.7-0.2-1.6 3.5-1.7-0.5-1.7-0.4-1.7 2.2-1.7 0.8-1.7-0.6-1.6 4.1-1.7-2.7-1.7 0.7-1.7 1.9-1.7-0.2-1.7 0.9-1.7 2.1-1.7-0.3-1.7 1.5-1.7 1.9-1.7 0.9-1.6-1.3-1.7 1.4-1.7 0.9-1.7 0.6-1.7 1.3-1.7 1-1.7-0.8-1.7 1.5-1.7 2.8-1.8-1.3Z" fill="#0000ff" stroke="#0000ff" stroke-width="0.5" stroke-linejoin="round"/>
<path class="c" d="M395.2 1289.2l1.7-0.8 2.8-1.7 1.9-2.7 2.2 1.5 1.9-0.5 2.2-1.7 2.3-2.7 2.3 0.3 1.8-3.7 2.9 0.1 1.4-0.8 2.9-1.6 2.7-1.6 1.3-1.5 1.9-0.7 1.9-1.4 2.7-2.6 1.8 2.6 2.7-2 2-1.2 2.3-1.9 1.5-0.8 3.1-1.7 2.2-1.5 1.7-0.7 2.2 1.4 2.6-3.8 1.6-0.2 2.6-3.7 2.4-0.3 2.1-0.4 2-1.7 2.9-1.5 1.5 2.6 2.8-2 2.7-2.8 1.8-0.4 2.2-2.4 2.7 0.7 2.6-1.4 1.5-1.4 1.7 0.2 3.4-0.6 1.4-2.8 2.1-0.8 2.9-1.5 2.3-0.5 1.9-0.9 1.3-1.5 3-2.1 2.7 0.2 2.1-3.1 2.4-2 1.5-0.8 3.7 0.5 1.3-1.4 2-1.9 2.3-0.3 2.4-3.5 2.1 1.9 2.4-2.4 1.8-3.1 2.7 2.1 2 0.9 1.8-4.3 2.3-0.9 2.2-4.3 2.6 1.7 1.6-0.6 2.4-4 1.8 1.1 2.6-3 1.7 0.9 3.3-2.5 2.1 2.4 1.5-4.4 2.6-2 2.1 0.3 1.7-1.1 2.7-3.8 1.6 0 2.8 0.1 2-1.6 2-0.8 2.2-2.3 1.8-1 1.9-2.3 2.3 0.2 2.9-2.6 1.4 0.6 2.7-3 1.3-3.6 3.6 1.5 2 0.7 1.2-2.9 2.7 0.8 1.8-1.8 2.5-2.6 2.9-1.4 1.8 0.5 2.7-2.9 1.1-2.3 2.7-1.3 2.3 2.1 2.4-3.1 1.7-1.5 2.5 2.7 1.7-4.8 2.1 2.3 2.4-4.1 2.8-2.3 1.9-0.5 2.8 0.5 1.7-2.9 2.5-0.7 2.3-1 1.8-1 2.2-0.3 2.2-0.9 2.1 1.2 2.5-4.1 2.3-1.3 2.2-0.3 2.2-2.7 2.6 1.6 1.7-2.1 2.6-1.2 2.5-0.4 1.8-3.7 2.5 1.3 1.4-3.7 3-0.7 2.8 1.9 2.2-2.5 2-1.3 3.3-2.8 0.6 0.3 3.3 0 1.9-1 1.7-2.2 2.8-0.7 2.2 1.1 2.3-1.7 2.4-1.8 2.4 0.3 1.8-1.3 2.8-2.2 2.1 0.3 2.2-1.6" stroke="#0000ff" stroke-width="1.0"/>
<path class="c" d="M395.6 1296.3l1.9-0.2 2.6 0.6 1.8-5.3 2.9 2.4 1.3-2.1 2.7-2.4 2.1 0.5 2.5-2.3 1.9-0.3 3.5-4.4 1.8 3.4 2.2-2.3 2.9-0.9 0.8-1.4 2.3-0.6 2.7-1.2 2.4-0.9 2.3-0.4 2.3-2.7 2 1 2.4-0.9 2.3-1.1 2.1-2.5 2.5-1.4 2.2-1.8 2.1-0.4 1.5-1.6 2.2-0.6 2.8-0.9 2.1-2.1 1.7-1.1 3-0.2 2.3 1.7 2.1-3.8 1.8 2.1 2.8-3 1.6-1.8 3.1-0.5 2.2 1 1.8-4.6 1.7-0.9 2.5-1 1.9-3.1 2.6 0.8 2.3-2.8 2.8-0.6 2 2.1 2.3-1.9 2.3-3.7 1.4 0.8 2.5-1.6 1.9-3.6 2.9 3.4 2.1-3.8 2 0 2.1-1.7 2.5-1.1 2-2.6 2.1-0.9 2.8-0.3 2 1.8 2.3-3.3 1.9-0.5 2.7-2.8 2.1 1.7 1.9-2.9 2.1-2 2.1-1.7 2.8 0.2 2.2-3.1 2.4-0.5 1.7 0 2.7-0.3 2.2-0.6 2.4-5.2 1.6 0.7 2.4-0.3 2.1-2.2 1.9 1.5 2.4-2.7 2.4-1.6 3.1 0.3 1-1.6 3.5-1.6 1.7-0.8 1.5-3.2 3.1-0.9 1.8 0.1 2.4-2.1 2.4-1.7 2.2 0.5 1.3-0.2 2.3-3.9 2.4 0.9 2.8-2.7 1.8-1.3 2.2 0.2 1.9-1.7 2.3-1.4 2.9-0.9 1.5-3.5 2.5 1.5 2.4-0.1 1.4-2.6 2.7-0.5 2.1-1 1.8-3.6 2.8 1.3 1.8-0.9 2.3-2.6 1.9-0.4 2.9-1.9 2-3.3 2.5 1.8 1.7-1.5 2-2.6 2.3-1.6 3.4-0.3 0.8-1.2 3-3.3 0.9-0.8 2.9 0 2.2 0 2.3-4.8 1.3 1 3.1-1.5 1.6 0.9 2-4 2.6 0 2.1-2.7 2 2 2.6-2.3 2.1-1.2 1.9-2.2 2.3-1.2 1.9-0.1 1.8-1.3 3 0.2 2.2-2.3 2.1-1.3 1.9-0.7 2.8-1 2-2.7 2.8-2.4 1.9-0.2 2.3-2 2 1.7 2.6-3.9 1.8-0.3" stroke="#0000ff" stroke-width="1.0"/>
<rect x="755.8" y="998.4" width="252.1" height="161.6" fill="#fff" stroke="#555"/>
<path d="M767 1016.2H824.6" stroke="#b0b0b0"/>
<text class="s" font-size="24" transform="translate(830.5 1025.3) scale(1.042 1)">50</text>
<text class="s" font-size="24" transform="translate(929.9 1025.3) scale(1.03 1)">Cycles</text>
<path d="M767 1046.5H824.6" stroke="#ff6060"/>
<text class="s" font-size="24" transform="translate(830.5 1056.75) scale(1.042 1)">500,000</text>
<text class="s" font-size="24" transform="translate(929.9 1056.75) scale(1.03 1)">Cycles</text>
<path d="M767 1078.3H824.6" stroke="#40ff40"/>
<text class="s" font-size="24" transform="translate(830.5 1088.25) scale(1.042 1)">1000,000</text>
<text class="s" font-size="24" transform="translate(931.8 1088.25) scale(1.03 1)">Cycles</text>
<path d="M767 1110.5H824.6" stroke="#ffff50"/>
<text class="s" font-size="24" transform="translate(830.5 1119.7) scale(1.042 1)">1500,000</text>
<text class="s" font-size="24" transform="translate(931.8 1119.7) scale(1.03 1)">Cycles</text>
<path d="M767 1141.1H824.6" stroke="#a0a0ff"/>
<text class="s" font-size="24" transform="translate(830.5 1151.9) scale(1.042 1)">2000,000</text>
<text class="s" font-size="24" transform="translate(931.8 1151.9) scale(1.03 1)">Cycles</text>
</g>
</svg>
</body></html>
